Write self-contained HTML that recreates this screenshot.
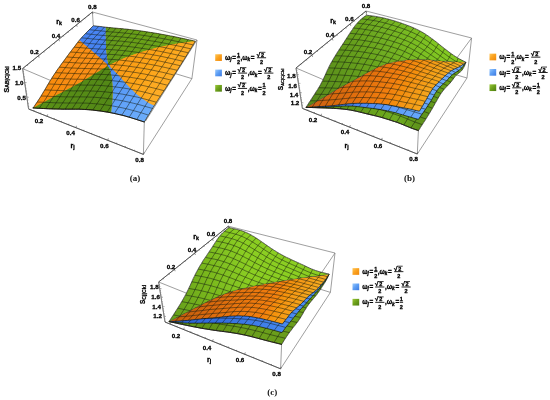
<!DOCTYPE html><html><head><meta charset="utf-8"><title>figure</title><style>html,body{margin:0;padding:0;background:#fff}svg{display:block}</style></head><body><svg width="550" height="400" viewBox="0 0 550 400" font-family="Liberation Sans, sans-serif" fill="#111"><defs><clipPath id="c1"><path d="M33.0,108.0 34.7,108.1 36.4,108.2 38.1,108.3 39.8,108.3 41.5,108.4 43.2,108.5 44.9,108.6 46.6,108.7 48.4,108.7 50.1,108.8 51.9,108.9 53.6,109.0 55.4,109.0 57.2,109.1 58.9,109.1 60.7,109.1 62.5,109.2 64.3,109.2 66.2,109.2 68.0,109.2 69.8,109.2 71.7,109.2 73.5,109.2 75.4,109.2 77.2,109.2 79.1,109.2 81.0,109.3 82.8,109.4 84.7,109.5 86.6,109.6 88.6,109.7 90.5,109.9 92.4,110.1 94.3,110.3 96.2,110.5 98.2,110.8 100.1,111.0 102.1,111.3 104.0,111.6 106.0,111.9 108.0,112.2 110.0,112.6 111.9,113.0 113.9,113.4 115.9,113.8 117.9,114.3 119.9,114.7 121.9,115.2 123.9,115.7 126.0,116.3 128.0,116.9 130.0,117.4 132.0,118.1 134.0,118.7 136.1,119.3 138.1,120.0 140.2,120.6 142.2,121.3 144.3,122.0 145.5,120.1 146.6,118.2 147.7,116.3 148.9,114.5 150.0,112.7 151.1,110.9 152.1,109.1 153.2,107.4 154.3,105.7 155.4,104.0 156.4,102.4 157.5,100.7 158.5,99.1 159.6,97.5 160.6,96.0 161.6,94.4 162.6,92.9 163.6,91.4 164.6,89.9 165.6,88.4 166.5,86.9 167.5,85.5 168.4,84.0 169.3,82.6 170.2,81.2 171.1,79.8 172.0,78.5 172.9,77.1 173.7,75.8 174.6,74.5 175.4,73.1 176.3,71.8 177.1,70.6 177.9,69.3 178.7,68.0 179.5,66.8 180.3,65.6 181.1,64.3 181.8,63.1 182.6,61.9 183.3,60.7 184.1,59.6 184.8,58.4 185.5,57.3 186.2,56.1 186.9,55.0 187.6,53.9 188.3,52.7 189.0,51.6 189.7,50.6 190.3,49.5 191.0,48.4 191.6,47.4 192.3,46.3 192.9,45.3 193.6,44.2 194.2,43.2 194.8,42.2 195.4,41.2 193.4,40.8 191.4,40.3 189.5,39.9 187.5,39.5 185.6,39.0 183.6,38.6 181.7,38.2 179.8,37.8 177.9,37.4 176.0,37.0 174.1,36.6 172.2,36.2 170.3,35.9 168.5,35.5 166.6,35.2 164.8,34.8 162.9,34.5 161.1,34.2 159.3,33.8 157.5,33.5 155.7,33.2 153.9,32.9 152.1,32.6 150.3,32.4 148.6,32.1 146.8,31.8 145.1,31.5 143.3,31.3 141.6,31.0 139.9,30.8 138.2,30.5 136.4,30.3 134.7,30.1 133.1,29.9 131.4,29.7 129.7,29.5 128.0,29.3 126.4,29.1 124.7,29.0 123.1,28.8 121.4,28.6 119.8,28.5 118.2,28.4 116.5,28.2 114.9,28.1 113.3,27.9 111.8,27.8 110.2,27.6 108.6,27.5 107.0,27.3 105.5,27.2 103.9,27.0 102.4,26.8 100.8,26.6 99.3,26.4 97.8,26.3 96.3,26.1 94.8,25.9 93.3,25.7 92.2,26.8 91.2,27.8 90.1,28.9 89.0,30.0 87.9,31.1 86.9,32.1 85.8,33.2 84.7,34.3 83.6,35.5 82.5,36.6 81.4,37.8 80.4,39.0 79.4,40.2 78.4,41.4 77.4,42.7 76.4,44.0 75.5,45.3 74.5,46.6 73.5,47.8 72.5,49.2 71.5,50.5 70.5,51.8 69.5,53.1 68.5,54.5 67.5,55.8 66.5,57.2 65.5,58.6 64.5,60.0 63.5,61.3 62.4,62.7 61.4,64.1 60.4,65.5 59.4,67.0 58.3,68.4 57.3,69.8 56.3,71.3 55.3,72.8 54.3,74.3 53.3,75.8 52.3,77.3 51.4,78.8 50.4,80.4 49.4,82.0 48.5,83.5 47.5,85.1 46.6,86.8 45.6,88.4 44.7,90.0 43.7,91.6 42.7,93.3 41.7,94.9 40.7,96.6 39.7,98.2 38.6,99.8 37.5,101.5 36.4,103.1 35.3,104.7 34.2,106.4 33.0,108.0Z"/></clipPath><linearGradient id="g2" gradientUnits="userSpaceOnUse" x1="40" y1="100" x2="100" y2="40"><stop offset="0" stop-color="#f88a10"/><stop offset="1" stop-color="#fa9014"/></linearGradient><linearGradient id="g3" gradientUnits="userSpaceOnUse" x1="115" y1="60" x2="165" y2="100"><stop offset="0" stop-color="#fa9812"/><stop offset="0.5" stop-color="#fda519"/><stop offset="1" stop-color="#fdb02c"/></linearGradient><linearGradient id="g4" gradientUnits="userSpaceOnUse" x1="85" y1="30" x2="108" y2="65"><stop offset="0" stop-color="#4a86f5"/><stop offset="1" stop-color="#4280ee"/></linearGradient><linearGradient id="g5" gradientUnits="userSpaceOnUse" x1="110" y1="70" x2="145" y2="118"><stop offset="0" stop-color="#4a8cf2"/><stop offset="0.6" stop-color="#62a3fa"/><stop offset="1" stop-color="#6cadfb"/></linearGradient><linearGradient id="g6" gradientUnits="userSpaceOnUse" x1="107" y1="30" x2="190" y2="45"><stop offset="0" stop-color="#64991a"/><stop offset="0.4" stop-color="#69a019"/><stop offset="1" stop-color="#70a81c"/></linearGradient><linearGradient id="g7" gradientUnits="userSpaceOnUse" x1="40" y1="108" x2="112" y2="90"><stop offset="0" stop-color="#5a9016"/><stop offset="1" stop-color="#528814"/></linearGradient><linearGradient id="g8" gradientUnits="userSpaceOnUse" x1="215.2" y1="54.25" x2="221.89999999999998" y2="60.95"><stop offset="0" stop-color="#ffc85a"/><stop offset="0.45" stop-color="#fba321"/><stop offset="1" stop-color="#ef8608"/></linearGradient><linearGradient id="g9" gradientUnits="userSpaceOnUse" x1="215.2" y1="69.6" x2="221.89999999999998" y2="76.3"><stop offset="0" stop-color="#9ccbfd"/><stop offset="0.45" stop-color="#5fa0f5"/><stop offset="1" stop-color="#3c78e0"/></linearGradient><linearGradient id="g10" gradientUnits="userSpaceOnUse" x1="215.2" y1="84.95" x2="221.89999999999998" y2="91.65"><stop offset="0" stop-color="#9cc83c"/><stop offset="0.45" stop-color="#6fa31c"/><stop offset="1" stop-color="#4d7c10"/></linearGradient><linearGradient id="g11" gradientUnits="userSpaceOnUse" x1="306" y1="107" x2="455.4" y2="77.1"><stop offset="0" stop-color="#56871b"/><stop offset="0.07" stop-color="#598c1b"/><stop offset="0.23" stop-color="#5e941b"/><stop offset="0.43" stop-color="#68a21e"/><stop offset="0.6" stop-color="#71af21"/><stop offset="0.91" stop-color="#80c621"/><stop offset="1" stop-color="#83c921"/></linearGradient><linearGradient id="g12" gradientUnits="userSpaceOnUse" x1="306" y1="107" x2="450" y2="90"><stop offset="0" stop-color="#2f6cd8"/><stop offset="0.4" stop-color="#4b87f0"/><stop offset="0.7" stop-color="#64a5fa"/><stop offset="1" stop-color="#6aaafb"/></linearGradient><linearGradient id="g13" gradientUnits="userSpaceOnUse" x1="306" y1="107" x2="401.6" y2="164.4"><stop offset="0" stop-color="#c65f15"/><stop offset="0.15" stop-color="#d56711"/><stop offset="0.36" stop-color="#e47008"/><stop offset="0.55" stop-color="#f27e0a"/><stop offset="0.82" stop-color="#f5a018"/><stop offset="1" stop-color="#f6af27"/></linearGradient><clipPath id="c14"><path d="M306.0,107.4 307.8,107.4 309.6,107.5 311.4,107.5 313.2,107.6 315.0,107.6 316.8,107.7 318.6,107.8 320.4,107.8 322.3,107.9 324.1,107.9 325.9,108.0 327.8,108.1 329.6,108.2 331.5,108.3 333.3,108.4 335.2,108.5 337.1,108.6 339.0,108.7 340.9,108.9 342.7,109.1 344.6,109.3 346.5,109.5 348.4,109.7 350.3,110.1 352.2,110.4 354.1,110.8 356.0,111.2 357.9,111.6 359.8,112.1 361.7,112.5 363.6,113.0 365.5,113.5 367.4,114.0 369.3,114.4 371.3,114.9 373.2,115.3 375.2,115.8 377.1,116.3 379.1,116.8 381.0,117.3 383.0,117.9 384.9,118.5 386.9,119.1 388.8,119.7 390.8,120.3 392.7,121.0 394.7,121.6 396.7,122.3 398.6,123.0 400.6,123.7 402.5,124.5 404.5,125.3 406.4,126.1 408.4,126.9 410.3,127.7 412.3,128.5 414.3,129.2 416.4,129.9 418.4,130.6 419.5,129.0 420.5,127.3 421.6,125.7 422.6,124.2 423.6,122.6 424.6,121.1 425.6,119.5 426.5,118.0 427.5,116.5 428.4,115.0 429.3,113.6 430.2,112.1 431.0,110.7 431.9,109.2 432.7,107.8 433.5,106.4 434.3,105.0 435.0,103.6 435.8,102.3 436.6,100.9 437.3,99.6 438.1,98.2 438.8,97.0 439.6,95.7 440.4,94.4 441.2,93.2 442.0,92.1 442.8,91.0 443.7,89.9 444.6,88.8 445.5,87.8 446.5,86.8 447.4,85.9 448.3,84.9 449.2,84.0 450.1,83.0 450.9,82.0 451.7,81.0 452.5,80.0 453.2,79.0 453.9,78.0 454.7,77.0 455.4,76.1 456.2,75.3 457.1,74.5 458.0,73.8 458.9,73.1 459.8,72.3 460.7,71.6 461.5,70.8 462.2,69.9 462.8,69.0 463.4,68.1 463.9,67.1 464.4,66.2 464.8,65.2 465.2,64.2 465.5,63.3 465.9,62.3 463.8,61.2 461.7,60.1 459.6,59.0 457.6,57.9 455.6,56.6 453.7,55.4 451.8,54.1 450.0,52.8 448.2,51.4 446.5,50.1 444.7,48.7 443.0,47.4 441.3,46.1 439.7,44.7 438.0,43.4 436.4,42.1 434.7,40.8 433.1,39.6 431.5,38.4 429.8,37.2 428.2,36.0 426.5,34.9 424.9,33.8 423.2,32.8 421.5,31.8 419.8,30.9 418.1,30.0 416.4,29.2 414.7,28.4 413.0,27.6 411.3,26.9 409.6,26.2 407.9,25.6 406.2,24.9 404.5,24.3 402.8,23.7 401.2,23.1 399.5,22.5 397.8,22.0 396.2,21.5 394.6,20.9 393.0,20.5 391.3,20.0 389.7,19.5 388.1,19.1 386.5,18.7 384.9,18.3 383.4,17.9 381.8,17.6 380.2,17.3 378.7,17.0 377.1,16.7 375.6,16.4 374.0,16.2 372.5,16.0 371.0,15.8 369.5,15.6 368.0,15.4 366.5,15.2 365.2,16.1 363.8,17.1 362.5,18.1 361.3,19.1 360.0,20.2 358.8,21.4 357.7,22.6 356.6,23.9 355.5,25.2 354.4,26.6 353.4,27.9 352.5,29.4 351.5,30.8 350.5,32.2 349.6,33.7 348.6,35.1 347.7,36.6 346.7,38.1 345.7,39.6 344.8,41.1 343.8,42.6 342.8,44.1 341.8,45.6 340.8,47.1 339.8,48.6 338.8,50.2 337.8,51.7 336.8,53.3 335.8,54.9 334.8,56.5 333.9,58.1 332.9,59.7 332.0,61.3 331.0,63.0 330.1,64.7 329.2,66.4 328.4,68.2 327.5,69.9 326.7,71.7 325.9,73.5 325.1,75.3 324.3,77.1 323.4,78.9 322.6,80.7 321.6,82.5 320.7,84.3 319.7,86.1 318.6,87.8 317.6,89.6 316.4,91.3 315.3,93.1 314.2,94.8 313.0,96.6 311.8,98.4 310.7,100.2 309.5,101.9 308.3,103.8 307.2,105.6 306.0,107.4Z"/></clipPath><linearGradient id="g15" gradientUnits="userSpaceOnUse" x1="306" y1="0" x2="418.4" y2="0"><stop offset="0" stop-color="#000" stop-opacity="0"/><stop offset="0.8" stop-color="#000" stop-opacity="0.0"/><stop offset="1" stop-color="#000" stop-opacity="0.2"/></linearGradient><clipPath id="c16"><path d="M306.0,107.4 308.6,107.4 311.2,107.4 313.8,107.4 316.4,107.3 319.0,107.3 321.7,107.2 324.3,107.1 327.0,107.1 329.7,106.9 332.4,106.8 335.2,106.6 337.9,106.4 340.7,106.2 343.5,106.1 346.3,106.0 349.1,106.0 352.0,106.1 354.8,106.3 357.7,106.6 360.6,106.9 363.5,107.3 366.5,107.7 369.4,108.0 372.4,108.4 375.3,108.8 378.3,109.2 381.4,109.7 384.4,110.3 387.4,110.9 390.4,111.6 393.5,112.3 396.5,113.1 399.6,114.0 402.7,114.9 405.8,115.8 408.9,116.7 412.0,117.6 415.2,118.5 418.4,119.4 419.9,117.2 421.4,115.1 422.9,113.0 424.3,111.0 425.7,109.0 427.0,107.0 428.3,105.0 429.6,103.1 430.8,101.2 431.9,99.3 433.0,97.3 434.1,95.5 435.1,93.6 436.2,91.9 437.4,90.2 438.6,88.6 439.9,87.2 441.3,85.8 442.6,84.5 444.0,83.2 445.4,81.9 446.7,80.7 447.9,79.3 449.0,78.0 450.2,76.8 451.4,75.6 452.7,74.5 454.0,73.6 455.4,72.7 456.7,71.8 458.0,70.9 459.3,70.0 460.5,69.0 461.6,68.0 462.6,66.9 463.5,65.8 464.3,64.7 465.1,63.5 465.9,62.3 465.9,62.3 462.4,62.1 458.9,61.9 455.4,61.7 451.9,61.6 448.4,61.4 444.9,61.3 441.4,61.1 437.9,60.8 434.5,60.4 431.0,60.1 427.5,59.8 424.0,59.6 420.5,59.6 417.0,59.6 413.5,59.6 410.0,59.8 406.5,60.1 403.0,60.4 399.6,60.9 396.1,61.5 392.7,62.2 389.3,63.1 385.9,64.1 382.6,65.3 379.4,66.6 376.2,68.0 373.1,69.6 370.0,71.2 366.9,72.9 363.8,74.6 360.8,76.4 357.7,78.1 354.7,79.8 351.6,81.4 348.5,83.0 345.4,84.7 342.3,86.3 339.3,88.0 336.2,89.8 333.2,91.6 330.2,93.4 327.3,95.2 324.3,97.0 321.2,98.8 318.2,100.6 315.2,102.3 312.1,104.0 309.1,105.7 306.0,107.4Z"/></clipPath><clipPath id="c17"><path d="M306.0,107.4 308.6,107.3 311.2,107.1 313.8,106.9 316.4,106.8 319.0,106.6 321.7,106.5 324.4,106.3 327.1,106.1 329.8,105.9 332.5,105.7 335.2,105.4 338.0,105.0 340.7,104.7 343.5,104.4 346.3,104.0 349.1,103.8 352.0,103.6 354.9,103.4 357.8,103.3 360.7,103.3 363.6,103.3 366.6,103.3 369.6,103.4 372.6,103.5 375.6,103.6 378.6,103.8 381.7,104.1 384.7,104.4 387.8,104.8 390.9,105.4 394.0,105.9 397.1,106.6 400.2,107.2 403.4,107.8 406.5,108.4 409.7,109.0 412.9,109.7 416.2,110.5 419.4,111.2 420.7,109.1 421.9,107.1 423.1,105.1 424.2,103.1 425.4,101.2 426.5,99.2 427.5,97.3 428.5,95.5 429.6,93.6 430.6,91.9 431.7,90.2 432.8,88.6 434.0,87.1 435.3,85.6 436.5,84.3 437.8,82.9 439.1,81.7 440.4,80.4 441.6,79.2 442.9,78.0 444.1,76.8 445.3,75.6 446.5,74.5 447.7,73.5 449.0,72.5 450.2,71.6 451.5,70.7 452.8,69.9 454.1,69.2 455.5,68.6 456.8,68.0 458.1,67.4 459.3,66.8 460.5,66.1 461.7,65.4 462.8,64.6 463.8,63.9 464.9,63.1 465.9,62.3 465.9,62.3 462.4,62.1 458.9,61.9 455.4,61.7 451.9,61.6 448.4,61.4 444.9,61.3 441.4,61.1 437.9,60.8 434.5,60.4 431.0,60.1 427.5,59.8 424.0,59.6 420.5,59.6 417.0,59.6 413.5,59.6 410.0,59.8 406.5,60.1 403.0,60.4 399.6,60.9 396.1,61.5 392.7,62.2 389.3,63.1 385.9,64.1 382.6,65.3 379.4,66.6 376.2,68.0 373.1,69.6 370.0,71.2 366.9,72.9 363.8,74.6 360.8,76.4 357.7,78.1 354.7,79.8 351.6,81.4 348.5,83.0 345.4,84.7 342.3,86.3 339.3,88.0 336.2,89.8 333.2,91.6 330.2,93.4 327.3,95.2 324.3,97.0 321.2,98.8 318.2,100.6 315.2,102.3 312.1,104.0 309.1,105.7 306.0,107.4Z"/></clipPath><linearGradient id="g18" gradientUnits="userSpaceOnUse" x1="489.5" y1="53.65" x2="496.2" y2="60.35"><stop offset="0" stop-color="#ffc85a"/><stop offset="0.45" stop-color="#fba321"/><stop offset="1" stop-color="#ef8608"/></linearGradient><linearGradient id="g19" gradientUnits="userSpaceOnUse" x1="489.5" y1="69.0" x2="496.2" y2="75.7"><stop offset="0" stop-color="#9ccbfd"/><stop offset="0.45" stop-color="#5fa0f5"/><stop offset="1" stop-color="#3c78e0"/></linearGradient><linearGradient id="g20" gradientUnits="userSpaceOnUse" x1="489.5" y1="84.35" x2="496.2" y2="91.05"><stop offset="0" stop-color="#9cc83c"/><stop offset="0.45" stop-color="#6fa31c"/><stop offset="1" stop-color="#4d7c10"/></linearGradient><linearGradient id="g21" gradientUnits="userSpaceOnUse" x1="169" y1="322" x2="260.7" y2="303.7"><stop offset="0" stop-color="#659d1e"/><stop offset="0.18" stop-color="#6ba51e"/><stop offset="0.4" stop-color="#76b31e"/><stop offset="0.95" stop-color="#8bce22"/><stop offset="1" stop-color="#8bce22"/></linearGradient><linearGradient id="g22" gradientUnits="userSpaceOnUse" x1="169" y1="322" x2="310" y2="300"><stop offset="0" stop-color="#2a62d2"/><stop offset="0.4" stop-color="#3570e0"/><stop offset="0.75" stop-color="#4586ee"/><stop offset="1" stop-color="#4c8ef5"/></linearGradient><linearGradient id="g23" gradientUnits="userSpaceOnUse" x1="169" y1="322" x2="263" y2="378.5"><stop offset="0" stop-color="#c05b11"/><stop offset="0.23" stop-color="#d5670c"/><stop offset="0.45" stop-color="#e7740c"/><stop offset="0.7" stop-color="#f27e0a"/><stop offset="0.78" stop-color="#f5920f"/><stop offset="0.9" stop-color="#f6a018"/><stop offset="1" stop-color="#f6aa22"/></linearGradient><clipPath id="c24"><path d="M169.0,321.6 170.7,322.0 172.5,322.3 174.2,322.7 176.0,323.1 177.7,323.5 179.5,323.8 181.3,324.2 183.0,324.6 184.8,325.0 186.6,325.3 188.4,325.7 190.2,326.1 192.0,326.5 193.8,326.8 195.6,327.2 197.5,327.5 199.3,327.9 201.1,328.2 203.0,328.5 204.8,328.8 206.7,329.1 208.6,329.4 210.4,329.7 212.3,330.0 214.2,330.3 216.1,330.5 218.0,330.8 220.0,331.1 221.9,331.3 223.8,331.6 225.7,331.8 227.7,332.1 229.6,332.4 231.6,332.7 233.5,333.0 235.5,333.3 237.4,333.6 239.4,334.0 241.4,334.4 243.3,334.8 245.3,335.2 247.3,335.7 249.3,336.1 251.2,336.6 253.2,337.1 255.2,337.6 257.2,338.1 259.2,338.7 261.2,339.2 263.2,339.7 265.2,340.3 267.2,340.8 269.3,341.3 271.3,341.8 273.3,342.3 275.4,342.9 277.5,343.4 279.5,343.9 281.6,344.4 282.7,342.7 283.7,341.0 284.7,339.4 285.8,337.8 286.8,336.2 287.9,334.7 288.9,333.2 290.0,331.7 291.1,330.3 292.1,328.9 293.2,327.5 294.3,326.1 295.4,324.8 296.4,323.5 297.4,322.2 298.4,320.8 299.3,319.5 300.2,318.1 301.0,316.8 301.8,315.4 302.6,314.1 303.4,312.7 304.1,311.4 304.9,310.1 305.7,308.9 306.5,307.6 307.3,306.4 308.1,305.2 308.9,304.1 309.8,303.0 310.6,301.9 311.5,300.9 312.4,299.8 313.3,298.8 314.1,297.8 315.0,296.8 315.8,295.8 316.6,294.8 317.4,293.7 318.1,292.7 318.8,291.7 319.5,290.7 320.2,289.7 320.9,288.7 321.5,287.7 322.2,286.7 322.8,285.7 323.5,284.7 324.1,283.7 324.7,282.8 325.3,281.8 325.9,280.9 326.4,279.9 326.9,278.9 327.4,278.0 327.8,277.0 328.3,276.0 328.7,275.1 329.1,274.1 326.8,273.6 324.5,273.0 322.2,272.5 320.0,271.9 317.8,271.2 315.6,270.5 313.5,269.7 311.4,268.9 309.4,268.0 307.4,267.1 305.4,266.1 303.5,265.2 301.5,264.3 299.6,263.4 297.7,262.5 295.8,261.7 293.9,260.8 292.0,260.0 290.2,259.1 288.4,258.2 286.6,257.4 284.8,256.5 283.1,255.6 281.3,254.6 279.7,253.7 278.0,252.7 276.4,251.7 274.8,250.7 273.2,249.7 271.7,248.7 270.2,247.7 268.6,246.6 267.1,245.6 265.7,244.6 264.2,243.5 262.7,242.5 261.3,241.5 259.8,240.5 258.4,239.5 257.0,238.6 255.5,237.6 254.1,236.7 252.6,235.9 251.2,235.0 249.7,234.2 248.3,233.5 246.8,232.8 245.4,232.2 243.9,231.6 242.4,231.0 240.9,230.5 239.4,230.1 237.9,229.7 236.4,229.3 234.9,228.9 233.4,228.6 231.9,228.2 230.5,227.9 229.0,227.6 227.7,228.6 226.4,229.6 225.1,230.7 223.8,231.8 222.6,232.9 221.4,234.1 220.3,235.4 219.2,236.7 218.2,238.1 217.2,239.5 216.3,240.9 215.3,242.4 214.4,243.9 213.4,245.3 212.5,246.8 211.5,248.3 210.5,249.7 209.5,251.2 208.5,252.7 207.5,254.2 206.5,255.7 205.5,257.2 204.4,258.7 203.4,260.2 202.4,261.8 201.5,263.4 200.5,265.0 199.5,266.6 198.6,268.2 197.7,269.9 196.8,271.5 195.9,273.2 195.0,275.0 194.2,276.7 193.3,278.4 192.5,280.2 191.7,282.0 190.9,283.8 190.1,285.6 189.2,287.4 188.4,289.2 187.5,291.0 186.6,292.8 185.7,294.6 184.7,296.4 183.7,298.2 182.7,300.0 181.6,301.8 180.6,303.5 179.5,305.3 178.4,307.1 177.2,308.9 176.1,310.7 174.9,312.5 173.8,314.3 172.6,316.1 171.4,317.9 170.2,319.8 169.0,321.6Z"/></clipPath><linearGradient id="g25" gradientUnits="userSpaceOnUse" x1="169" y1="0" x2="281.6" y2="0"><stop offset="0" stop-color="#000" stop-opacity="0"/><stop offset="0.3" stop-color="#000" stop-opacity="0.17"/><stop offset="1" stop-color="#000" stop-opacity="0.24"/></linearGradient><clipPath id="c26"><path d="M169.0,321.6 171.6,321.9 174.1,322.1 176.7,322.4 179.3,322.6 182.0,322.8 184.6,323.0 187.3,323.1 190.0,323.2 192.7,323.2 195.4,323.2 198.2,323.2 200.9,323.2 203.7,323.1 206.5,323.1 209.3,323.1 212.2,323.0 215.0,323.0 217.9,323.0 220.8,323.0 223.7,323.1 226.6,323.2 229.6,323.3 232.5,323.5 235.5,323.6 238.5,323.8 241.6,324.1 244.6,324.3 247.7,324.7 250.7,325.1 253.8,325.6 256.9,326.2 260.0,326.8 263.1,327.5 266.2,328.3 269.3,329.1 272.5,329.9 275.6,330.8 278.8,331.7 282.0,332.6 283.6,330.4 285.1,328.3 286.6,326.3 288.2,324.4 289.8,322.5 291.3,320.6 292.8,318.8 294.2,317.0 295.7,315.2 297.1,313.5 298.5,311.8 299.9,310.2 301.3,308.6 302.7,307.0 304.1,305.5 305.5,304.0 306.8,302.6 308.1,301.1 309.3,299.7 310.6,298.3 311.8,296.9 313.1,295.6 314.3,294.3 315.5,293.0 316.7,291.7 317.8,290.5 318.9,289.2 319.9,287.9 320.9,286.6 321.9,285.3 322.9,284.1 323.8,282.8 324.7,281.6 325.6,280.4 326.3,279.1 327.1,277.9 327.8,276.6 328.4,275.3 329.1,274.1 329.1,274.1 325.7,274.7 322.3,275.2 318.9,275.8 315.5,276.2 312.1,276.6 308.7,277.0 305.3,277.5 301.8,277.9 298.4,278.4 295.0,278.9 291.6,279.4 288.2,280.0 284.8,280.5 281.4,281.1 278.0,281.7 274.6,282.2 271.3,282.8 267.9,283.5 264.5,284.1 261.1,284.7 257.7,285.4 254.4,286.1 251.0,286.8 247.6,287.5 244.3,288.2 240.9,289.0 237.6,289.8 234.2,290.7 231.0,291.7 227.7,292.8 224.5,294.0 221.3,295.3 218.1,296.6 214.9,298.0 211.8,299.5 208.7,301.0 205.6,302.5 202.6,304.1 199.5,305.7 196.4,307.2 193.4,308.8 190.3,310.4 187.3,312.0 184.2,313.6 181.2,315.2 178.1,316.8 175.1,318.4 172.0,320.0 169.0,321.6Z"/></clipPath><clipPath id="c27"><path d="M169.0,321.6 171.6,321.5 174.2,321.3 176.8,321.2 179.4,321.0 182.1,320.8 184.7,320.6 187.4,320.4 190.1,320.1 192.8,319.8 195.5,319.5 198.2,319.2 201.0,318.9 203.8,318.6 206.6,318.4 209.4,318.1 212.2,317.9 215.1,317.7 218.0,317.4 220.9,317.1 223.8,316.8 226.7,316.5 229.6,316.2 232.6,316.0 235.6,315.9 238.6,315.8 241.7,315.9 244.8,316.1 247.8,316.3 250.9,316.7 254.0,317.2 257.1,317.8 260.2,318.4 263.4,319.1 266.5,319.9 269.6,320.6 272.8,321.4 276.0,322.3 279.2,323.1 282.4,324.0 283.9,322.1 285.3,320.2 286.8,318.4 288.2,316.5 289.6,314.8 291.0,313.1 292.5,311.6 294.0,310.2 295.6,308.8 297.1,307.4 298.7,306.1 300.1,304.8 301.5,303.5 302.9,302.1 304.1,300.8 305.4,299.4 306.6,298.1 307.9,296.9 309.2,295.7 310.5,294.6 311.9,293.6 313.2,292.6 314.5,291.6 315.8,290.6 316.9,289.6 318.0,288.5 319.0,287.3 320.0,286.2 321.0,285.0 321.9,283.9 322.9,282.9 323.8,281.8 324.7,280.7 325.5,279.6 326.3,278.5 327.0,277.4 327.7,276.3 328.4,275.2 329.1,274.1 329.1,274.1 325.7,274.7 322.3,275.2 318.9,275.8 315.5,276.2 312.1,276.6 308.7,277.0 305.3,277.5 301.8,277.9 298.4,278.4 295.0,278.9 291.6,279.4 288.2,280.0 284.8,280.5 281.4,281.1 278.0,281.7 274.6,282.2 271.3,282.8 267.9,283.5 264.5,284.1 261.1,284.7 257.7,285.4 254.4,286.1 251.0,286.8 247.6,287.5 244.3,288.2 240.9,289.0 237.6,289.8 234.2,290.7 231.0,291.7 227.7,292.8 224.5,294.0 221.3,295.3 218.1,296.6 214.9,298.0 211.8,299.5 208.7,301.0 205.6,302.5 202.6,304.1 199.5,305.7 196.4,307.2 193.4,308.8 190.3,310.4 187.3,312.0 184.2,313.6 181.2,315.2 178.1,316.8 175.1,318.4 172.0,320.0 169.0,321.6Z"/></clipPath><linearGradient id="g28" gradientUnits="userSpaceOnUse" x1="352.5" y1="268.15" x2="359.2" y2="274.84999999999997"><stop offset="0" stop-color="#ffc85a"/><stop offset="0.45" stop-color="#fba321"/><stop offset="1" stop-color="#ef8608"/></linearGradient><linearGradient id="g29" gradientUnits="userSpaceOnUse" x1="352.5" y1="283.5" x2="359.2" y2="290.2"><stop offset="0" stop-color="#9ccbfd"/><stop offset="0.45" stop-color="#5fa0f5"/><stop offset="1" stop-color="#3c78e0"/></linearGradient><linearGradient id="g30" gradientUnits="userSpaceOnUse" x1="352.5" y1="298.84999999999997" x2="359.2" y2="305.54999999999995"><stop offset="0" stop-color="#9cc83c"/><stop offset="0.45" stop-color="#6fa31c"/><stop offset="1" stop-color="#4d7c10"/></linearGradient><filter id="soft" x="-2%" y="-2%" width="104%" height="104%"><feGaussianBlur stdDeviation="0.32"/></filter></defs><g filter="url(#soft)"><path d="M22.6,68.6 92.4,12.0 M92.4,12.0 197.0,40.0 M22.6,68.6 28.6,109.0 M197.0,40.0 191.9,78.6 M28.6,109.0 143.4,154.4 M143.4,154.4 191.9,78.6 M143.4,154.4 144.3,122.0 M191.9,78.6 150.0,66.0 M92.4,12.0 93.3,25.7 M22.6,68.6 60.0,84.5 M197.0,40.0 145.6,121.0" stroke="#767676" stroke-width="0.7" fill="none"/>
<g clip-path="url(#c1)">
<path d="M33.0,108.0 34.7,108.1 36.4,108.2 38.1,108.3 39.8,108.3 41.5,108.4 43.2,108.5 44.9,108.6 46.6,108.7 48.4,108.7 50.1,108.8 51.9,108.9 53.6,109.0 55.4,109.0 57.2,109.1 58.9,109.1 60.7,109.1 62.5,109.2 64.3,109.2 66.2,109.2 68.0,109.2 69.8,109.2 71.7,109.2 73.5,109.2 75.4,109.2 77.2,109.2 79.1,109.2 81.0,109.3 82.8,109.4 84.7,109.5 86.6,109.6 88.6,109.7 90.5,109.9 92.4,110.1 94.3,110.3 96.2,110.5 98.2,110.8 100.1,111.0 102.1,111.3 104.0,111.6 106.0,111.9 108.0,112.2 110.0,112.6 111.9,113.0 113.9,113.4 115.9,113.8 117.9,114.3 119.9,114.7 121.9,115.2 123.9,115.7 126.0,116.3 128.0,116.9 130.0,117.4 132.0,118.1 134.0,118.7 136.1,119.3 138.1,120.0 140.2,120.6 142.2,121.3 144.3,122.0 145.5,120.1 146.6,118.2 147.7,116.3 148.9,114.5 150.0,112.7 151.1,110.9 152.1,109.1 153.2,107.4 154.3,105.7 155.4,104.0 156.4,102.4 157.5,100.7 158.5,99.1 159.6,97.5 160.6,96.0 161.6,94.4 162.6,92.9 163.6,91.4 164.6,89.9 165.6,88.4 166.5,86.9 167.5,85.5 168.4,84.0 169.3,82.6 170.2,81.2 171.1,79.8 172.0,78.5 172.9,77.1 173.7,75.8 174.6,74.5 175.4,73.1 176.3,71.8 177.1,70.6 177.9,69.3 178.7,68.0 179.5,66.8 180.3,65.6 181.1,64.3 181.8,63.1 182.6,61.9 183.3,60.7 184.1,59.6 184.8,58.4 185.5,57.3 186.2,56.1 186.9,55.0 187.6,53.9 188.3,52.7 189.0,51.6 189.7,50.6 190.3,49.5 191.0,48.4 191.6,47.4 192.3,46.3 192.9,45.3 193.6,44.2 194.2,43.2 194.8,42.2 195.4,41.2 193.4,40.8 191.4,40.3 189.5,39.9 187.5,39.5 185.6,39.0 183.6,38.6 181.7,38.2 179.8,37.8 177.9,37.4 176.0,37.0 174.1,36.6 172.2,36.2 170.3,35.9 168.5,35.5 166.6,35.2 164.8,34.8 162.9,34.5 161.1,34.2 159.3,33.8 157.5,33.5 155.7,33.2 153.9,32.9 152.1,32.6 150.3,32.4 148.6,32.1 146.8,31.8 145.1,31.5 143.3,31.3 141.6,31.0 139.9,30.8 138.2,30.5 136.4,30.3 134.7,30.1 133.1,29.9 131.4,29.7 129.7,29.5 128.0,29.3 126.4,29.1 124.7,29.0 123.1,28.8 121.4,28.6 119.8,28.5 118.2,28.4 116.5,28.2 114.9,28.1 113.3,27.9 111.8,27.8 110.2,27.6 108.6,27.5 107.0,27.3 105.5,27.2 103.9,27.0 102.4,26.8 100.8,26.6 99.3,26.4 97.8,26.3 96.3,26.1 94.8,25.9 93.3,25.7 92.2,26.8 91.2,27.8 90.1,28.9 89.0,30.0 87.9,31.1 86.9,32.1 85.8,33.2 84.7,34.3 83.6,35.5 82.5,36.6 81.4,37.8 80.4,39.0 79.4,40.2 78.4,41.4 77.4,42.7 76.4,44.0 75.5,45.3 74.5,46.6 73.5,47.8 72.5,49.2 71.5,50.5 70.5,51.8 69.5,53.1 68.5,54.5 67.5,55.8 66.5,57.2 65.5,58.6 64.5,60.0 63.5,61.3 62.4,62.7 61.4,64.1 60.4,65.5 59.4,67.0 58.3,68.4 57.3,69.8 56.3,71.3 55.3,72.8 54.3,74.3 53.3,75.8 52.3,77.3 51.4,78.8 50.4,80.4 49.4,82.0 48.5,83.5 47.5,85.1 46.6,86.8 45.6,88.4 44.7,90.0 43.7,91.6 42.7,93.3 41.7,94.9 40.7,96.6 39.7,98.2 38.6,99.8 37.5,101.5 36.4,103.1 35.3,104.7 34.2,106.4 33.0,108.0Z" fill="#f59a1a"/>
<path d="M108.5,65.6 105.4,67.4 102.4,69.1 99.4,70.9 96.3,72.7 93.3,74.5 90.4,76.4 87.4,78.2 84.4,80.1 81.3,81.9 78.3,83.6 75.2,85.3 72.1,87.0 69.0,88.6 65.9,90.2 62.8,91.9 59.6,93.5 56.5,95.1 53.4,96.8 50.4,98.5 47.3,100.2 44.2,101.9 41.1,103.5 38.0,105.2 34.9,106.9 31.9,108.6 28.8,110.3 25.7,112.0 22.6,113.7 19.5,115.4 10.0,60.0 63.5,26.6 65.1,27.9 66.6,29.3 68.2,30.6 69.8,31.9 71.3,33.3 72.9,34.6 74.4,35.9 76.0,37.2 77.6,38.6 79.1,39.9 80.7,41.2 82.3,42.6 83.8,43.9 85.4,45.2 87.0,46.5 88.5,47.9 90.1,49.2 91.6,50.6 93.2,51.9 94.7,53.3 96.3,54.6 97.8,56.0 99.4,57.3 100.9,58.7 102.4,60.1 103.9,61.5 105.5,62.8 107.0,64.2 108.5,65.6Z" fill="url(#g2)"/>
<path d="M108.5,65.6 107.0,64.2 105.5,62.8 103.9,61.5 102.4,60.1 100.9,58.7 99.4,57.3 97.8,56.0 96.3,54.6 94.7,53.3 93.2,51.9 91.6,50.6 90.1,49.2 88.5,47.9 87.0,46.5 85.4,45.2 83.8,43.9 82.3,42.6 80.7,41.2 79.1,39.9 77.6,38.6 76.0,37.2 74.4,35.9 72.9,34.6 71.3,33.3 69.8,31.9 68.2,30.6 66.6,29.3 65.1,27.9 63.5,26.6 80.0,5.0 105.9,10.0 105.9,11.9 105.9,13.8 105.9,15.8 105.9,17.7 105.9,19.6 105.9,21.5 105.9,23.5 105.9,25.4 105.9,27.3 105.9,29.2 105.9,31.1 105.9,33.1 105.8,35.0 105.8,36.9 105.9,38.8 105.9,40.8 105.9,42.7 106.0,44.6 106.1,46.5 106.2,48.5 106.4,50.4 106.6,52.3 106.8,54.2 107.0,56.1 107.3,58.0 107.6,59.9 107.9,61.8 108.2,63.7 108.5,65.6Z" fill="url(#g4)"/>
<path d="M108.5,65.6 108.2,63.7 107.9,61.8 107.6,59.9 107.3,58.0 107.0,56.1 106.8,54.2 106.6,52.3 106.4,50.4 106.2,48.5 106.1,46.5 106.0,44.6 105.9,42.7 105.9,40.8 105.9,38.8 105.8,36.9 105.8,35.0 105.9,33.1 105.9,31.1 105.9,29.2 105.9,27.3 105.9,25.4 105.9,23.5 105.9,21.5 105.9,19.6 105.9,17.7 105.9,15.8 105.9,13.8 105.9,11.9 105.9,10.0 200.0,10.0 210.8,39.2 207.2,39.7 203.5,40.2 199.9,40.6 196.3,41.1 192.6,41.5 189.0,42.0 185.3,42.5 181.7,43.0 178.1,43.5 174.5,44.1 170.9,44.7 167.3,45.4 163.7,46.2 160.1,47.0 156.5,47.8 153.0,48.7 149.4,49.7 145.9,50.7 142.4,51.8 138.9,52.9 135.4,54.0 131.9,55.2 128.5,56.5 125.1,57.8 121.7,59.2 118.4,60.7 115.1,62.3 111.8,63.9 108.5,65.6Z" fill="url(#g6)"/>
<path d="M108.5,65.6 111.8,63.9 115.1,62.3 118.4,60.7 121.7,59.2 125.1,57.8 128.5,56.5 131.9,55.2 135.4,54.0 138.9,52.9 142.4,51.8 145.9,50.7 149.4,49.7 153.0,48.7 156.5,47.8 160.1,47.0 163.7,46.2 167.3,45.4 170.9,44.7 174.5,44.1 178.1,43.5 181.7,43.0 185.3,42.5 189.0,42.0 192.6,41.5 196.3,41.1 199.9,40.6 203.5,40.2 207.2,39.7 210.8,39.2 210.0,100.0 162.9,109.6 160.7,108.6 158.5,107.5 156.3,106.5 154.1,105.5 151.8,104.5 149.6,103.4 147.5,102.2 145.5,100.8 143.5,99.4 141.6,97.9 139.6,96.5 137.7,94.9 135.9,93.4 134.1,91.7 132.3,90.1 130.5,88.4 128.8,86.6 127.2,84.8 125.5,83.0 123.9,81.2 122.2,79.4 120.6,77.6 119.0,75.8 117.3,74.1 115.6,72.3 113.8,70.6 112.1,68.9 110.3,67.3 108.5,65.6Z" fill="url(#g3)"/>
<path d="M108.5,65.6 110.3,67.3 112.1,68.9 113.8,70.6 115.6,72.3 117.3,74.1 119.0,75.8 120.6,77.6 122.2,79.4 123.9,81.2 125.5,83.0 127.2,84.8 128.8,86.6 130.5,88.4 132.3,90.1 134.1,91.7 135.9,93.4 137.7,94.9 139.6,96.5 141.6,97.9 143.5,99.4 145.5,100.8 147.5,102.2 149.6,103.4 151.8,104.5 154.1,105.5 156.3,106.5 158.5,107.5 160.7,108.6 162.9,109.6 150.0,135.0 110.0,130.0 110.1,127.8 110.2,125.5 110.3,123.3 110.4,121.0 110.5,118.8 110.7,116.6 110.9,114.3 111.1,112.1 111.3,109.9 111.6,107.7 111.8,105.4 112.1,103.2 112.3,101.0 112.4,98.7 112.5,96.5 112.6,94.3 112.6,92.0 112.6,89.8 112.6,87.5 112.5,85.3 112.3,83.1 112.1,80.8 111.8,78.6 111.5,76.4 111.0,74.2 110.5,72.0 109.8,69.9 109.2,67.7 108.5,65.6Z" fill="url(#g5)"/>
<path d="M108.5,65.6 109.2,67.7 109.8,69.9 110.5,72.0 111.0,74.2 111.5,76.4 111.8,78.6 112.1,80.8 112.3,83.1 112.5,85.3 112.6,87.5 112.6,89.8 112.6,92.0 112.6,94.3 112.5,96.5 112.4,98.7 112.3,101.0 112.1,103.2 111.8,105.4 111.6,107.7 111.3,109.9 111.1,112.1 110.9,114.3 110.7,116.6 110.5,118.8 110.4,121.0 110.3,123.3 110.2,125.5 110.1,127.8 110.0,130.0 40.0,130.0 19.5,115.4 22.6,113.7 25.7,112.0 28.8,110.3 31.9,108.6 34.9,106.9 38.0,105.2 41.1,103.5 44.2,101.9 47.3,100.2 50.4,98.5 53.4,96.8 56.5,95.1 59.6,93.5 62.8,91.9 65.9,90.2 69.0,88.6 72.1,87.0 75.2,85.3 78.3,83.6 81.3,81.9 84.4,80.1 87.4,78.2 90.4,76.4 93.3,74.5 96.3,72.7 99.4,70.9 102.4,69.1 105.4,67.4 108.5,65.6Z" fill="url(#g7)"/>
<ellipse cx="108.6" cy="65.7" rx="2.3" ry="1.0" transform="rotate(48 108.6 65.7)" fill="#4886f0"/>
<path d="M39.2,108.3 41.3,105.3 43.4,102.3 45.4,99.3 47.3,96.2 49.2,93.2 50.9,90.2 52.7,87.2 54.5,84.2 56.2,81.3 58.0,78.5 59.8,75.7 61.6,72.9 63.5,70.2 65.4,67.6 67.2,65.0 69.1,62.4 71.0,59.9 72.8,57.4 74.6,54.9 76.4,52.4 78.2,50.0 80.0,47.6 81.8,45.3 83.6,42.9 85.4,40.6 87.3,38.4 89.2,36.3 91.1,34.3 93.1,32.3 95.0,30.3 96.9,28.3 98.8,26.4 M37.2,102.0 40.3,102.1 43.4,102.3 46.6,102.4 49.7,102.5 52.9,102.7 56.1,102.8 59.4,102.9 62.7,102.9 66.0,103.0 69.3,103.0 72.7,103.0 76.0,103.0 79.4,103.0 82.9,103.1 86.3,103.1 89.8,103.3 93.4,103.6 96.9,103.9 100.4,104.2 104.0,104.7 107.6,105.2 111.3,105.7 114.9,106.4 118.6,107.1 122.3,107.8 126.0,108.7 129.7,109.6 133.4,110.6 137.1,111.6 140.9,112.7 144.7,113.9 148.5,115.1 M45.5,108.6 47.7,105.6 49.7,102.5 51.7,99.5 53.6,96.5 55.5,93.5 57.3,90.4 59.0,87.5 60.8,84.5 62.6,81.6 64.3,78.8 66.1,76.0 68.0,73.3 69.8,70.6 71.7,68.0 73.5,65.4 75.4,62.8 77.2,60.3 79.0,57.8 80.8,55.3 82.6,52.9 84.4,50.5 86.1,48.1 87.9,45.8 89.6,43.5 91.4,41.2 93.2,39.0 95.1,36.9 97.0,34.9 98.9,32.9 100.8,30.9 102.7,29.0 104.5,27.0 M41.1,96.0 44.2,96.1 47.3,96.2 50.5,96.4 53.6,96.5 56.8,96.6 60.0,96.7 63.3,96.8 66.6,96.9 69.9,96.9 73.2,96.9 76.6,96.9 79.9,96.9 83.3,96.9 86.8,97.0 90.2,97.1 93.7,97.2 97.3,97.5 100.8,97.8 104.4,98.1 107.9,98.6 111.6,99.0 115.2,99.6 118.8,100.2 122.5,100.8 126.2,101.6 129.9,102.4 133.6,103.3 137.4,104.2 141.1,105.2 144.9,106.3 148.7,107.4 152.6,108.5 M52.0,108.9 54.1,105.8 56.1,102.8 58.1,99.7 60.0,96.7 61.9,93.7 63.7,90.7 65.5,87.7 67.2,84.8 69.0,81.9 70.8,79.0 72.6,76.3 74.4,73.5 76.2,70.9 78.1,68.3 79.9,65.7 81.7,63.2 83.5,60.7 85.3,58.2 87.1,55.7 88.8,53.3 90.6,50.9 92.4,48.6 94.1,46.3 95.8,44.0 97.5,41.7 99.3,39.5 101.1,37.5 103.0,35.4 104.8,33.5 106.7,31.5 108.5,29.6 110.3,27.6 M44.7,89.9 47.8,90.0 50.9,90.2 54.1,90.3 57.3,90.4 60.5,90.6 63.7,90.7 66.9,90.8 70.2,90.8 73.5,90.9 76.9,90.9 80.2,90.9 83.6,90.9 87.0,90.9 90.5,91.0 93.9,91.1 97.4,91.3 101.0,91.5 104.5,91.8 108.1,92.2 111.7,92.6 115.3,93.1 118.9,93.6 122.6,94.2 126.3,94.9 130.0,95.6 133.7,96.4 137.5,97.2 141.2,98.1 145.0,99.1 148.8,100.1 152.6,101.2 156.5,102.3 M58.5,109.1 60.6,106.0 62.7,102.9 64.7,99.9 66.6,96.9 68.4,93.8 70.2,90.8 72.0,87.8 73.8,84.9 75.5,82.1 77.3,79.2 79.1,76.5 80.9,73.8 82.8,71.1 84.6,68.5 86.4,66.0 88.2,63.4 90.0,60.9 91.8,58.5 93.5,56.0 95.2,53.6 97.0,51.3 98.7,49.0 100.4,46.7 102.1,44.4 103.8,42.2 105.5,40.0 107.3,37.9 109.1,35.9 110.9,34.0 112.7,32.0 114.4,30.1 116.1,28.2 M48.2,83.9 51.3,84.1 54.5,84.2 57.6,84.4 60.8,84.5 64.0,84.6 67.2,84.8 70.5,84.9 73.8,84.9 77.1,85.0 80.4,85.0 83.8,85.1 87.2,85.1 90.6,85.1 94.1,85.2 97.5,85.3 101.0,85.5 104.6,85.8 108.1,86.1 111.7,86.5 115.3,86.9 118.9,87.4 122.6,87.9 126.3,88.5 130.0,89.1 133.7,89.8 137.4,90.6 141.2,91.4 145.0,92.3 148.8,93.3 152.6,94.3 156.5,95.3 160.3,96.3 M65.1,109.2 67.2,106.1 69.3,103.0 71.3,100.0 73.2,96.9 75.0,93.9 76.9,90.9 78.6,87.9 80.4,85.0 82.2,82.2 84.0,79.4 85.8,76.6 87.6,73.9 89.4,71.3 91.2,68.7 93.0,66.2 94.8,63.7 96.6,61.2 98.3,58.7 100.0,56.3 101.7,54.0 103.4,51.6 105.1,49.3 106.8,47.0 108.4,44.8 110.1,42.6 111.8,40.5 113.5,38.4 115.3,36.4 117.0,34.5 118.8,32.5 120.5,30.6 122.1,28.7 M51.8,78.2 54.9,78.3 58.0,78.5 61.2,78.6 64.3,78.8 67.5,78.9 70.8,79.0 74.0,79.2 77.3,79.2 80.6,79.3 84.0,79.4 87.4,79.4 90.8,79.5 94.2,79.5 97.6,79.6 101.1,79.8 104.6,80.0 108.2,80.3 111.7,80.6 115.3,81.0 118.9,81.4 122.5,81.9 126.2,82.4 129.9,83.0 133.6,83.6 137.3,84.3 141.1,85.1 144.8,85.9 148.6,86.8 152.4,87.7 156.3,88.7 160.1,89.7 164.0,90.7 M71.9,109.2 74.0,106.1 76.0,103.0 78.0,100.0 79.9,96.9 81.8,93.9 83.6,90.9 85.4,88.0 87.2,85.1 89.0,82.3 90.8,79.5 92.6,76.8 94.3,74.1 96.1,71.5 97.9,68.9 99.7,66.4 101.5,63.9 103.2,61.4 104.9,59.0 106.6,56.6 108.3,54.3 110.0,52.0 111.7,49.7 113.3,47.4 114.9,45.2 116.6,43.1 118.2,41.0 119.9,38.9 121.6,36.9 123.3,35.0 125.0,33.1 126.6,31.2 128.2,29.3 M55.4,72.6 58.5,72.8 61.6,72.9 64.8,73.1 68.0,73.3 71.2,73.4 74.4,73.5 77.7,73.7 80.9,73.8 84.2,73.9 87.6,73.9 91.0,74.0 94.3,74.1 97.8,74.2 101.2,74.3 104.7,74.5 108.2,74.7 111.7,75.0 115.3,75.4 118.8,75.7 122.5,76.2 126.1,76.7 129.7,77.2 133.4,77.8 137.1,78.4 140.8,79.1 144.6,79.8 148.4,80.6 152.2,81.5 156.0,82.4 159.8,83.3 163.7,84.3 167.6,85.3 M78.7,109.2 80.8,106.1 82.9,103.1 84.9,100.0 86.8,97.0 88.6,94.0 90.5,91.0 92.3,88.1 94.1,85.2 95.8,82.4 97.6,79.6 99.4,76.9 101.2,74.3 103.0,71.7 104.8,69.2 106.6,66.7 108.3,64.2 110.0,61.8 111.7,59.4 113.4,57.0 115.0,54.7 116.7,52.4 118.3,50.2 119.9,48.0 121.5,45.8 123.1,43.6 124.7,41.6 126.4,39.6 128.0,37.6 129.7,35.7 131.3,33.8 132.9,31.9 134.4,30.0 M59.2,67.2 62.3,67.4 65.4,67.6 68.5,67.8 71.7,68.0 74.9,68.1 78.1,68.3 81.3,68.4 84.6,68.5 87.9,68.6 91.2,68.7 94.6,68.8 97.9,68.9 101.4,69.0 104.8,69.2 108.2,69.4 111.7,69.6 115.2,69.9 118.8,70.3 122.4,70.7 125.9,71.1 129.6,71.6 133.2,72.2 136.9,72.7 140.6,73.4 144.3,74.0 148.0,74.8 151.8,75.6 155.5,76.4 159.4,77.3 163.2,78.2 167.0,79.1 170.9,80.1 M85.7,109.5 87.8,106.4 89.8,103.3 91.8,100.3 93.7,97.2 95.6,94.2 97.4,91.3 99.2,88.4 101.0,85.5 102.8,82.7 104.6,80.0 106.4,77.3 108.2,74.7 110.0,72.1 111.7,69.6 113.5,67.2 115.2,64.7 116.9,62.3 118.6,59.9 120.2,57.6 121.9,55.3 123.5,53.0 125.1,50.8 126.7,48.6 128.2,46.5 129.8,44.4 131.4,42.3 133.0,40.3 134.5,38.4 136.1,36.5 137.7,34.6 139.2,32.7 140.7,30.9 M63.0,62.0 66.0,62.2 69.1,62.4 72.2,62.6 75.4,62.8 78.5,63.0 81.7,63.2 85.0,63.3 88.2,63.4 91.5,63.6 94.8,63.7 98.1,63.8 101.5,63.9 104.9,64.0 108.3,64.2 111.7,64.4 115.2,64.7 118.7,65.0 122.2,65.4 125.8,65.8 129.3,66.3 132.9,66.8 136.6,67.3 140.2,67.9 143.9,68.5 147.6,69.2 151.3,69.9 155.0,70.7 158.8,71.5 162.6,72.3 166.4,73.2 170.3,74.2 174.2,75.1 M92.7,110.1 94.8,107.0 96.9,103.9 98.9,100.8 100.8,97.8 102.7,94.8 104.5,91.8 106.3,88.9 108.1,86.1 109.9,83.3 111.7,80.6 113.5,78.0 115.3,75.4 117.0,72.8 118.8,70.3 120.5,67.8 122.2,65.4 123.9,63.0 125.5,60.7 127.2,58.3 128.8,56.1 130.4,53.8 131.9,51.6 133.5,49.5 135.0,47.3 136.5,45.2 138.1,43.2 139.6,41.2 141.2,39.3 142.7,37.4 144.2,35.5 145.7,33.7 147.1,31.8 M66.7,56.9 69.7,57.2 72.8,57.4 75.9,57.6 79.0,57.8 82.1,58.0 85.3,58.2 88.5,58.3 91.8,58.5 95.0,58.6 98.3,58.7 101.6,58.9 104.9,59.0 108.3,59.2 111.7,59.4 115.1,59.6 118.6,59.9 122.0,60.3 125.5,60.7 129.1,61.1 132.6,61.6 136.2,62.1 139.8,62.6 143.4,63.2 147.1,63.8 150.8,64.5 154.5,65.2 158.2,65.9 161.9,66.8 165.7,67.6 169.5,68.5 173.4,69.4 177.2,70.3 M99.9,111.0 102.0,107.8 104.0,104.7 106.0,101.6 107.9,98.6 109.8,95.6 111.7,92.6 113.5,89.7 115.3,86.9 117.1,84.1 118.9,81.4 120.7,78.8 122.5,76.2 124.2,73.6 125.9,71.1 127.7,68.7 129.3,66.3 131.0,63.9 132.6,61.6 134.2,59.3 135.8,57.0 137.4,54.8 138.9,52.6 140.4,50.4 141.9,48.3 143.4,46.2 144.9,44.2 146.4,42.2 147.9,40.3 149.4,38.4 150.8,36.6 152.3,34.7 153.7,32.9 M70.3,52.0 73.4,52.2 76.4,52.4 79.5,52.7 82.6,52.9 85.7,53.1 88.8,53.3 92.0,53.5 95.2,53.6 98.5,53.8 101.7,54.0 105.0,54.1 108.3,54.3 111.7,54.5 115.0,54.7 118.4,55.0 121.9,55.3 125.3,55.7 128.8,56.1 132.3,56.5 135.8,57.0 139.4,57.5 142.9,58.0 146.5,58.6 150.2,59.3 153.8,59.9 157.5,60.6 161.2,61.4 165.0,62.2 168.7,63.0 172.5,63.9 176.3,64.8 180.2,65.7 M107.1,112.1 109.2,108.9 111.3,105.7 113.3,102.6 115.2,99.6 117.1,96.6 118.9,93.6 120.8,90.7 122.6,87.9 124.4,85.1 126.2,82.4 128.0,79.8 129.7,77.2 131.5,74.7 133.2,72.2 134.9,69.7 136.6,67.3 138.2,64.9 139.8,62.6 141.4,60.3 142.9,58.0 144.5,55.8 146.0,53.7 147.5,51.5 148.9,49.4 150.4,47.3 151.9,45.3 153.3,43.4 154.8,41.4 156.2,39.5 157.6,37.7 159.0,35.8 160.3,34.0 M74.0,47.1 77.0,47.4 80.0,47.6 83.1,47.9 86.1,48.1 89.2,48.4 92.4,48.6 95.5,48.8 98.7,49.0 101.9,49.1 105.1,49.3 108.4,49.5 111.7,49.7 115.0,49.9 118.3,50.2 121.7,50.5 125.1,50.8 128.5,51.2 131.9,51.6 135.4,52.1 138.9,52.6 142.4,53.1 146.0,53.7 149.6,54.2 153.2,54.9 156.8,55.5 160.5,56.2 164.2,57.0 167.9,57.8 171.6,58.6 175.4,59.5 179.2,60.4 183.0,61.3 M114.4,113.5 116.5,110.2 118.6,107.1 120.6,103.9 122.5,100.8 124.4,97.8 126.3,94.9 128.1,92.0 130.0,89.1 131.8,86.4 133.6,83.6 135.4,81.0 137.1,78.4 138.9,75.9 140.6,73.4 142.2,70.9 143.9,68.5 145.5,66.1 147.1,63.8 148.6,61.5 150.2,59.3 151.7,57.0 153.2,54.9 154.6,52.7 156.1,50.6 157.5,48.6 158.9,46.5 160.3,44.6 161.7,42.7 163.1,40.8 164.5,38.9 165.8,37.1 167.1,35.2 M77.7,42.4 80.6,42.7 83.6,42.9 86.6,43.2 89.6,43.5 92.7,43.7 95.8,44.0 98.9,44.2 102.1,44.4 105.2,44.6 108.4,44.8 111.7,45.0 114.9,45.2 118.2,45.5 121.5,45.8 124.9,46.1 128.2,46.5 131.6,46.9 135.0,47.3 138.5,47.8 141.9,48.3 145.4,48.8 148.9,49.4 152.5,50.0 156.1,50.6 159.7,51.3 163.3,52.0 167.0,52.8 170.7,53.5 174.4,54.4 178.1,55.2 181.9,56.1 185.7,57.0 M121.8,115.2 123.9,111.9 126.0,108.7 128.0,105.5 129.9,102.4 131.8,99.3 133.7,96.4 135.6,93.4 137.4,90.6 139.3,87.8 141.1,85.1 142.8,82.4 144.6,79.8 146.3,77.3 148.0,74.8 149.7,72.3 151.3,69.9 152.9,67.5 154.5,65.2 156.0,62.9 157.5,60.6 159.0,58.4 160.5,56.2 161.9,54.1 163.3,52.0 164.7,49.9 166.1,47.9 167.5,46.0 168.8,44.0 170.1,42.1 171.4,40.2 172.7,38.4 174.0,36.6 M81.4,37.8 84.3,38.1 87.3,38.4 90.2,38.7 93.2,39.0 96.3,39.3 99.3,39.5 102.4,39.8 105.5,40.0 108.6,40.2 111.8,40.5 115.0,40.7 118.2,41.0 121.5,41.2 124.7,41.6 128.0,41.9 131.4,42.3 134.7,42.7 138.1,43.2 141.5,43.7 144.9,44.2 148.4,44.7 151.9,45.3 155.4,45.9 158.9,46.5 162.5,47.2 166.1,47.9 169.7,48.7 173.4,49.5 177.0,50.3 180.8,51.1 184.5,51.9 188.3,52.8 M129.2,117.2 131.3,113.9 133.4,110.6 135.4,107.4 137.4,104.2 139.3,101.1 141.2,98.1 143.1,95.2 145.0,92.3 146.8,89.5 148.6,86.8 150.4,84.1 152.2,81.5 153.9,78.9 155.5,76.4 157.2,73.9 158.8,71.5 160.4,69.1 161.9,66.8 163.5,64.5 165.0,62.2 166.4,60.0 167.9,57.8 169.3,55.7 170.7,53.5 172.0,51.5 173.4,49.5 174.7,47.5 176.0,45.5 177.3,43.6 178.5,41.7 179.8,39.9 181.0,38.0 M85.4,33.7 88.2,34.0 91.1,34.3 94.1,34.6 97.0,34.9 100.0,35.2 103.0,35.4 106.0,35.7 109.1,35.9 112.2,36.2 115.3,36.4 118.4,36.7 121.6,36.9 124.8,37.3 128.0,37.6 131.3,38.0 134.5,38.4 137.8,38.8 141.2,39.3 144.5,39.8 147.9,40.3 151.3,40.9 154.8,41.4 158.2,42.0 161.7,42.7 165.2,43.3 168.8,44.0 172.4,44.8 176.0,45.5 179.6,46.3 183.3,47.1 187.0,48.0 190.8,48.8 M136.7,119.5 138.8,116.1 140.9,112.7 142.9,109.5 144.9,106.3 146.9,103.2 148.8,100.1 150.7,97.2 152.6,94.3 154.5,91.4 156.3,88.7 158.1,86.0 159.8,83.3 161.5,80.7 163.2,78.2 164.8,75.7 166.4,73.2 168.0,70.8 169.5,68.5 171.0,66.2 172.5,63.9 174.0,61.7 175.4,59.5 176.8,57.3 178.1,55.2 179.4,53.1 180.8,51.1 182.0,49.1 183.3,47.1 184.5,45.2 185.8,43.3 186.9,41.4 188.1,39.6 M89.4,29.6 92.2,30.0 95.0,30.3 97.9,30.6 100.8,30.9 103.7,31.2 106.7,31.5 109.6,31.8 112.7,32.0 115.7,32.3 118.8,32.5 121.8,32.8 125.0,33.1 128.1,33.4 131.3,33.8 134.5,34.2 137.7,34.6 140.9,35.0 144.2,35.5 147.5,36.0 150.8,36.6 154.2,37.1 157.6,37.7 161.0,38.3 164.5,38.9 167.9,39.6 171.4,40.2 175.0,41.0 178.5,41.7 182.1,42.5 185.8,43.3 189.4,44.1 193.1,44.9" stroke="#141a10" stroke-opacity="0.5" stroke-width="1.0" fill="none"/>
</g>
<path d="M33.0,108.0 34.7,108.1 36.4,108.2 38.1,108.3 39.8,108.3 41.5,108.4 43.2,108.5 44.9,108.6 46.6,108.7 48.4,108.7 50.1,108.8 51.9,108.9 53.6,109.0 55.4,109.0 57.2,109.1 58.9,109.1 60.7,109.1 62.5,109.2 64.3,109.2 66.2,109.2 68.0,109.2 69.8,109.2 71.7,109.2 73.5,109.2 75.4,109.2 77.2,109.2 79.1,109.2 81.0,109.3 82.8,109.4 84.7,109.5 86.6,109.6 88.6,109.7 90.5,109.9 92.4,110.1 94.3,110.3 96.2,110.5 98.2,110.8 100.1,111.0 102.1,111.3 104.0,111.6 106.0,111.9 108.0,112.2 110.0,112.6 111.9,113.0 113.9,113.4 115.9,113.8 117.9,114.3 119.9,114.7 121.9,115.2 123.9,115.7 126.0,116.3 128.0,116.9 130.0,117.4 132.0,118.1 134.0,118.7 136.1,119.3 138.1,120.0 140.2,120.6 142.2,121.3 144.3,122.0 145.5,120.1 146.6,118.2 147.7,116.3 148.9,114.5 150.0,112.7 151.1,110.9 152.1,109.1 153.2,107.4 154.3,105.7 155.4,104.0 156.4,102.4 157.5,100.7 158.5,99.1 159.6,97.5 160.6,96.0 161.6,94.4 162.6,92.9 163.6,91.4 164.6,89.9 165.6,88.4 166.5,86.9 167.5,85.5 168.4,84.0 169.3,82.6 170.2,81.2 171.1,79.8 172.0,78.5 172.9,77.1 173.7,75.8 174.6,74.5 175.4,73.1 176.3,71.8 177.1,70.6 177.9,69.3 178.7,68.0 179.5,66.8 180.3,65.6 181.1,64.3 181.8,63.1 182.6,61.9 183.3,60.7 184.1,59.6 184.8,58.4 185.5,57.3 186.2,56.1 186.9,55.0 187.6,53.9 188.3,52.7 189.0,51.6 189.7,50.6 190.3,49.5 191.0,48.4 191.6,47.4 192.3,46.3 192.9,45.3 193.6,44.2 194.2,43.2 194.8,42.2 195.4,41.2 193.4,40.8 191.4,40.3 189.5,39.9 187.5,39.5 185.6,39.0 183.6,38.6 181.7,38.2 179.8,37.8 177.9,37.4 176.0,37.0 174.1,36.6 172.2,36.2 170.3,35.9 168.5,35.5 166.6,35.2 164.8,34.8 162.9,34.5 161.1,34.2 159.3,33.8 157.5,33.5 155.7,33.2 153.9,32.9 152.1,32.6 150.3,32.4 148.6,32.1 146.8,31.8 145.1,31.5 143.3,31.3 141.6,31.0 139.9,30.8 138.2,30.5 136.4,30.3 134.7,30.1 133.1,29.9 131.4,29.7 129.7,29.5 128.0,29.3 126.4,29.1 124.7,29.0 123.1,28.8 121.4,28.6 119.8,28.5 118.2,28.4 116.5,28.2 114.9,28.1 113.3,27.9 111.8,27.8 110.2,27.6 108.6,27.5 107.0,27.3 105.5,27.2 103.9,27.0 102.4,26.8 100.8,26.6 99.3,26.4 97.8,26.3 96.3,26.1 94.8,25.9 93.3,25.7 92.2,26.8 91.2,27.8 90.1,28.9 89.0,30.0 87.9,31.1 86.9,32.1 85.8,33.2 84.7,34.3 83.6,35.5 82.5,36.6 81.4,37.8 80.4,39.0 79.4,40.2 78.4,41.4 77.4,42.7 76.4,44.0 75.5,45.3 74.5,46.6 73.5,47.8 72.5,49.2 71.5,50.5 70.5,51.8 69.5,53.1 68.5,54.5 67.5,55.8 66.5,57.2 65.5,58.6 64.5,60.0 63.5,61.3 62.4,62.7 61.4,64.1 60.4,65.5 59.4,67.0 58.3,68.4 57.3,69.8 56.3,71.3 55.3,72.8 54.3,74.3 53.3,75.8 52.3,77.3 51.4,78.8 50.4,80.4 49.4,82.0 48.5,83.5 47.5,85.1 46.6,86.8 45.6,88.4 44.7,90.0 43.7,91.6 42.7,93.3 41.7,94.9 40.7,96.6 39.7,98.2 38.6,99.8 37.5,101.5 36.4,103.1 35.3,104.7 34.2,106.4 33.0,108.0Z" stroke="#10140a" stroke-opacity="0.85" stroke-width="0.8" fill="none" stroke-linejoin="round"/>
<path d="M33.0,108.0 35.5,108.1 38.1,108.3 40.7,108.4 43.3,108.5 45.9,108.6 48.5,108.8 51.1,108.9 53.8,109.0 56.5,109.0 59.2,109.1 61.9,109.2 64.6,109.2 67.4,109.2 70.1,109.2 72.9,109.2 75.7,109.2 78.6,109.2 81.4,109.3 84.3,109.4 87.1,109.6 90.0,109.8 92.9,110.1 95.9,110.5 98.8,110.8 101.7,111.2 104.7,111.7 107.7,112.2 110.7,112.7 113.7,113.3 116.7,114.0 119.7,114.7 122.8,115.4 125.8,116.2 128.9,117.1 131.9,118.0 135.0,119.0 138.1,120.0 141.2,121.0 144.3,122.0" stroke="#14110a" stroke-opacity="0.9" stroke-width="0.9" fill="none" stroke-linejoin="round" stroke-linecap="round"/>
<path d="M22.6,68.6 92.4,12.0" stroke="#444" stroke-width="0.8" fill="none"/>
<path d="M27.3,64.8 27.6,65.7 M33.0,60.2 33.3,61.1 M38.5,55.7 39.1,57.6 M43.8,51.4 44.1,52.4 M48.9,47.3 49.2,48.2 M53.9,43.2 54.2,44.2 M58.7,39.3 59.4,41.2 M63.4,35.5 63.7,36.5 M67.9,31.9 68.2,32.8 M72.3,28.3 72.6,29.3 M76.5,24.9 77.2,26.7 M80.7,21.5 81.0,22.4 M84.7,18.2 85.0,19.2 M88.6,15.1 88.9,16.0 M92.4,12.0 93.1,13.9" stroke="#444" stroke-width="0.6" fill="none"/>
<path d="M28.6,109.0 143.4,154.4" stroke="#444" stroke-width="0.8" fill="none"/>
<path d="M33.8,111.0 34.0,110.1 M40.3,113.6 40.6,112.7 M47.1,116.3 47.7,114.4 M54.0,119.1 54.3,118.1 M61.1,121.9 61.4,120.9 M68.4,124.7 68.7,123.8 M75.9,127.7 76.4,125.8 M83.5,130.7 83.8,129.8 M91.4,133.8 91.7,132.9 M99.5,137.0 99.8,136.1 M107.8,140.3 108.3,138.4 M116.3,143.7 116.6,142.7 M125.1,147.2 125.4,146.2 M134.1,150.7 134.4,149.8 M143.4,154.4 144.0,152.5" stroke="#444" stroke-width="0.6" fill="none"/>
<path d="M22.6,68.6 28.6,109.0" stroke="#777" stroke-width="0.8" fill="none"/>
<path d="M28.2,106.4 29.2,106.6 M27.7,103.2 28.7,103.4 M27.3,100.1 28.3,100.2 M26.8,97.0 28.8,97.3 M26.4,94.0 27.4,94.1 M25.9,91.0 26.9,91.1 M25.5,88.0 26.5,88.2 M25.1,85.1 26.0,85.3 M24.6,82.3 26.6,82.6 M24.2,79.5 25.2,79.6 M23.8,76.7 24.8,76.8 M23.4,73.9 24.4,74.1 M23.0,71.3 24.0,71.4 M22.6,68.6 24.6,68.9" stroke="#777" stroke-width="0.6" fill="none"/>
<rect x="215.2" y="54.25" width="6.7" height="6.7" fill="url(#g8)"/>
<rect x="215.2" y="69.60" width="6.7" height="6.7" fill="url(#g9)"/>
<rect x="215.2" y="84.95" width="6.7" height="6.7" fill="url(#g10)"/>
<path d="M296.0,68.0 366.0,11.0 M366.0,11.0 471.6,38.0 M296.0,68.0 302.4,108.4 M471.6,38.0 467.0,78.0 M302.4,108.4 417.3,154.0 M417.3,154.0 467.0,78.0 M417.3,154.0 418.4,130.6 M467.0,78.0 440.0,70.0 M296.0,68.0 330.0,82.5 M471.6,38.0 455.0,60.5 M366.0,11.0 366.5,15.2" stroke="#767676" stroke-width="0.7" fill="none"/>
<g clip-path="url(#c14)">
<path d="M306.0,107.4 307.8,107.4 309.6,107.5 311.4,107.5 313.2,107.6 315.0,107.6 316.8,107.7 318.6,107.8 320.4,107.8 322.3,107.9 324.1,107.9 325.9,108.0 327.8,108.1 329.6,108.2 331.5,108.3 333.3,108.4 335.2,108.5 337.1,108.6 339.0,108.7 340.9,108.9 342.7,109.1 344.6,109.3 346.5,109.5 348.4,109.7 350.3,110.1 352.2,110.4 354.1,110.8 356.0,111.2 357.9,111.6 359.8,112.1 361.7,112.5 363.6,113.0 365.5,113.5 367.4,114.0 369.3,114.4 371.3,114.9 373.2,115.3 375.2,115.8 377.1,116.3 379.1,116.8 381.0,117.3 383.0,117.9 384.9,118.5 386.9,119.1 388.8,119.7 390.8,120.3 392.7,121.0 394.7,121.6 396.7,122.3 398.6,123.0 400.6,123.7 402.5,124.5 404.5,125.3 406.4,126.1 408.4,126.9 410.3,127.7 412.3,128.5 414.3,129.2 416.4,129.9 418.4,130.6 419.5,129.0 420.5,127.3 421.6,125.7 422.6,124.2 423.6,122.6 424.6,121.1 425.6,119.5 426.5,118.0 427.5,116.5 428.4,115.0 429.3,113.6 430.2,112.1 431.0,110.7 431.9,109.2 432.7,107.8 433.5,106.4 434.3,105.0 435.0,103.6 435.8,102.3 436.6,100.9 437.3,99.6 438.1,98.2 438.8,97.0 439.6,95.7 440.4,94.4 441.2,93.2 442.0,92.1 442.8,91.0 443.7,89.9 444.6,88.8 445.5,87.8 446.5,86.8 447.4,85.9 448.3,84.9 449.2,84.0 450.1,83.0 450.9,82.0 451.7,81.0 452.5,80.0 453.2,79.0 453.9,78.0 454.7,77.0 455.4,76.1 456.2,75.3 457.1,74.5 458.0,73.8 458.9,73.1 459.8,72.3 460.7,71.6 461.5,70.8 462.2,69.9 462.8,69.0 463.4,68.1 463.9,67.1 464.4,66.2 464.8,65.2 465.2,64.2 465.5,63.3 465.9,62.3 463.8,61.2 461.7,60.1 459.6,59.0 457.6,57.9 455.6,56.6 453.7,55.4 451.8,54.1 450.0,52.8 448.2,51.4 446.5,50.1 444.7,48.7 443.0,47.4 441.3,46.1 439.7,44.7 438.0,43.4 436.4,42.1 434.7,40.8 433.1,39.6 431.5,38.4 429.8,37.2 428.2,36.0 426.5,34.9 424.9,33.8 423.2,32.8 421.5,31.8 419.8,30.9 418.1,30.0 416.4,29.2 414.7,28.4 413.0,27.6 411.3,26.9 409.6,26.2 407.9,25.6 406.2,24.9 404.5,24.3 402.8,23.7 401.2,23.1 399.5,22.5 397.8,22.0 396.2,21.5 394.6,20.9 393.0,20.5 391.3,20.0 389.7,19.5 388.1,19.1 386.5,18.7 384.9,18.3 383.4,17.9 381.8,17.6 380.2,17.3 378.7,17.0 377.1,16.7 375.6,16.4 374.0,16.2 372.5,16.0 371.0,15.8 369.5,15.6 368.0,15.4 366.5,15.2 365.2,16.1 363.8,17.1 362.5,18.1 361.3,19.1 360.0,20.2 358.8,21.4 357.7,22.6 356.6,23.9 355.5,25.2 354.4,26.6 353.4,27.9 352.5,29.4 351.5,30.8 350.5,32.2 349.6,33.7 348.6,35.1 347.7,36.6 346.7,38.1 345.7,39.6 344.8,41.1 343.8,42.6 342.8,44.1 341.8,45.6 340.8,47.1 339.8,48.6 338.8,50.2 337.8,51.7 336.8,53.3 335.8,54.9 334.8,56.5 333.9,58.1 332.9,59.7 332.0,61.3 331.0,63.0 330.1,64.7 329.2,66.4 328.4,68.2 327.5,69.9 326.7,71.7 325.9,73.5 325.1,75.3 324.3,77.1 323.4,78.9 322.6,80.7 321.6,82.5 320.7,84.3 319.7,86.1 318.6,87.8 317.6,89.6 316.4,91.3 315.3,93.1 314.2,94.8 313.0,96.6 311.8,98.4 310.7,100.2 309.5,101.9 308.3,103.8 307.2,105.6 306.0,107.4Z" fill="url(#g11)"/>
<path d="M306.0,107.4 309.1,105.7 312.1,104.0 315.2,102.3 318.2,100.6 321.2,98.8 324.3,97.0 327.3,95.2 330.2,93.4 333.2,91.6 336.2,89.8 339.3,88.0 342.3,86.3 345.4,84.7 348.5,83.0 351.6,81.4 354.7,79.8 357.7,78.1 360.8,76.4 363.8,74.6 366.9,72.9 370.0,71.2 373.1,69.6 376.2,68.0 379.4,66.6 382.6,65.3 385.9,64.1 389.3,63.1 392.7,62.2 396.1,61.5 399.6,60.9 403.0,60.4 406.5,60.1 410.0,59.8 413.5,59.6 417.0,59.6 420.5,59.6 424.0,59.6 427.5,59.8 431.0,60.1 434.5,60.4 437.9,60.8 441.4,61.1 444.9,61.3 448.4,61.4 451.9,61.6 455.4,61.7 458.9,61.9 462.4,62.1 465.9,62.3 465.4,63.8 464.8,65.2 464.1,66.7 463.4,68.2 462.5,69.6 461.4,70.9 460.2,72.0 458.9,73.1 457.5,74.2 456.1,75.4 454.9,76.7 453.8,78.2 452.7,79.7 451.6,81.2 450.3,82.7 449.0,84.2 447.6,85.6 446.3,87.1 444.9,88.6 443.5,90.1 442.2,91.8 440.9,93.6 439.8,95.4 438.6,97.3 437.5,99.3 436.3,101.4 435.2,103.4 434.0,105.5 432.8,107.6 431.5,109.8 430.2,112.0 428.9,114.2 427.5,116.4 426.1,118.7 424.6,121.0 423.1,123.3 421.6,125.7 420.0,128.1 418.4,130.6 415.3,129.5 412.3,128.5 409.3,127.3 406.3,126.1 403.4,124.9 400.4,123.6 397.5,122.5 394.5,121.5 391.5,120.6 388.6,119.6 385.6,118.7 382.7,117.8 379.7,116.9 376.8,116.2 373.8,115.5 370.9,114.8 368.0,114.1 365.1,113.4 362.2,112.7 359.3,112.0 356.4,111.3 353.6,110.7 350.7,110.1 347.8,109.7 345.0,109.3 342.1,109.0 339.3,108.7 336.4,108.5 333.6,108.4 330.8,108.2 328.0,108.1 325.2,108.0 322.4,107.9 319.6,107.8 316.9,107.7 314.1,107.6 311.4,107.5 308.7,107.5 306.0,107.4Z" fill="url(#g15)"/>
<path d="M312.6,107.6 314.7,104.2 316.9,100.9 319.0,97.6 321.1,94.3 323.2,91.1 325.2,87.9 327.0,84.6 328.7,81.3 330.3,78.0 331.8,74.7 333.3,71.4 334.8,68.1 336.4,65.0 338.1,61.9 339.8,58.9 341.5,55.9 343.3,53.0 345.2,50.2 347.0,47.4 348.8,44.7 350.6,41.9 352.4,39.2 354.1,36.5 355.8,33.9 357.6,31.2 359.3,28.7 361.2,26.2 363.2,23.8 365.2,21.6 367.4,19.6 369.7,17.7 372.0,15.9 M310.3,100.7 313.6,100.8 316.9,100.9 320.2,101.0 323.5,101.1 326.9,101.2 330.2,101.3 333.6,101.5 337.0,101.7 340.5,101.9 343.9,102.1 347.4,102.5 350.9,102.9 354.3,103.4 357.8,104.1 361.3,104.9 364.8,105.7 368.3,106.6 371.8,107.5 375.3,108.4 378.9,109.3 382.5,110.2 386.0,111.3 389.6,112.4 393.2,113.7 396.8,114.9 400.4,116.1 404.0,117.5 407.5,119.0 411.1,120.5 414.8,122.0 418.5,123.3 422.3,124.7 M319.3,107.8 321.4,104.4 323.5,101.1 325.6,97.8 327.7,94.5 329.7,91.3 331.7,88.0 333.5,84.8 335.2,81.5 336.8,78.2 338.2,74.9 339.7,71.6 341.2,68.4 342.8,65.3 344.5,62.2 346.1,59.2 347.9,56.3 349.7,53.5 351.5,50.7 353.3,47.9 355.1,45.2 356.8,42.5 358.6,39.8 360.3,37.2 362.0,34.5 363.7,32.0 365.4,29.5 367.3,27.0 369.2,24.7 371.2,22.5 373.3,20.5 375.5,18.6 377.7,16.8 M314.6,94.2 317.8,94.3 321.1,94.3 324.4,94.4 327.7,94.5 331.0,94.6 334.4,94.8 337.7,95.0 341.1,95.2 344.5,95.4 348.0,95.7 351.4,96.0 354.9,96.5 358.3,97.0 361.8,97.7 365.3,98.5 368.7,99.3 372.2,100.2 375.7,101.2 379.2,102.1 382.8,103.1 386.3,104.1 389.8,105.2 393.3,106.4 396.9,107.7 400.4,108.9 404.0,110.2 407.6,111.7 411.2,113.2 414.8,114.8 418.4,116.3 422.1,117.6 425.9,119.0 M326.0,108.0 328.1,104.6 330.2,101.3 332.3,98.0 334.4,94.8 336.4,91.6 338.3,88.3 340.1,85.1 341.8,81.8 343.3,78.5 344.8,75.3 346.2,72.0 347.7,68.9 349.3,65.8 350.9,62.7 352.6,59.8 354.3,56.9 356.1,54.1 357.9,51.3 359.6,48.6 361.4,46.0 363.2,43.3 364.9,40.7 366.5,38.1 368.2,35.5 369.9,32.9 371.6,30.5 373.5,28.2 375.3,25.9 377.3,23.7 379.3,21.7 381.4,19.8 383.5,18.0 M318.7,87.7 321.9,87.8 325.2,87.9 328.4,87.9 331.7,88.0 335.0,88.2 338.3,88.3 341.7,88.5 345.0,88.8 348.4,89.0 351.8,89.3 355.2,89.7 358.7,90.2 362.1,90.7 365.5,91.4 369.0,92.2 372.4,93.1 375.9,94.0 379.4,95.0 382.9,96.0 386.4,97.0 389.9,98.0 393.4,99.2 396.8,100.5 400.3,101.8 403.9,103.2 407.4,104.5 411.0,106.0 414.5,107.6 418.1,109.2 421.8,110.7 425.5,112.1 429.3,113.5 M332.9,108.3 335.0,105.0 337.0,101.7 339.1,98.4 341.1,95.2 343.1,92.0 345.0,88.8 346.8,85.5 348.4,82.3 349.9,79.0 351.4,75.8 352.9,72.6 354.3,69.5 355.9,66.4 357.5,63.4 359.2,60.5 360.9,57.7 362.6,54.9 364.4,52.2 366.1,49.6 367.9,47.0 369.6,44.4 371.3,41.8 372.9,39.2 374.5,36.7 376.2,34.2 377.9,31.8 379.7,29.5 381.6,27.3 383.4,25.2 385.4,23.1 387.3,21.2 389.3,19.4 M322.3,81.2 325.5,81.2 328.7,81.3 332.0,81.4 335.2,81.5 338.5,81.7 341.8,81.8 345.1,82.0 348.4,82.3 351.8,82.6 355.2,82.9 358.6,83.4 362.0,83.8 365.4,84.4 368.8,85.1 372.3,85.9 375.7,86.8 379.2,87.8 382.6,88.8 386.1,89.9 389.6,90.9 393.0,92.1 396.5,93.3 400.0,94.7 403.4,96.1 407.0,97.5 410.5,98.9 414.0,100.5 417.6,102.1 421.2,103.8 424.9,105.3 428.6,106.8 432.5,108.2 M339.8,108.8 341.9,105.4 343.9,102.1 346.0,98.9 348.0,95.7 349.9,92.5 351.8,89.3 353.6,86.2 355.2,82.9 356.7,79.7 358.1,76.5 359.6,73.4 361.0,70.3 362.6,67.3 364.2,64.3 365.8,61.5 367.5,58.7 369.2,56.0 370.9,53.3 372.7,50.8 374.4,48.2 376.1,45.7 377.8,43.1 379.4,40.6 381.0,38.1 382.6,35.7 384.4,33.4 386.1,31.2 387.9,29.0 389.7,26.9 391.6,24.9 393.4,23.0 395.3,21.2 M325.4,74.5 328.6,74.6 331.8,74.7 335.0,74.8 338.2,74.9 341.5,75.1 344.8,75.3 348.1,75.5 351.4,75.8 354.8,76.1 358.1,76.5 361.5,77.0 364.9,77.5 368.3,78.1 371.8,78.8 375.2,79.7 378.6,80.6 382.1,81.6 385.5,82.7 389.0,83.8 392.4,85.0 395.9,86.2 399.4,87.5 402.8,88.9 406.3,90.4 409.8,91.9 413.3,93.5 416.8,95.1 420.4,96.8 424.0,98.5 427.7,100.1 431.5,101.6 435.4,103.0 M346.8,109.5 348.8,106.2 350.9,102.9 352.9,99.7 354.9,96.5 356.8,93.3 358.7,90.2 360.4,87.0 362.0,83.8 363.5,80.7 364.9,77.5 366.4,74.4 367.8,71.4 369.3,68.4 370.9,65.5 372.5,62.7 374.2,59.9 375.9,57.3 377.6,54.7 379.4,52.2 381.1,49.7 382.8,47.2 384.4,44.7 385.9,42.2 387.5,39.8 389.1,37.5 390.9,35.3 392.6,33.1 394.4,31.0 396.1,28.9 397.8,26.9 399.6,25.0 401.4,23.2 M328.5,67.9 331.6,68.0 334.8,68.1 338.0,68.3 341.2,68.4 344.5,68.6 347.7,68.9 351.0,69.1 354.3,69.5 357.7,69.9 361.0,70.3 364.4,70.8 367.8,71.4 371.2,72.0 374.7,72.8 378.1,73.6 381.5,74.6 385.0,75.6 388.4,76.8 391.8,77.9 395.3,79.2 398.7,80.5 402.2,81.9 405.6,83.4 409.0,85.0 412.5,86.6 416.0,88.2 419.6,89.9 423.1,91.6 426.7,93.4 430.5,95.1 434.3,96.6 438.2,98.1 M353.7,110.7 355.8,107.4 357.8,104.1 359.8,100.9 361.8,97.7 363.7,94.5 365.5,91.4 367.3,88.3 368.8,85.1 370.3,82.0 371.8,78.8 373.2,75.8 374.7,72.8 376.2,69.8 377.7,67.0 379.3,64.2 381.0,61.5 382.7,58.9 384.4,56.4 386.1,53.9 387.8,51.5 389.5,49.0 391.1,46.6 392.6,44.2 394.1,41.8 395.8,39.5 397.5,37.4 399.2,35.3 400.9,33.2 402.6,31.2 404.3,29.2 405.9,27.3 407.6,25.5 M331.8,61.7 334.9,61.8 338.1,61.9 341.2,62.0 344.5,62.2 347.7,62.5 350.9,62.7 354.2,63.1 357.5,63.4 360.8,63.9 364.2,64.3 367.5,64.9 370.9,65.5 374.3,66.2 377.7,67.0 381.1,67.9 384.6,68.9 388.0,69.9 391.4,71.1 394.8,72.4 398.3,73.7 401.7,75.1 405.1,76.5 408.5,78.1 411.9,79.8 415.4,81.5 418.8,83.2 422.4,85.0 425.9,86.8 429.5,88.6 433.3,90.3 437.1,91.9 441.0,93.5 M360.7,112.3 362.8,109.0 364.8,105.7 366.8,102.5 368.7,99.3 370.6,96.2 372.4,93.1 374.1,89.9 375.7,86.8 377.2,83.7 378.6,80.6 380.1,77.6 381.5,74.6 383.0,71.7 384.6,68.9 386.1,66.1 387.8,63.5 389.5,60.9 391.2,58.5 392.9,56.0 394.6,53.6 396.3,51.3 397.8,48.8 399.3,46.4 400.9,44.1 402.5,41.9 404.2,39.9 405.9,37.8 407.6,35.8 409.2,33.8 410.8,31.8 412.3,29.9 413.8,28.0 M335.3,55.7 338.4,55.8 341.5,55.9 344.7,56.1 347.9,56.3 351.1,56.6 354.3,56.9 357.6,57.3 360.9,57.7 364.1,58.2 367.5,58.7 370.8,59.3 374.2,59.9 377.6,60.7 381.0,61.5 384.4,62.4 387.8,63.5 391.2,64.6 394.6,65.8 398.0,67.2 401.4,68.6 404.8,70.0 408.2,71.6 411.6,73.3 415.0,75.1 418.4,76.8 421.9,78.6 425.4,80.5 429.0,82.4 432.6,84.3 436.4,86.1 440.2,87.7 444.2,89.3 M367.8,114.1 369.8,110.8 371.8,107.5 373.8,104.3 375.7,101.2 377.6,98.1 379.4,95.0 381.1,91.9 382.6,88.8 384.1,85.7 385.5,82.7 387.0,79.7 388.4,76.8 389.9,73.9 391.4,71.1 393.0,68.4 394.6,65.8 396.3,63.4 398.0,61.0 399.7,58.6 401.4,56.2 403.0,53.9 404.6,51.5 406.1,49.2 407.6,46.9 409.2,44.8 410.9,42.8 412.6,40.9 414.2,38.8 415.8,36.8 417.3,34.8 418.7,32.9 420.1,31.1 M339.0,49.9 342.0,50.0 345.2,50.2 348.3,50.4 351.5,50.7 354.6,51.0 357.9,51.3 361.1,51.8 364.4,52.2 367.6,52.8 370.9,53.3 374.3,54.0 377.6,54.7 381.0,55.5 384.4,56.4 387.8,57.4 391.2,58.5 394.6,59.6 398.0,61.0 401.4,62.4 404.8,63.8 408.2,65.4 411.6,67.1 414.9,68.9 418.3,70.7 421.7,72.6 425.2,74.5 428.7,76.4 432.3,78.4 435.9,80.4 439.7,82.3 443.6,84.0 447.6,85.7 M374.9,115.7 376.9,112.5 378.9,109.3 380.9,106.2 382.8,103.1 384.6,100.0 386.4,97.0 388.0,94.0 389.6,90.9 391.0,87.9 392.4,85.0 393.9,82.0 395.3,79.2 396.8,76.4 398.3,73.7 399.8,71.1 401.4,68.6 403.1,66.2 404.8,63.8 406.5,61.6 408.2,59.3 409.8,57.0 411.3,54.7 412.7,52.4 414.2,50.3 415.8,48.2 417.5,46.3 419.2,44.4 420.8,42.5 422.2,40.5 423.7,38.5 425.0,36.6 426.3,34.8 M342.6,44.3 345.7,44.5 348.8,44.7 351.9,44.9 355.1,45.2 358.2,45.6 361.4,46.0 364.6,46.4 367.9,47.0 371.1,47.6 374.4,48.2 377.7,48.9 381.1,49.7 384.4,50.5 387.8,51.5 391.2,52.5 394.6,53.6 398.0,54.9 401.4,56.2 404.8,57.7 408.2,59.3 411.5,60.9 414.9,62.7 418.2,64.6 421.6,66.5 425.0,68.5 428.4,70.5 431.9,72.6 435.5,74.6 439.1,76.7 442.9,78.6 446.8,80.4 450.8,82.2 M382.1,117.6 384.1,114.4 386.0,111.3 388.0,108.2 389.8,105.2 391.6,102.2 393.4,99.2 395.0,96.3 396.5,93.3 398.0,90.4 399.4,87.5 400.8,84.7 402.2,81.9 403.6,79.2 405.1,76.5 406.6,74.0 408.2,71.6 409.9,69.3 411.6,67.1 413.3,64.9 414.9,62.7 416.5,60.5 417.9,58.3 419.3,56.1 420.8,54.0 422.4,52.1 424.1,50.3 425.7,48.5 427.2,46.6 428.6,44.7 430.0,42.8 431.2,40.9 432.4,39.0 M346.3,38.7 349.3,39.0 352.4,39.2 355.5,39.5 358.6,39.8 361.7,40.2 364.9,40.7 368.1,41.2 371.3,41.8 374.5,42.4 377.8,43.1 381.1,43.9 384.4,44.7 387.7,45.6 391.1,46.6 394.4,47.7 397.8,48.8 401.2,50.1 404.6,51.5 407.9,53.1 411.3,54.7 414.6,56.5 417.9,58.3 421.2,60.3 424.5,62.3 427.9,64.4 431.3,66.5 434.8,68.6 438.3,70.7 441.9,72.8 445.7,74.8 449.6,76.7 453.6,78.5 M389.3,119.9 391.3,116.7 393.2,113.7 395.0,110.6 396.9,107.7 398.7,104.7 400.3,101.8 401.9,98.9 403.4,96.1 404.9,93.2 406.3,90.4 407.7,87.7 409.0,85.0 410.5,82.3 411.9,79.8 413.4,77.4 415.0,75.1 416.6,72.8 418.3,70.7 420.0,68.6 421.6,66.5 423.1,64.4 424.5,62.3 425.9,60.2 427.4,58.2 429.0,56.4 430.7,54.7 432.3,53.0 433.7,51.2 435.0,49.3 436.2,47.4 437.4,45.6 438.4,43.8 M349.8,33.3 352.8,33.6 355.8,33.9 358.9,34.2 362.0,34.5 365.1,35.0 368.2,35.5 371.4,36.0 374.5,36.7 377.7,37.3 381.0,38.1 384.2,38.9 387.5,39.8 390.8,40.8 394.1,41.8 397.5,42.9 400.9,44.1 404.2,45.5 407.6,46.9 410.9,48.5 414.2,50.3 417.5,52.1 420.8,54.0 424.1,56.1 427.4,58.2 430.7,60.4 434.1,62.6 437.6,64.8 441.1,67.0 444.7,69.2 448.5,71.3 452.4,73.2 456.4,75.1 M396.5,122.2 398.5,119.1 400.4,116.1 402.2,113.2 404.0,110.2 405.8,107.4 407.4,104.5 409.0,101.7 410.5,98.9 411.9,96.2 413.3,93.5 414.7,90.8 416.0,88.2 417.4,85.6 418.8,83.2 420.3,80.8 421.9,78.6 423.5,76.5 425.2,74.5 426.9,72.5 428.4,70.5 429.9,68.5 431.3,66.5 432.7,64.4 434.1,62.6 435.7,60.9 437.4,59.3 438.9,57.7 440.3,55.9 441.6,54.1 442.7,52.3 443.7,50.5 444.6,48.7 M353.4,28.0 356.3,28.3 359.3,28.7 362.4,29.0 365.4,29.5 368.5,30.0 371.6,30.5 374.8,31.1 377.9,31.8 381.1,32.6 384.4,33.4 387.6,34.3 390.9,35.3 394.2,36.3 397.5,37.4 400.8,38.6 404.2,39.9 407.6,41.3 410.9,42.8 414.2,44.5 417.5,46.3 420.8,48.3 424.1,50.3 427.4,52.5 430.7,54.7 434.0,57.0 437.4,59.3 440.8,61.6 444.3,64.0 448.0,66.3 451.8,68.4 455.7,70.5 459.8,72.4 M403.7,125.0 405.7,122.0 407.5,119.0 409.4,116.1 411.2,113.2 412.9,110.4 414.5,107.6 416.1,104.8 417.6,102.1 419.0,99.4 420.4,96.8 421.8,94.2 423.1,91.6 424.5,89.2 425.9,86.8 427.4,84.5 429.0,82.4 430.6,80.4 432.3,78.4 433.9,76.5 435.5,74.6 437.0,72.7 438.3,70.7 439.6,68.8 441.1,67.0 442.7,65.4 444.3,64.0 445.9,62.4 447.2,60.8 448.4,59.0 449.4,57.2 450.3,55.4 451.1,53.6 M357.2,23.1 360.2,23.5 363.2,23.8 366.2,24.2 369.2,24.7 372.2,25.3 375.3,25.9 378.4,26.5 381.6,27.3 384.7,28.1 387.9,29.0 391.1,30.0 394.4,31.0 397.6,32.1 400.9,33.2 404.2,34.5 407.6,35.8 410.9,37.2 414.2,38.8 417.5,40.6 420.8,42.5 424.0,44.5 427.2,46.6 430.5,48.9 433.7,51.2 437.0,53.6 440.3,55.9 443.7,58.3 447.2,60.8 450.8,63.1 454.6,65.3 458.5,67.4 462.6,69.4 M410.9,128.0 412.9,124.9 414.8,122.0 416.6,119.1 418.4,116.3 420.1,113.5 421.8,110.7 423.4,108.0 424.9,105.3 426.3,102.7 427.7,100.1 429.1,97.5 430.5,95.1 431.8,92.6 433.3,90.3 434.8,88.1 436.4,86.1 438.0,84.1 439.7,82.3 441.3,80.5 442.9,78.6 444.4,76.7 445.7,74.8 447.0,73.0 448.5,71.3 450.1,69.8 451.8,68.4 453.3,67.0 454.6,65.3 455.7,63.6 456.6,61.8 457.4,60.0 458.2,58.2 M361.6,18.8 364.5,19.2 367.4,19.6 370.3,20.0 373.3,20.5 376.3,21.0 379.3,21.7 382.3,22.4 385.4,23.1 388.4,24.0 391.6,24.9 394.7,25.9 397.8,26.9 401.0,28.0 404.3,29.2 407.5,30.4 410.8,31.8 414.0,33.2 417.3,34.8 420.5,36.6 423.7,38.5 426.8,40.6 430.0,42.8 433.1,45.1 436.2,47.4 439.4,49.8 442.7,52.3 446.0,54.7 449.4,57.2 452.9,59.5 456.6,61.8 460.5,63.9 464.5,65.9" stroke="#141a10" stroke-opacity="0.5" stroke-width="1.0" fill="none"/>
</g>
<path d="M306.0,107.4 307.8,107.4 309.6,107.5 311.4,107.5 313.2,107.6 315.0,107.6 316.8,107.7 318.6,107.8 320.4,107.8 322.3,107.9 324.1,107.9 325.9,108.0 327.8,108.1 329.6,108.2 331.5,108.3 333.3,108.4 335.2,108.5 337.1,108.6 339.0,108.7 340.9,108.9 342.7,109.1 344.6,109.3 346.5,109.5 348.4,109.7 350.3,110.1 352.2,110.4 354.1,110.8 356.0,111.2 357.9,111.6 359.8,112.1 361.7,112.5 363.6,113.0 365.5,113.5 367.4,114.0 369.3,114.4 371.3,114.9 373.2,115.3 375.2,115.8 377.1,116.3 379.1,116.8 381.0,117.3 383.0,117.9 384.9,118.5 386.9,119.1 388.8,119.7 390.8,120.3 392.7,121.0 394.7,121.6 396.7,122.3 398.6,123.0 400.6,123.7 402.5,124.5 404.5,125.3 406.4,126.1 408.4,126.9 410.3,127.7 412.3,128.5 414.3,129.2 416.4,129.9 418.4,130.6 419.5,129.0 420.5,127.3 421.6,125.7 422.6,124.2 423.6,122.6 424.6,121.1 425.6,119.5 426.5,118.0 427.5,116.5 428.4,115.0 429.3,113.6 430.2,112.1 431.0,110.7 431.9,109.2 432.7,107.8 433.5,106.4 434.3,105.0 435.0,103.6 435.8,102.3 436.6,100.9 437.3,99.6 438.1,98.2 438.8,97.0 439.6,95.7 440.4,94.4 441.2,93.2 442.0,92.1 442.8,91.0 443.7,89.9 444.6,88.8 445.5,87.8 446.5,86.8 447.4,85.9 448.3,84.9 449.2,84.0 450.1,83.0 450.9,82.0 451.7,81.0 452.5,80.0 453.2,79.0 453.9,78.0 454.7,77.0 455.4,76.1 456.2,75.3 457.1,74.5 458.0,73.8 458.9,73.1 459.8,72.3 460.7,71.6 461.5,70.8 462.2,69.9 462.8,69.0 463.4,68.1 463.9,67.1 464.4,66.2 464.8,65.2 465.2,64.2 465.5,63.3 465.9,62.3 463.8,61.2 461.7,60.1 459.6,59.0 457.6,57.9 455.6,56.6 453.7,55.4 451.8,54.1 450.0,52.8 448.2,51.4 446.5,50.1 444.7,48.7 443.0,47.4 441.3,46.1 439.7,44.7 438.0,43.4 436.4,42.1 434.7,40.8 433.1,39.6 431.5,38.4 429.8,37.2 428.2,36.0 426.5,34.9 424.9,33.8 423.2,32.8 421.5,31.8 419.8,30.9 418.1,30.0 416.4,29.2 414.7,28.4 413.0,27.6 411.3,26.9 409.6,26.2 407.9,25.6 406.2,24.9 404.5,24.3 402.8,23.7 401.2,23.1 399.5,22.5 397.8,22.0 396.2,21.5 394.6,20.9 393.0,20.5 391.3,20.0 389.7,19.5 388.1,19.1 386.5,18.7 384.9,18.3 383.4,17.9 381.8,17.6 380.2,17.3 378.7,17.0 377.1,16.7 375.6,16.4 374.0,16.2 372.5,16.0 371.0,15.8 369.5,15.6 368.0,15.4 366.5,15.2 365.2,16.1 363.8,17.1 362.5,18.1 361.3,19.1 360.0,20.2 358.8,21.4 357.7,22.6 356.6,23.9 355.5,25.2 354.4,26.6 353.4,27.9 352.5,29.4 351.5,30.8 350.5,32.2 349.6,33.7 348.6,35.1 347.7,36.6 346.7,38.1 345.7,39.6 344.8,41.1 343.8,42.6 342.8,44.1 341.8,45.6 340.8,47.1 339.8,48.6 338.8,50.2 337.8,51.7 336.8,53.3 335.8,54.9 334.8,56.5 333.9,58.1 332.9,59.7 332.0,61.3 331.0,63.0 330.1,64.7 329.2,66.4 328.4,68.2 327.5,69.9 326.7,71.7 325.9,73.5 325.1,75.3 324.3,77.1 323.4,78.9 322.6,80.7 321.6,82.5 320.7,84.3 319.7,86.1 318.6,87.8 317.6,89.6 316.4,91.3 315.3,93.1 314.2,94.8 313.0,96.6 311.8,98.4 310.7,100.2 309.5,101.9 308.3,103.8 307.2,105.6 306.0,107.4Z" stroke="#10140a" stroke-opacity="0.85" stroke-width="0.8" fill="none" stroke-linejoin="round"/>
<path d="M306.0,107.4 308.7,107.5 311.4,107.5 314.1,107.6 316.9,107.7 319.6,107.8 322.4,107.9 325.2,108.0 328.0,108.1 330.8,108.2 333.6,108.4 336.4,108.5 339.3,108.7 342.1,109.0 345.0,109.3 347.8,109.7 350.7,110.1 353.6,110.7 356.4,111.3 359.3,112.0 362.2,112.7 365.1,113.4 368.0,114.1 370.9,114.8 373.8,115.5 376.8,116.2 379.7,116.9 382.7,117.8 385.6,118.7 388.6,119.6 391.5,120.6 394.5,121.5 397.5,122.5 400.4,123.6 403.4,124.9 406.3,126.1 409.3,127.3 412.3,128.5 415.3,129.5 418.4,130.6" stroke="#14110a" stroke-opacity="0.9" stroke-width="0.9" fill="none" stroke-linejoin="round" stroke-linecap="round"/>
<g clip-path="url(#c16)">
<path d="M306.0,107.4 308.6,107.4 311.2,107.4 313.8,107.4 316.4,107.3 319.0,107.3 321.7,107.2 324.3,107.1 327.0,107.1 329.7,106.9 332.4,106.8 335.2,106.6 337.9,106.4 340.7,106.2 343.5,106.1 346.3,106.0 349.1,106.0 352.0,106.1 354.8,106.3 357.7,106.6 360.6,106.9 363.5,107.3 366.5,107.7 369.4,108.0 372.4,108.4 375.3,108.8 378.3,109.2 381.4,109.7 384.4,110.3 387.4,110.9 390.4,111.6 393.5,112.3 396.5,113.1 399.6,114.0 402.7,114.9 405.8,115.8 408.9,116.7 412.0,117.6 415.2,118.5 418.4,119.4 419.9,117.2 421.4,115.1 422.9,113.0 424.3,111.0 425.7,109.0 427.0,107.0 428.3,105.0 429.6,103.1 430.8,101.2 431.9,99.3 433.0,97.3 434.1,95.5 435.1,93.6 436.2,91.9 437.4,90.2 438.6,88.6 439.9,87.2 441.3,85.8 442.6,84.5 444.0,83.2 445.4,81.9 446.7,80.7 447.9,79.3 449.0,78.0 450.2,76.8 451.4,75.6 452.7,74.5 454.0,73.6 455.4,72.7 456.7,71.8 458.0,70.9 459.3,70.0 460.5,69.0 461.6,68.0 462.6,66.9 463.5,65.8 464.3,64.7 465.1,63.5 465.9,62.3 465.9,62.3 462.4,62.1 458.9,61.9 455.4,61.7 451.9,61.6 448.4,61.4 444.9,61.3 441.4,61.1 437.9,60.8 434.5,60.4 431.0,60.1 427.5,59.8 424.0,59.6 420.5,59.6 417.0,59.6 413.5,59.6 410.0,59.8 406.5,60.1 403.0,60.4 399.6,60.9 396.1,61.5 392.7,62.2 389.3,63.1 385.9,64.1 382.6,65.3 379.4,66.6 376.2,68.0 373.1,69.6 370.0,71.2 366.9,72.9 363.8,74.6 360.8,76.4 357.7,78.1 354.7,79.8 351.6,81.4 348.5,83.0 345.4,84.7 342.3,86.3 339.3,88.0 336.2,89.8 333.2,91.6 330.2,93.4 327.3,95.2 324.3,97.0 321.2,98.8 318.2,100.6 315.2,102.3 312.1,104.0 309.1,105.7 306.0,107.4Z" fill="url(#g12)"/>
<path d="M312.3,107.4 314.3,104.1 316.2,100.9 318.1,97.8 320.1,94.6 322.0,91.6 323.8,88.5 325.7,85.5 327.6,82.5 329.5,79.6 331.3,76.7 333.2,73.8 335.1,71.0 337.0,68.3 338.8,65.5 340.7,62.9 342.6,60.2 344.5,57.7 346.4,55.1 348.4,52.6 350.3,50.1 352.1,47.7 354.0,45.3 355.9,42.9 357.8,40.6 359.7,38.3 361.5,36.0 363.4,33.7 365.2,31.5 367.1,29.3 368.9,27.1 370.6,24.9 372.4,22.7 M309.9,101.0 313.0,101.0 316.2,100.9 319.4,100.9 322.6,100.9 325.9,100.8 329.1,100.7 332.4,100.6 335.7,100.5 339.1,100.3 342.4,100.1 345.8,99.9 349.2,99.8 352.6,99.9 356.1,100.0 359.6,100.3 363.1,100.8 366.6,101.3 370.1,101.8 373.7,102.3 377.3,102.8 380.9,103.4 384.6,104.1 388.3,104.8 391.9,105.6 395.6,106.5 399.3,107.5 403.0,108.6 406.8,109.7 410.6,110.8 414.4,111.9 418.2,113.1 422.1,114.2 M318.7,107.3 320.7,104.1 322.6,100.9 324.5,97.7 326.5,94.6 328.4,91.5 330.3,88.4 332.1,85.4 334.0,82.5 335.9,79.5 337.7,76.7 339.6,73.8 341.4,71.0 343.3,68.3 345.1,65.6 347.0,62.9 348.9,60.3 350.8,57.8 352.7,55.3 354.6,52.8 356.5,50.4 358.4,48.0 360.2,45.6 362.1,43.3 364.0,41.0 365.8,38.7 367.7,36.5 369.5,34.3 371.4,32.1 373.2,29.9 374.9,27.8 376.6,25.6 378.3,23.4 M313.7,94.7 316.9,94.7 320.1,94.6 323.2,94.6 326.5,94.6 329.7,94.5 333.0,94.4 336.3,94.4 339.6,94.3 342.9,94.1 346.3,94.0 349.6,93.9 353.0,93.9 356.5,93.9 359.9,94.1 363.4,94.5 366.9,95.0 370.4,95.5 373.9,96.1 377.4,96.7 381.0,97.3 384.6,98.0 388.2,98.7 391.9,99.5 395.5,100.3 399.2,101.3 402.9,102.3 406.6,103.4 410.3,104.6 414.1,105.7 417.8,106.9 421.7,108.1 425.5,109.2 M325.2,107.1 327.2,103.9 329.1,100.7 331.1,97.6 333.0,94.4 334.9,91.4 336.8,88.4 338.6,85.4 340.5,82.4 342.3,79.5 344.2,76.6 346.0,73.8 347.8,71.0 349.6,68.3 351.5,65.6 353.4,63.0 355.3,60.5 357.2,58.0 359.0,55.5 360.9,53.1 362.8,50.7 364.6,48.3 366.5,46.0 368.3,43.7 370.2,41.5 372.1,39.3 373.9,37.1 375.8,35.0 377.6,32.9 379.3,30.7 381.0,28.6 382.7,26.5 384.4,24.4 M317.5,88.5 320.7,88.5 323.8,88.5 327.0,88.5 330.3,88.4 333.5,88.4 336.8,88.4 340.0,88.3 343.4,88.2 346.7,88.1 350.0,88.1 353.4,88.0 356.8,88.0 360.2,88.2 363.6,88.4 367.0,88.9 370.5,89.4 374.0,90.0 377.5,90.6 381.0,91.3 384.6,92.0 388.1,92.7 391.7,93.5 395.3,94.3 398.9,95.2 402.6,96.3 406.2,97.3 409.9,98.5 413.6,99.6 417.3,100.8 421.1,102.0 424.9,103.2 428.7,104.4 M331.8,106.8 333.8,103.6 335.7,100.5 337.7,97.3 339.6,94.3 341.5,91.2 343.4,88.2 345.2,85.3 347.1,82.3 348.9,79.5 350.7,76.6 352.5,73.8 354.3,71.1 356.1,68.4 357.9,65.7 359.8,63.2 361.7,60.7 363.6,58.3 365.5,55.9 367.3,53.5 369.2,51.1 371.0,48.8 372.8,46.5 374.7,44.3 376.5,42.2 378.4,40.1 380.2,38.0 382.0,35.9 383.8,33.8 385.5,31.7 387.2,29.7 388.8,27.6 390.4,25.5 M321.3,82.5 324.4,82.5 327.6,82.5 330.8,82.5 334.0,82.5 337.2,82.4 340.5,82.4 343.8,82.4 347.1,82.3 350.4,82.3 353.7,82.3 357.0,82.3 360.4,82.4 363.8,82.5 367.2,82.9 370.6,83.4 374.0,83.9 377.5,84.6 380.9,85.3 384.4,86.0 387.9,86.8 391.5,87.5 395.0,88.4 398.6,89.3 402.2,90.3 405.8,91.3 409.4,92.4 413.0,93.6 416.7,94.8 420.4,96.0 424.1,97.3 427.8,98.5 431.6,99.7 M338.5,106.4 340.5,103.2 342.4,100.1 344.4,97.0 346.3,94.0 348.2,91.0 350.0,88.1 351.9,85.1 353.7,82.3 355.5,79.4 357.3,76.6 359.0,73.9 360.8,71.2 362.6,68.5 364.4,66.0 366.3,63.5 368.1,61.1 370.0,58.7 371.9,56.4 373.8,54.1 375.6,51.8 377.4,49.5 379.2,47.3 381.0,45.1 382.8,43.1 384.7,41.1 386.5,39.1 388.3,37.1 390.1,35.1 391.7,33.0 393.4,31.0 395.0,29.0 396.5,27.0 M325.1,76.7 328.2,76.7 331.3,76.7 334.5,76.7 337.7,76.7 340.9,76.6 344.2,76.6 347.4,76.6 350.7,76.6 354.0,76.6 357.3,76.6 360.6,76.7 363.9,76.8 367.3,77.1 370.6,77.5 374.0,78.0 377.4,78.6 380.8,79.3 384.2,80.1 387.7,80.9 391.1,81.7 394.6,82.5 398.1,83.4 401.6,84.4 405.2,85.4 408.7,86.5 412.3,87.7 415.9,88.9 419.5,90.1 423.1,91.3 426.8,92.6 430.5,93.8 434.3,95.1 M345.3,106.0 347.3,102.9 349.2,99.8 351.1,96.8 353.0,93.9 354.9,90.9 356.8,88.0 358.6,85.2 360.4,82.4 362.2,79.6 363.9,76.8 365.7,74.1 367.4,71.5 369.2,68.9 371.0,66.4 372.8,64.0 374.7,61.7 376.5,59.4 378.4,57.1 380.2,54.9 382.0,52.7 383.8,50.5 385.6,48.4 387.4,46.3 389.2,44.3 391.0,42.4 392.8,40.5 394.6,38.6 396.3,36.7 398.0,34.7 399.6,32.8 401.1,30.8 402.6,28.9 M328.8,71.0 332.0,71.0 335.1,71.0 338.2,71.0 341.4,71.0 344.6,71.0 347.8,71.0 351.0,71.0 354.3,71.1 357.5,71.1 360.8,71.2 364.1,71.3 367.4,71.5 370.7,71.8 374.0,72.2 377.4,72.8 380.7,73.5 384.1,74.3 387.4,75.1 390.8,75.9 394.3,76.8 397.7,77.7 401.1,78.7 404.6,79.7 408.1,80.8 411.6,81.9 415.2,83.1 418.7,84.4 422.3,85.6 425.9,86.9 429.6,88.2 433.2,89.5 436.9,90.8 M352.2,106.1 354.1,103.0 356.1,100.0 358.0,97.1 359.9,94.1 361.8,91.3 363.6,88.4 365.4,85.6 367.2,82.9 368.9,80.2 370.6,77.5 372.3,74.8 374.0,72.2 375.8,69.7 377.5,67.3 379.3,65.0 381.2,62.7 383.1,60.5 384.9,58.4 386.7,56.2 388.5,54.1 390.2,51.9 391.9,49.9 393.7,47.9 395.5,46.1 397.4,44.2 399.1,42.4 400.9,40.6 402.6,38.7 404.2,36.9 405.7,35.0 407.2,33.1 408.7,31.2 M332.6,65.5 335.7,65.5 338.8,65.5 342.0,65.5 345.1,65.6 348.3,65.6 351.5,65.6 354.7,65.7 357.9,65.7 361.2,65.8 364.4,66.0 367.7,66.1 371.0,66.4 374.2,66.8 377.5,67.3 380.8,68.0 384.1,68.7 387.5,69.5 390.8,70.4 394.2,71.3 397.6,72.3 401.0,73.3 404.4,74.3 407.8,75.4 411.3,76.6 414.8,77.8 418.3,79.1 421.8,80.3 425.4,81.7 429.0,83.0 432.6,84.4 436.3,85.7 440.0,87.1 M359.2,106.7 361.1,103.7 363.1,100.8 365.0,97.9 366.9,95.0 368.7,92.2 370.5,89.4 372.3,86.6 374.0,83.9 375.7,81.3 377.4,78.6 379.0,76.0 380.7,73.5 382.4,71.1 384.1,68.7 385.9,66.5 387.8,64.3 389.6,62.2 391.4,60.1 393.2,58.0 394.9,55.9 396.6,53.9 398.4,51.9 400.1,50.0 401.9,48.2 403.7,46.5 405.5,44.8 407.2,43.0 408.8,41.3 410.4,39.5 411.9,37.6 413.3,35.8 414.7,34.0 M336.5,60.2 339.5,60.2 342.6,60.2 345.8,60.3 348.9,60.3 352.1,60.4 355.3,60.5 358.5,60.6 361.7,60.7 364.9,60.9 368.1,61.1 371.4,61.3 374.7,61.7 377.9,62.1 381.2,62.7 384.5,63.4 387.8,64.3 391.1,65.2 394.4,66.2 397.8,67.2 401.1,68.2 404.5,69.3 407.9,70.4 411.3,71.6 414.8,72.9 418.2,74.1 421.7,75.5 425.3,76.8 428.8,78.2 432.4,79.6 436.0,81.0 439.6,82.4 443.3,83.8 M366.3,107.6 368.2,104.7 370.1,101.8 372.0,98.9 373.9,96.1 375.7,93.4 377.5,90.6 379.2,88.0 380.9,85.3 382.6,82.7 384.2,80.1 385.8,77.5 387.4,75.1 389.1,72.7 390.8,70.4 392.6,68.2 394.4,66.2 396.2,64.1 398.0,62.1 399.8,60.1 401.4,58.1 403.1,56.1 404.8,54.2 406.5,52.4 408.3,50.7 410.1,49.1 411.8,47.4 413.5,45.8 415.1,44.1 416.6,42.4 418.1,40.6 419.4,38.8 420.8,37.1 M340.3,55.0 343.4,55.0 346.4,55.1 349.6,55.2 352.7,55.3 355.9,55.4 359.0,55.5 362.2,55.7 365.5,55.9 368.7,56.1 371.9,56.4 375.1,56.7 378.4,57.1 381.6,57.7 384.9,58.4 388.2,59.2 391.4,60.1 394.7,61.1 398.0,62.1 401.3,63.2 404.7,64.3 408.0,65.5 411.4,66.7 414.8,68.0 418.2,69.3 421.7,70.7 425.1,72.0 428.6,73.4 432.2,74.9 435.7,76.3 439.3,77.8 442.9,79.3 446.6,80.7 M373.5,108.6 375.4,105.7 377.3,102.8 379.2,100.0 381.0,97.3 382.8,94.6 384.6,92.0 386.3,89.3 387.9,86.8 389.5,84.2 391.1,81.7 392.7,79.2 394.3,76.8 395.9,74.5 397.6,72.3 399.3,70.2 401.1,68.2 402.9,66.2 404.7,64.3 406.4,62.4 408.0,60.4 409.6,58.5 411.3,56.7 413.0,55.1 414.8,53.5 416.5,51.9 418.2,50.4 419.9,48.8 421.4,47.2 422.9,45.5 424.3,43.9 425.6,42.1 426.9,40.4 M344.1,49.9 347.2,50.0 350.3,50.1 353.4,50.3 356.5,50.4 359.6,50.5 362.8,50.7 366.0,50.9 369.2,51.1 372.4,51.4 375.6,51.8 378.8,52.2 382.0,52.7 385.2,53.3 388.5,54.1 391.7,54.9 394.9,55.9 398.2,57.0 401.4,58.1 404.7,59.2 408.0,60.4 411.3,61.7 414.7,63.0 418.0,64.3 421.4,65.7 424.8,67.1 428.2,68.6 431.7,70.0 435.2,71.5 438.7,73.0 442.3,74.5 445.8,76.0 449.5,77.5 M380.8,109.6 382.7,106.8 384.6,104.1 386.4,101.3 388.2,98.7 390.0,96.0 391.7,93.5 393.4,90.9 395.0,88.4 396.6,85.9 398.1,83.4 399.6,81.0 401.1,78.7 402.7,76.4 404.4,74.3 406.1,72.3 407.9,70.4 409.7,68.5 411.4,66.7 413.1,64.8 414.7,63.0 416.3,61.2 417.9,59.5 419.6,57.9 421.3,56.4 423.0,54.9 424.7,53.5 426.3,52.0 427.9,50.5 429.3,48.9 430.6,47.3 431.9,45.6 433.1,44.0 M347.9,45.0 351.0,45.1 354.0,45.3 357.1,45.4 360.2,45.6 363.4,45.8 366.5,46.0 369.6,46.2 372.8,46.5 376.0,46.9 379.2,47.3 382.4,47.8 385.6,48.4 388.7,49.1 391.9,49.9 395.1,50.8 398.4,51.9 401.6,53.0 404.8,54.2 408.0,55.5 411.3,56.7 414.6,58.1 417.9,59.5 421.2,60.9 424.6,62.3 427.9,63.8 431.3,65.3 434.8,66.9 438.2,68.4 441.7,70.0 445.3,71.5 448.8,73.1 452.4,74.7 M388.2,111.1 390.1,108.3 391.9,105.6 393.8,103.0 395.5,100.3 397.3,97.8 398.9,95.2 400.6,92.8 402.2,90.3 403.7,87.8 405.2,85.4 406.6,83.1 408.1,80.8 409.7,78.6 411.3,76.6 413.0,74.7 414.8,72.9 416.5,71.1 418.2,69.3 419.8,67.5 421.4,65.7 423.0,64.0 424.6,62.3 426.2,60.9 427.9,59.5 429.6,58.1 431.3,56.7 432.9,55.3 434.4,53.9 435.7,52.4 437.0,50.8 438.2,49.2 439.4,47.6 M351.7,40.2 354.7,40.4 357.8,40.6 360.9,40.8 364.0,41.0 367.1,41.2 370.2,41.5 373.4,41.8 376.5,42.2 379.7,42.6 382.8,43.1 386.0,43.7 389.2,44.3 392.4,45.1 395.5,46.1 398.7,47.1 401.9,48.2 405.1,49.5 408.3,50.7 411.5,52.1 414.8,53.5 418.0,54.9 421.3,56.4 424.6,57.9 427.9,59.5 431.3,61.0 434.7,62.6 438.1,64.2 441.6,65.9 445.0,67.5 448.6,69.1 452.1,70.8 455.7,72.5 M395.6,112.9 397.5,110.2 399.3,107.5 401.1,104.9 402.9,102.3 404.6,99.8 406.2,97.3 407.8,94.9 409.4,92.4 410.9,90.0 412.3,87.7 413.7,85.3 415.2,83.1 416.7,81.0 418.3,79.1 420.0,77.2 421.7,75.5 423.5,73.7 425.1,72.0 426.7,70.3 428.2,68.6 429.8,66.9 431.3,65.3 433.0,63.9 434.7,62.6 436.4,61.4 438.0,60.1 439.5,58.7 441.0,57.3 442.3,55.9 443.6,54.4 444.7,52.8 445.8,51.3 M355.5,35.5 358.5,35.7 361.5,36.0 364.6,36.2 367.7,36.5 370.8,36.8 373.9,37.1 377.1,37.5 380.2,38.0 383.4,38.5 386.5,39.1 389.7,39.7 392.8,40.5 396.0,41.4 399.1,42.4 402.3,43.5 405.5,44.8 408.6,46.1 411.8,47.4 415.0,48.9 418.2,50.4 421.5,51.9 424.7,53.5 428.0,55.1 431.3,56.7 434.6,58.4 438.0,60.1 441.4,61.7 444.8,63.4 448.3,65.1 451.8,66.8 455.3,68.5 458.9,70.3 M403.1,115.0 405.0,112.3 406.8,109.7 408.6,107.1 410.3,104.6 412.0,102.1 413.6,99.6 415.2,97.2 416.7,94.8 418.1,92.4 419.5,90.1 420.9,87.8 422.3,85.6 423.8,83.6 425.4,81.7 427.1,79.9 428.8,78.2 430.5,76.5 432.2,74.9 433.7,73.2 435.2,71.5 436.7,69.9 438.2,68.4 439.9,67.1 441.6,65.9 443.2,64.6 444.8,63.4 446.3,62.1 447.8,60.8 449.0,59.4 450.2,57.9 451.3,56.4 452.3,54.9 M359.2,30.9 362.2,31.2 365.2,31.5 368.3,31.8 371.4,32.1 374.5,32.5 377.6,32.9 380.7,33.3 383.8,33.8 386.9,34.4 390.1,35.1 393.2,35.8 396.3,36.7 399.4,37.7 402.6,38.7 405.7,40.0 408.8,41.3 412.0,42.6 415.1,44.1 418.3,45.6 421.4,47.2 424.6,48.8 427.9,50.5 431.1,52.2 434.4,53.9 437.7,55.6 441.0,57.3 444.4,59.1 447.8,60.8 451.2,62.6 454.7,64.3 458.2,66.1 461.7,67.9 M410.7,117.2 412.5,114.5 414.4,111.9 416.1,109.4 417.8,106.9 419.5,104.4 421.1,102.0 422.6,99.6 424.1,97.3 425.5,94.9 426.8,92.6 428.2,90.3 429.6,88.2 431.0,86.2 432.6,84.4 434.3,82.6 436.0,81.0 437.7,79.4 439.3,77.8 440.8,76.1 442.3,74.5 443.7,72.9 445.3,71.5 446.9,70.3 448.6,69.1 450.2,68.0 451.8,66.8 453.3,65.6 454.7,64.3 455.9,63.0 457.0,61.5 458.1,60.1 459.0,58.6 M362.9,26.4 365.9,26.7 368.9,27.1 371.9,27.4 374.9,27.8 378.0,28.2 381.0,28.6 384.1,29.1 387.2,29.7 390.3,30.3 393.4,31.0 396.5,31.8 399.6,32.8 402.6,33.8 405.7,35.0 408.8,36.3 411.9,37.6 415.0,39.1 418.1,40.6 421.2,42.2 424.3,43.9 427.5,45.6 430.6,47.3 433.8,49.0 437.0,50.8 440.3,52.6 443.6,54.4 446.9,56.1 450.2,57.9 453.6,59.7 457.0,61.5 460.5,63.3 464.0,65.2" stroke="#141a10" stroke-opacity="0.5" stroke-width="1.0" fill="none"/>
</g>
<path d="M306.0,107.4 308.6,107.4 311.2,107.4 313.8,107.4 316.4,107.3 319.0,107.3 321.7,107.2 324.3,107.1 327.0,107.1 329.7,106.9 332.4,106.8 335.2,106.6 337.9,106.4 340.7,106.2 343.5,106.1 346.3,106.0 349.1,106.0 352.0,106.1 354.8,106.3 357.7,106.6 360.6,106.9 363.5,107.3 366.5,107.7 369.4,108.0 372.4,108.4 375.3,108.8 378.3,109.2 381.4,109.7 384.4,110.3 387.4,110.9 390.4,111.6 393.5,112.3 396.5,113.1 399.6,114.0 402.7,114.9 405.8,115.8 408.9,116.7 412.0,117.6 415.2,118.5 418.4,119.4 419.9,117.2 421.4,115.1 422.9,113.0 424.3,111.0 425.7,109.0 427.0,107.0 428.3,105.0 429.6,103.1 430.8,101.2 431.9,99.3 433.0,97.3 434.1,95.5 435.1,93.6 436.2,91.9 437.4,90.2 438.6,88.6 439.9,87.2 441.3,85.8 442.6,84.5 444.0,83.2 445.4,81.9 446.7,80.7 447.9,79.3 449.0,78.0 450.2,76.8 451.4,75.6 452.7,74.5 454.0,73.6 455.4,72.7 456.7,71.8 458.0,70.9 459.3,70.0 460.5,69.0 461.6,68.0 462.6,66.9 463.5,65.8 464.3,64.7 465.1,63.5 465.9,62.3" stroke="#10140a" stroke-opacity="0.85" stroke-width="0.8" fill="none" stroke-linejoin="round"/>
<g clip-path="url(#c17)">
<path d="M306.0,107.4 308.6,107.3 311.2,107.1 313.8,106.9 316.4,106.8 319.0,106.6 321.7,106.5 324.4,106.3 327.1,106.1 329.8,105.9 332.5,105.7 335.2,105.4 338.0,105.0 340.7,104.7 343.5,104.4 346.3,104.0 349.1,103.8 352.0,103.6 354.9,103.4 357.8,103.3 360.7,103.3 363.6,103.3 366.6,103.3 369.6,103.4 372.6,103.5 375.6,103.6 378.6,103.8 381.7,104.1 384.7,104.4 387.8,104.8 390.9,105.4 394.0,105.9 397.1,106.6 400.2,107.2 403.4,107.8 406.5,108.4 409.7,109.0 412.9,109.7 416.2,110.5 419.4,111.2 420.7,109.1 421.9,107.1 423.1,105.1 424.2,103.1 425.4,101.2 426.5,99.2 427.5,97.3 428.5,95.5 429.6,93.6 430.6,91.9 431.7,90.2 432.8,88.6 434.0,87.1 435.3,85.6 436.5,84.3 437.8,82.9 439.1,81.7 440.4,80.4 441.6,79.2 442.9,78.0 444.1,76.8 445.3,75.6 446.5,74.5 447.7,73.5 449.0,72.5 450.2,71.6 451.5,70.7 452.8,69.9 454.1,69.2 455.5,68.6 456.8,68.0 458.1,67.4 459.3,66.8 460.5,66.1 461.7,65.4 462.8,64.6 463.8,63.9 464.9,63.1 465.9,62.3 465.9,62.3 462.4,62.1 458.9,61.9 455.4,61.7 451.9,61.6 448.4,61.4 444.9,61.3 441.4,61.1 437.9,60.8 434.5,60.4 431.0,60.1 427.5,59.8 424.0,59.6 420.5,59.6 417.0,59.6 413.5,59.6 410.0,59.8 406.5,60.1 403.0,60.4 399.6,60.9 396.1,61.5 392.7,62.2 389.3,63.1 385.9,64.1 382.6,65.3 379.4,66.6 376.2,68.0 373.1,69.6 370.0,71.2 366.9,72.9 363.8,74.6 360.8,76.4 357.7,78.1 354.7,79.8 351.6,81.4 348.5,83.0 345.4,84.7 342.3,86.3 339.3,88.0 336.2,89.8 333.2,91.6 330.2,93.4 327.3,95.2 324.3,97.0 321.2,98.8 318.2,100.6 315.2,102.3 312.1,104.0 309.1,105.7 306.0,107.4Z" fill="url(#g13)"/>
<path d="M312.3,107.0 314.3,103.9 316.2,100.7 318.1,97.6 320.0,94.6 321.9,91.6 323.8,88.6 325.7,85.6 327.5,82.7 329.4,79.9 331.3,77.1 333.1,74.3 335.0,71.6 336.9,68.9 338.8,66.2 340.7,63.6 342.6,61.1 344.5,58.6 346.4,56.1 348.3,53.6 350.2,51.2 352.0,48.9 353.9,46.5 355.8,44.2 357.7,42.0 359.6,39.7 361.4,37.5 363.3,35.3 365.1,33.2 367.0,31.0 368.8,28.9 370.5,26.8 372.3,24.7 M309.9,101.1 313.0,100.9 316.2,100.7 319.4,100.6 322.6,100.4 325.8,100.2 329.1,100.0 332.3,99.7 335.6,99.5 338.9,99.2 342.3,98.8 345.6,98.5 349.0,98.1 352.4,97.8 355.9,97.6 359.4,97.5 362.9,97.5 366.4,97.6 370.0,97.7 373.6,97.8 377.2,98.0 380.8,98.3 384.5,98.6 388.2,99.1 391.9,99.7 395.6,100.4 399.3,101.2 403.1,102.0 406.9,102.8 410.8,103.5 414.6,104.4 418.5,105.3 422.4,106.2 M318.7,106.7 320.6,103.5 322.6,100.4 324.5,97.3 326.4,94.2 328.2,91.2 330.1,88.2 332.0,85.3 333.8,82.4 335.6,79.6 337.5,76.7 339.3,74.0 341.2,71.3 343.1,68.6 345.0,66.0 346.8,63.5 348.7,61.0 350.6,58.5 352.5,56.0 354.4,53.6 356.3,51.3 358.1,49.0 360.0,46.7 361.9,44.4 363.7,42.2 365.6,40.0 367.5,37.9 369.3,35.8 371.1,33.7 372.9,31.6 374.7,29.6 376.5,27.5 378.2,25.5 M313.7,95.0 316.9,94.8 320.0,94.6 323.2,94.4 326.4,94.2 329.6,94.0 332.8,93.8 336.1,93.6 339.4,93.4 342.7,93.1 346.0,92.8 349.3,92.5 352.7,92.2 356.1,92.0 359.5,91.9 362.9,91.9 366.4,91.9 369.9,92.0 373.4,92.2 377.0,92.4 380.5,92.7 384.1,93.0 387.8,93.5 391.4,94.0 395.1,94.6 398.7,95.4 402.4,96.2 406.1,97.0 409.9,97.8 413.7,98.7 417.5,99.5 421.4,100.4 425.2,101.4 M325.2,106.2 327.1,103.1 329.1,100.0 330.9,96.9 332.8,93.8 334.7,90.8 336.5,87.9 338.3,85.0 340.2,82.1 342.0,79.2 343.8,76.5 345.6,73.7 347.5,71.1 349.4,68.5 351.2,65.9 353.1,63.4 355.0,60.9 356.9,58.5 358.7,56.1 360.6,53.7 362.4,51.4 364.3,49.1 366.2,46.9 368.0,44.7 369.9,42.6 371.7,40.5 373.6,38.4 375.4,36.4 377.2,34.4 379.0,32.4 380.8,30.4 382.5,28.4 384.2,26.4 M317.6,89.0 320.7,88.8 323.8,88.6 326.9,88.4 330.1,88.2 333.3,88.1 336.5,87.9 339.8,87.7 343.0,87.5 346.3,87.2 349.6,87.0 352.9,86.7 356.2,86.5 359.6,86.4 362.9,86.3 366.3,86.3 369.8,86.5 373.2,86.7 376.7,86.9 380.2,87.2 383.7,87.6 387.3,88.0 390.9,88.4 394.4,89.0 398.1,89.7 401.7,90.5 405.3,91.4 409.0,92.2 412.7,93.1 416.4,93.9 420.2,94.8 424.0,95.8 427.8,96.7 M331.8,105.7 333.7,102.6 335.6,99.5 337.5,96.4 339.4,93.4 341.2,90.4 343.0,87.5 344.8,84.6 346.6,81.7 348.4,78.9 350.2,76.2 352.0,73.5 353.9,70.9 355.7,68.3 357.6,65.8 359.4,63.3 361.3,60.9 363.2,58.5 365.0,56.2 366.8,53.9 368.7,51.6 370.5,49.4 372.4,47.3 374.2,45.1 376.0,43.1 377.9,41.1 379.7,39.1 381.5,37.2 383.3,35.2 385.1,33.3 386.8,31.3 388.5,29.4 390.2,27.5 M321.3,83.1 324.4,82.9 327.5,82.7 330.7,82.6 333.8,82.4 337.0,82.2 340.2,82.1 343.4,81.9 346.6,81.7 349.9,81.5 353.1,81.3 356.4,81.1 359.7,81.0 363.0,80.9 366.3,80.9 369.7,81.0 373.1,81.2 376.5,81.5 379.9,81.8 383.4,82.2 386.8,82.6 390.3,83.1 393.9,83.6 397.4,84.3 401.0,85.0 404.5,85.8 408.1,86.7 411.7,87.6 415.4,88.5 419.1,89.4 422.8,90.3 426.6,91.3 430.3,92.3 M338.5,105.0 340.4,101.9 342.3,98.8 344.1,95.8 346.0,92.8 347.8,89.9 349.6,87.0 351.3,84.1 353.1,81.3 354.9,78.6 356.7,75.9 358.5,73.3 360.3,70.7 362.1,68.2 364.0,65.8 365.8,63.4 367.7,61.0 369.5,58.7 371.3,56.4 373.1,54.2 375.0,52.0 376.8,49.9 378.6,47.8 380.4,45.8 382.3,43.8 384.1,41.9 385.9,40.0 387.7,38.2 389.5,36.3 391.2,34.5 392.9,32.6 394.6,30.8 396.3,28.9 M325.1,77.4 328.2,77.2 331.3,77.1 334.4,76.9 337.5,76.7 340.6,76.6 343.8,76.5 347.0,76.3 350.2,76.2 353.4,76.0 356.7,75.9 359.9,75.8 363.2,75.7 366.5,75.7 369.8,75.7 373.1,75.9 376.4,76.2 379.8,76.5 383.2,76.9 386.6,77.4 390.0,77.9 393.5,78.5 396.9,79.1 400.4,79.8 404.0,80.6 407.5,81.5 411.0,82.4 414.6,83.4 418.3,84.3 421.9,85.2 425.6,86.2 429.3,87.2 433.0,88.3 M345.3,104.2 347.2,101.1 349.0,98.1 350.9,95.2 352.7,92.2 354.5,89.4 356.2,86.5 358.0,83.7 359.7,81.0 361.4,78.3 363.2,75.7 364.9,73.1 366.8,70.6 368.6,68.2 370.4,65.9 372.2,63.6 374.1,61.3 375.9,59.1 377.7,56.9 379.5,54.7 381.3,52.6 383.1,50.6 384.9,48.6 386.7,46.7 388.5,44.8 390.3,43.0 392.1,41.2 393.9,39.5 395.7,37.8 397.4,36.0 399.1,34.3 400.7,32.5 402.3,30.8 M328.9,71.8 331.9,71.7 335.0,71.6 338.1,71.4 341.2,71.3 344.3,71.2 347.5,71.1 350.7,71.0 353.9,70.9 357.1,70.8 360.3,70.7 363.5,70.6 366.8,70.6 370.0,70.7 373.3,70.9 376.6,71.1 379.9,71.5 383.2,71.9 386.6,72.4 390.0,73.0 393.4,73.6 396.8,74.2 400.2,74.9 403.7,75.7 407.2,76.6 410.7,77.6 414.2,78.6 417.8,79.6 421.4,80.6 425.0,81.6 428.7,82.6 432.4,83.7 436.1,84.8 M352.2,103.5 354.0,100.6 355.9,97.6 357.7,94.7 359.5,91.9 361.2,89.1 362.9,86.3 364.6,83.6 366.3,80.9 368.0,78.3 369.8,75.7 371.5,73.3 373.3,70.9 375.1,68.6 376.9,66.3 378.7,64.1 380.5,61.9 382.3,59.8 384.1,57.7 385.8,55.6 387.6,53.6 389.4,51.7 391.2,49.8 393.0,48.0 394.7,46.2 396.5,44.5 398.3,42.9 400.1,41.3 401.8,39.6 403.5,38.0 405.2,36.3 406.8,34.6 408.4,33.0 M332.7,66.5 335.7,66.3 338.8,66.2 341.9,66.1 345.0,66.0 348.1,66.0 351.2,65.9 354.4,65.8 357.6,65.8 360.8,65.8 364.0,65.8 367.2,65.8 370.4,65.9 373.6,66.0 376.9,66.3 380.2,66.6 383.5,67.1 386.8,67.6 390.1,68.2 393.5,68.8 396.8,69.5 400.2,70.3 403.6,71.1 407.1,72.0 410.5,72.9 414.0,74.0 417.5,75.0 421.0,76.1 424.6,77.1 428.2,78.2 431.9,79.3 435.5,80.4 439.2,81.6 M359.2,103.3 361.1,100.4 362.9,97.5 364.6,94.7 366.4,91.9 368.1,89.2 369.8,86.5 371.4,83.8 373.1,81.2 374.7,78.7 376.4,76.2 378.1,73.8 379.9,71.5 381.7,69.3 383.5,67.1 385.2,65.0 387.0,62.9 388.8,60.8 390.5,58.8 392.3,56.9 394.0,55.0 395.7,53.1 397.5,51.3 399.3,49.6 401.0,48.0 402.8,46.4 404.6,44.9 406.3,43.4 408.0,41.9 409.7,40.3 411.3,38.7 412.9,37.2 414.4,35.6 M336.5,61.2 339.5,61.2 342.6,61.1 345.6,61.0 348.7,61.0 351.9,60.9 355.0,60.9 358.1,60.9 361.3,60.9 364.5,61.0 367.7,61.0 370.9,61.1 374.1,61.3 377.3,61.5 380.5,61.9 383.8,62.3 387.0,62.9 390.3,63.5 393.6,64.2 396.9,64.9 400.3,65.7 403.6,66.5 407.0,67.4 410.4,68.4 413.8,69.4 417.3,70.5 420.7,71.7 424.2,72.8 427.8,73.9 431.4,75.0 435.0,76.2 438.6,77.4 442.3,78.6 M366.4,103.3 368.2,100.5 370.0,97.7 371.7,94.9 373.4,92.2 375.1,89.5 376.7,86.9 378.3,84.3 379.9,81.8 381.5,79.3 383.2,76.9 384.9,74.6 386.6,72.4 388.3,70.3 390.1,68.2 391.9,66.2 393.6,64.2 395.3,62.2 397.0,60.3 398.7,58.5 400.4,56.6 402.2,54.9 403.9,53.2 405.6,51.6 407.4,50.1 409.1,48.6 410.9,47.2 412.6,45.8 414.2,44.4 415.9,43.0 417.4,41.5 419.0,40.0 420.5,38.6 M340.3,56.2 343.3,56.1 346.4,56.1 349.4,56.1 352.5,56.0 355.6,56.0 358.7,56.1 361.9,56.1 365.0,56.2 368.2,56.3 371.3,56.4 374.5,56.6 377.7,56.9 380.9,57.2 384.1,57.7 387.3,58.2 390.5,58.8 393.8,59.5 397.0,60.3 400.3,61.2 403.6,62.0 406.9,63.0 410.3,64.0 413.6,65.0 417.0,66.1 420.4,67.3 423.9,68.5 427.4,69.6 430.9,70.8 434.4,72.0 438.0,73.2 441.6,74.4 445.2,75.7 M373.7,103.5 375.5,100.8 377.2,98.0 378.9,95.4 380.5,92.7 382.1,90.1 383.7,87.6 385.3,85.0 386.8,82.6 388.4,80.2 390.0,77.9 391.7,75.7 393.4,73.6 395.1,71.5 396.8,69.5 398.5,67.6 400.3,65.7 401.9,63.8 403.6,62.0 405.3,60.3 407.0,58.6 408.6,56.9 410.3,55.3 412.0,53.8 413.8,52.4 415.5,51.1 417.2,49.8 418.9,48.5 420.5,47.2 422.1,45.9 423.7,44.5 425.2,43.1 426.6,41.7 M344.1,51.2 347.1,51.2 350.2,51.2 353.2,51.2 356.3,51.3 359.3,51.3 362.4,51.4 365.6,51.5 368.7,51.6 371.8,51.8 375.0,52.0 378.1,52.3 381.3,52.6 384.4,53.1 387.6,53.6 390.8,54.3 394.0,55.0 397.2,55.8 400.4,56.6 403.7,57.6 407.0,58.6 410.2,59.6 413.5,60.7 416.9,61.8 420.2,63.0 423.6,64.2 427.0,65.5 430.5,66.7 434.0,68.0 437.5,69.2 441.0,70.5 444.6,71.8 448.2,73.1 M381.1,104.0 382.8,101.3 384.5,98.6 386.1,96.0 387.8,93.5 389.3,90.9 390.9,88.4 392.4,86.0 393.9,83.6 395.4,81.3 396.9,79.1 398.6,77.0 400.2,74.9 401.9,73.0 403.6,71.1 405.3,69.3 407.0,67.4 408.6,65.7 410.3,64.0 411.9,62.3 413.5,60.7 415.2,59.1 416.9,57.6 418.5,56.3 420.2,55.0 421.9,53.7 423.6,52.6 425.3,51.4 426.9,50.2 428.4,48.9 429.9,47.7 431.4,46.4 432.8,45.1 M347.9,46.4 350.9,46.5 353.9,46.5 357.0,46.6 360.0,46.7 363.1,46.8 366.2,46.9 369.3,47.1 372.4,47.3 375.5,47.5 378.6,47.8 381.7,48.2 384.9,48.6 388.0,49.1 391.2,49.8 394.3,50.5 397.5,51.3 400.7,52.2 403.9,53.2 407.1,54.2 410.3,55.3 413.6,56.5 416.9,57.6 420.2,58.9 423.5,60.1 426.8,61.4 430.2,62.8 433.7,64.1 437.1,65.4 440.6,66.7 444.1,68.1 447.7,69.5 451.3,70.9 M388.6,105.0 390.2,102.3 391.9,99.7 393.5,97.2 395.1,94.6 396.6,92.2 398.1,89.7 399.5,87.3 401.0,85.0 402.4,82.8 404.0,80.6 405.5,78.6 407.2,76.6 408.8,74.7 410.5,72.9 412.2,71.2 413.8,69.4 415.4,67.8 417.0,66.1 418.6,64.5 420.2,63.0 421.9,61.5 423.5,60.1 425.1,58.9 426.8,57.7 428.5,56.6 430.2,55.5 431.8,54.4 433.4,53.3 434.9,52.1 436.3,51.0 437.8,49.7 439.2,48.5 M351.7,41.8 354.7,41.9 357.7,42.0 360.7,42.1 363.7,42.2 366.8,42.4 369.9,42.6 373.0,42.8 376.0,43.1 379.2,43.4 382.3,43.8 385.4,44.3 388.5,44.8 391.6,45.5 394.7,46.2 397.9,47.1 401.0,48.0 404.2,49.0 407.4,50.1 410.6,51.2 413.8,52.4 417.0,53.7 420.2,55.0 423.5,56.3 426.8,57.7 430.2,59.1 433.5,60.5 436.9,61.9 440.4,63.3 443.8,64.7 447.3,66.2 450.9,67.6 454.5,69.1 M396.1,106.4 397.7,103.8 399.3,101.2 400.9,98.7 402.4,96.2 403.9,93.8 405.3,91.4 406.7,89.0 408.1,86.7 409.6,84.5 411.0,82.4 412.6,80.5 414.2,78.6 415.9,76.8 417.5,75.0 419.1,73.3 420.7,71.7 422.3,70.0 423.9,68.5 425.4,66.9 427.0,65.5 428.6,64.1 430.2,62.8 431.9,61.6 433.5,60.5 435.2,59.5 436.8,58.5 438.4,57.5 440.0,56.5 441.5,55.4 442.9,54.2 444.3,53.1 445.6,52.0 M355.5,37.2 358.5,37.3 361.4,37.5 364.4,37.7 367.5,37.9 370.5,38.1 373.6,38.4 376.6,38.7 379.7,39.1 382.8,39.5 385.9,40.0 389.0,40.6 392.1,41.2 395.2,42.0 398.3,42.9 401.5,43.8 404.6,44.9 407.7,46.0 410.9,47.2 414.0,48.5 417.2,49.8 420.4,51.2 423.6,52.6 426.9,54.0 430.2,55.5 433.5,57.0 436.8,58.5 440.2,60.0 443.6,61.5 447.1,63.0 450.6,64.5 454.1,66.0 457.7,67.6 M403.7,107.9 405.4,105.3 406.9,102.8 408.4,100.3 409.9,97.8 411.3,95.4 412.7,93.1 414.1,90.8 415.4,88.5 416.8,86.4 418.3,84.3 419.8,82.4 421.4,80.6 423.0,78.8 424.6,77.1 426.2,75.5 427.8,73.9 429.3,72.3 430.9,70.8 432.4,69.4 434.0,68.0 435.5,66.6 437.1,65.4 438.7,64.3 440.4,63.3 442.0,62.4 443.6,61.5 445.2,60.6 446.7,59.6 448.2,58.6 449.6,57.5 450.9,56.5 452.2,55.4 M359.2,32.7 362.2,32.9 365.1,33.2 368.1,33.4 371.1,33.7 374.2,34.0 377.2,34.4 380.3,34.8 383.3,35.2 386.4,35.7 389.5,36.3 392.6,37.0 395.7,37.8 398.7,38.6 401.8,39.6 404.9,40.7 408.0,41.9 411.1,43.1 414.2,44.4 417.4,45.8 420.5,47.2 423.7,48.7 426.9,50.2 430.1,51.7 433.4,53.3 436.7,54.9 440.0,56.5 443.3,58.0 446.7,59.6 450.2,61.2 453.6,62.8 457.1,64.4 460.7,66.0 M411.5,109.4 413.1,106.9 414.6,104.4 416.1,101.9 417.5,99.5 418.9,97.2 420.2,94.8 421.5,92.5 422.8,90.3 424.2,88.2 425.6,86.2 427.1,84.3 428.7,82.6 430.3,80.9 431.9,79.3 433.4,77.7 435.0,76.2 436.5,74.7 438.0,73.2 439.5,71.8 441.0,70.5 442.6,69.2 444.1,68.1 445.7,67.1 447.3,66.2 449.0,65.3 450.6,64.5 452.1,63.7 453.6,62.8 455.0,61.8 456.4,60.8 457.7,59.8 459.0,58.8 M362.9,28.3 365.8,28.6 368.8,28.9 371.7,29.2 374.7,29.6 377.7,29.9 380.8,30.4 383.8,30.8 386.8,31.3 389.9,31.9 392.9,32.6 396.0,33.4 399.1,34.3 402.1,35.2 405.2,36.3 408.2,37.5 411.3,38.7 414.4,40.1 417.4,41.5 420.5,43.0 423.7,44.5 426.8,46.1 429.9,47.7 433.1,49.3 436.3,51.0 439.6,52.6 442.9,54.2 446.2,55.9 449.6,57.5 453.0,59.2 456.4,60.8 459.9,62.5 463.4,64.2" stroke="#141a10" stroke-opacity="0.5" stroke-width="1.0" fill="none"/>
</g>
<path d="M306.0,107.4 308.6,107.3 311.2,107.1 313.8,106.9 316.4,106.8 319.0,106.6 321.7,106.5 324.4,106.3 327.1,106.1 329.8,105.9 332.5,105.7 335.2,105.4 338.0,105.0 340.7,104.7 343.5,104.4 346.3,104.0 349.1,103.8 352.0,103.6 354.9,103.4 357.8,103.3 360.7,103.3 363.6,103.3 366.6,103.3 369.6,103.4 372.6,103.5 375.6,103.6 378.6,103.8 381.7,104.1 384.7,104.4 387.8,104.8 390.9,105.4 394.0,105.9 397.1,106.6 400.2,107.2 403.4,107.8 406.5,108.4 409.7,109.0 412.9,109.7 416.2,110.5 419.4,111.2 420.7,109.1 421.9,107.1 423.1,105.1 424.2,103.1 425.4,101.2 426.5,99.2 427.5,97.3 428.5,95.5 429.6,93.6 430.6,91.9 431.7,90.2 432.8,88.6 434.0,87.1 435.3,85.6 436.5,84.3 437.8,82.9 439.1,81.7 440.4,80.4 441.6,79.2 442.9,78.0 444.1,76.8 445.3,75.6 446.5,74.5 447.7,73.5 449.0,72.5 450.2,71.6 451.5,70.7 452.8,69.9 454.1,69.2 455.5,68.6 456.8,68.0 458.1,67.4 459.3,66.8 460.5,66.1 461.7,65.4 462.8,64.6 463.8,63.9 464.9,63.1 465.9,62.3" stroke="#10140a" stroke-opacity="0.85" stroke-width="0.8" fill="none" stroke-linejoin="round"/>
<path d="M306.0,107.4 309.1,105.7 312.1,104.0 315.2,102.3 318.2,100.6 321.2,98.8 324.3,97.0 327.3,95.2 330.2,93.4 333.2,91.6 336.2,89.8 339.3,88.0 342.3,86.3 345.4,84.7 348.5,83.0 351.6,81.4 354.7,79.8 357.7,78.1 360.8,76.4 363.8,74.6 366.9,72.9 370.0,71.2 373.1,69.6 376.2,68.0 379.4,66.6 382.6,65.3 385.9,64.1 389.3,63.1 392.7,62.2 396.1,61.5 399.6,60.9 403.0,60.4 406.5,60.1 410.0,59.8 413.5,59.6 417.0,59.6 420.5,59.6 424.0,59.6 427.5,59.8 431.0,60.1 434.5,60.4 437.9,60.8 441.4,61.1 444.9,61.3 448.4,61.4 451.9,61.6 455.4,61.7 458.9,61.9 462.4,62.1 465.9,62.3" stroke="#3a3010" stroke-width="0.5" fill="none" stroke-opacity="0.45"/>
<path d="M296.0,68.0 366.0,11.0" stroke="#444" stroke-width="0.8" fill="none"/>
<path d="M300.7,64.2 301.0,65.1 M306.4,59.5 306.7,60.5 M311.9,55.0 312.6,56.9 M317.2,50.7 317.6,51.7 M322.4,46.5 322.7,47.5 M327.4,42.5 327.7,43.4 M332.2,38.5 332.9,40.4 M336.9,34.7 337.2,35.7 M341.4,31.0 341.8,32.0 M345.8,27.4 346.2,28.4 M350.1,23.9 350.8,25.8 M354.2,20.6 354.6,21.5 M358.3,17.3 358.6,18.2 M362.2,14.1 362.5,15.0 M366.0,11.0 366.7,12.9" stroke="#444" stroke-width="0.6" fill="none"/>
<path d="M302.4,108.4 417.3,154.0" stroke="#444" stroke-width="0.8" fill="none"/>
<path d="M307.6,110.4 307.8,109.5 M314.2,113.1 314.4,112.1 M320.9,115.7 321.5,113.8 M327.8,118.5 328.1,117.5 M334.9,121.3 335.2,120.4 M342.2,124.2 342.5,123.2 M349.7,127.2 350.3,125.3 M357.4,130.2 357.7,129.3 M365.2,133.3 365.5,132.4 M373.3,136.5 373.6,135.6 M381.6,139.8 382.2,137.9 M390.2,143.2 390.5,142.3 M399.0,146.7 399.3,145.8 M408.0,150.3 408.3,149.4 M417.3,154.0 417.9,152.1" stroke="#444" stroke-width="0.6" fill="none"/>
<path d="M296.0,68.0 302.4,108.4" stroke="#777" stroke-width="0.8" fill="none"/>
<path d="M302.3,107.9 303.3,108.0 M301.9,105.2 302.9,105.3 M301.5,102.5 303.4,102.8 M301.1,99.9 302.0,100.1 M300.7,97.4 301.6,97.5 M300.3,94.9 301.3,95.1 M299.9,92.5 301.9,92.8 M299.5,90.1 300.5,90.2 M299.1,87.7 300.1,87.9 M298.8,85.4 299.7,85.6 M298.4,83.2 300.4,83.4 M298.0,80.9 299.0,81.1 M297.7,78.7 298.7,78.9 M297.4,76.6 298.4,76.7 M297.0,74.5 299.0,74.8 M296.7,72.4 297.7,72.6 M296.4,70.4 297.4,70.5 M296.1,68.4 297.1,68.5" stroke="#777" stroke-width="0.6" fill="none"/>
<rect x="489.5" y="53.65" width="6.7" height="6.7" fill="url(#g18)"/>
<rect x="489.5" y="69.00" width="6.7" height="6.7" fill="url(#g19)"/>
<rect x="489.5" y="84.35" width="6.7" height="6.7" fill="url(#g20)"/>
<path d="M158.6,282.0 228.4,226.2 M228.4,226.2 335.0,253.0 M158.6,282.0 165.0,322.0 M335.0,253.0 330.4,292.4 M165.0,322.0 280.6,368.8 M280.6,368.8 330.4,292.4 M280.6,368.8 281.6,344.4 M330.4,292.4 310.0,286.0 M158.6,282.0 190.0,294.6 M335.0,253.0 321.0,273.5 M228.4,226.2 229.0,227.6" stroke="#767676" stroke-width="0.7" fill="none"/>
<g clip-path="url(#c24)">
<path d="M169.0,321.6 170.7,322.0 172.5,322.3 174.2,322.7 176.0,323.1 177.7,323.5 179.5,323.8 181.3,324.2 183.0,324.6 184.8,325.0 186.6,325.3 188.4,325.7 190.2,326.1 192.0,326.5 193.8,326.8 195.6,327.2 197.5,327.5 199.3,327.9 201.1,328.2 203.0,328.5 204.8,328.8 206.7,329.1 208.6,329.4 210.4,329.7 212.3,330.0 214.2,330.3 216.1,330.5 218.0,330.8 220.0,331.1 221.9,331.3 223.8,331.6 225.7,331.8 227.7,332.1 229.6,332.4 231.6,332.7 233.5,333.0 235.5,333.3 237.4,333.6 239.4,334.0 241.4,334.4 243.3,334.8 245.3,335.2 247.3,335.7 249.3,336.1 251.2,336.6 253.2,337.1 255.2,337.6 257.2,338.1 259.2,338.7 261.2,339.2 263.2,339.7 265.2,340.3 267.2,340.8 269.3,341.3 271.3,341.8 273.3,342.3 275.4,342.9 277.5,343.4 279.5,343.9 281.6,344.4 282.7,342.7 283.7,341.0 284.7,339.4 285.8,337.8 286.8,336.2 287.9,334.7 288.9,333.2 290.0,331.7 291.1,330.3 292.1,328.9 293.2,327.5 294.3,326.1 295.4,324.8 296.4,323.5 297.4,322.2 298.4,320.8 299.3,319.5 300.2,318.1 301.0,316.8 301.8,315.4 302.6,314.1 303.4,312.7 304.1,311.4 304.9,310.1 305.7,308.9 306.5,307.6 307.3,306.4 308.1,305.2 308.9,304.1 309.8,303.0 310.6,301.9 311.5,300.9 312.4,299.8 313.3,298.8 314.1,297.8 315.0,296.8 315.8,295.8 316.6,294.8 317.4,293.7 318.1,292.7 318.8,291.7 319.5,290.7 320.2,289.7 320.9,288.7 321.5,287.7 322.2,286.7 322.8,285.7 323.5,284.7 324.1,283.7 324.7,282.8 325.3,281.8 325.9,280.9 326.4,279.9 326.9,278.9 327.4,278.0 327.8,277.0 328.3,276.0 328.7,275.1 329.1,274.1 326.8,273.6 324.5,273.0 322.2,272.5 320.0,271.9 317.8,271.2 315.6,270.5 313.5,269.7 311.4,268.9 309.4,268.0 307.4,267.1 305.4,266.1 303.5,265.2 301.5,264.3 299.6,263.4 297.7,262.5 295.8,261.7 293.9,260.8 292.0,260.0 290.2,259.1 288.4,258.2 286.6,257.4 284.8,256.5 283.1,255.6 281.3,254.6 279.7,253.7 278.0,252.7 276.4,251.7 274.8,250.7 273.2,249.7 271.7,248.7 270.2,247.7 268.6,246.6 267.1,245.6 265.7,244.6 264.2,243.5 262.7,242.5 261.3,241.5 259.8,240.5 258.4,239.5 257.0,238.6 255.5,237.6 254.1,236.7 252.6,235.9 251.2,235.0 249.7,234.2 248.3,233.5 246.8,232.8 245.4,232.2 243.9,231.6 242.4,231.0 240.9,230.5 239.4,230.1 237.9,229.7 236.4,229.3 234.9,228.9 233.4,228.6 231.9,228.2 230.5,227.9 229.0,227.6 227.7,228.6 226.4,229.6 225.1,230.7 223.8,231.8 222.6,232.9 221.4,234.1 220.3,235.4 219.2,236.7 218.2,238.1 217.2,239.5 216.3,240.9 215.3,242.4 214.4,243.9 213.4,245.3 212.5,246.8 211.5,248.3 210.5,249.7 209.5,251.2 208.5,252.7 207.5,254.2 206.5,255.7 205.5,257.2 204.4,258.7 203.4,260.2 202.4,261.8 201.5,263.4 200.5,265.0 199.5,266.6 198.6,268.2 197.7,269.9 196.8,271.5 195.9,273.2 195.0,275.0 194.2,276.7 193.3,278.4 192.5,280.2 191.7,282.0 190.9,283.8 190.1,285.6 189.2,287.4 188.4,289.2 187.5,291.0 186.6,292.8 185.7,294.6 184.7,296.4 183.7,298.2 182.7,300.0 181.6,301.8 180.6,303.5 179.5,305.3 178.4,307.1 177.2,308.9 176.1,310.7 174.9,312.5 173.8,314.3 172.6,316.1 171.4,317.9 170.2,319.8 169.0,321.6Z" fill="url(#g21)"/>
<path d="M169.0,321.6 172.0,320.0 175.1,318.4 178.1,316.8 181.2,315.2 184.2,313.6 187.3,312.0 190.3,310.4 193.4,308.8 196.4,307.2 199.5,305.7 202.6,304.1 205.6,302.5 208.7,301.0 211.8,299.5 214.9,298.0 218.1,296.6 221.3,295.3 224.5,294.0 227.7,292.8 231.0,291.7 234.2,290.7 237.6,289.8 240.9,289.0 244.3,288.2 247.6,287.5 251.0,286.8 254.4,286.1 257.7,285.4 261.1,284.7 264.5,284.1 267.9,283.5 271.3,282.8 274.6,282.2 278.0,281.7 281.4,281.1 284.8,280.5 288.2,280.0 291.6,279.4 295.0,278.9 298.4,278.4 301.8,277.9 305.3,277.5 308.7,277.0 312.1,276.6 315.5,276.2 318.9,275.8 322.3,275.2 325.7,274.7 329.1,274.1 328.5,275.6 327.8,277.0 327.1,278.5 326.4,280.0 325.6,281.4 324.7,282.9 323.7,284.3 322.7,285.8 321.8,287.3 320.8,288.8 319.8,290.3 318.7,291.9 317.6,293.4 316.5,294.9 315.2,296.5 314.0,298.0 312.6,299.5 311.3,301.1 310.0,302.7 308.7,304.4 307.5,306.1 306.2,308.0 305.0,309.9 303.9,311.8 302.7,313.8 301.6,315.9 300.3,317.9 299.0,320.0 297.6,322.0 296.0,324.0 294.4,326.0 292.8,328.1 291.1,330.2 289.5,332.4 287.9,334.6 286.3,337.0 284.8,339.4 283.2,341.9 281.6,344.4 278.5,343.6 275.3,342.8 272.2,342.1 269.1,341.3 266.1,340.5 263.0,339.7 260.0,338.9 257.0,338.1 254.0,337.3 251.0,336.5 248.0,335.8 245.0,335.1 242.0,334.5 239.0,333.9 236.1,333.4 233.1,332.9 230.2,332.4 227.2,332.0 224.3,331.6 221.4,331.3 218.5,330.9 215.6,330.5 212.7,330.1 209.9,329.6 207.0,329.2 204.2,328.7 201.4,328.3 198.6,327.7 195.9,327.2 193.1,326.7 190.4,326.1 187.7,325.6 185.0,325.0 182.3,324.4 179.6,323.9 176.9,323.3 174.3,322.7 171.6,322.2 169.0,321.6Z" fill="url(#g25)"/>
<path d="M175.4,323.0 177.6,319.6 179.8,316.2 181.9,312.8 184.0,309.5 186.0,306.1 188.0,302.8 189.9,299.5 191.7,296.2 193.4,292.9 195.0,289.5 196.6,286.2 198.1,282.9 199.6,279.6 201.1,276.4 202.7,273.3 204.3,270.2 206.1,267.2 207.8,264.2 209.6,261.4 211.5,258.6 213.3,255.8 215.2,253.1 216.9,250.4 218.7,247.6 220.4,244.9 222.1,242.2 223.9,239.6 225.7,237.1 227.7,234.8 229.9,232.7 232.1,230.7 234.5,228.8 M173.4,314.9 176.6,315.5 179.8,316.2 183.0,316.8 186.2,317.5 189.5,318.2 192.8,318.9 196.0,319.6 199.3,320.2 202.7,320.9 206.0,321.6 209.4,322.2 212.8,322.9 216.2,323.5 219.7,324.0 223.2,324.6 226.7,325.1 230.2,325.7 233.7,326.2 237.3,326.8 240.9,327.5 244.5,328.2 248.1,329.0 251.8,329.8 255.4,330.7 259.1,331.6 262.8,332.6 266.5,333.6 270.2,334.6 274.0,335.5 277.8,336.5 281.6,337.4 285.5,338.3 M181.9,324.4 184.1,320.9 186.2,317.5 188.3,314.1 190.4,310.7 192.4,307.4 194.4,304.1 196.3,300.8 198.1,297.4 199.8,294.1 201.4,290.8 202.9,287.5 204.4,284.2 205.9,280.9 207.4,277.7 209.0,274.5 210.6,271.5 212.3,268.5 214.1,265.6 215.8,262.7 217.7,259.9 219.5,257.2 221.3,254.5 223.0,251.8 224.7,249.1 226.4,246.4 228.1,243.7 229.8,241.1 231.6,238.6 233.5,236.3 235.6,234.2 237.8,232.2 240.0,230.2 M177.6,308.2 180.8,308.8 184.0,309.5 187.2,310.1 190.4,310.7 193.6,311.4 196.9,312.1 200.1,312.8 203.4,313.6 206.7,314.3 210.0,315.0 213.3,315.7 216.7,316.4 220.1,317.1 223.5,317.8 226.9,318.4 230.4,319.0 233.9,319.6 237.4,320.3 241.0,320.9 244.6,321.6 248.2,322.4 251.8,323.2 255.4,324.0 259.1,325.0 262.7,325.9 266.4,326.9 270.1,328.0 273.9,329.0 277.7,329.9 281.5,330.8 285.4,331.7 289.3,332.6 M188.5,325.7 190.6,322.3 192.8,318.9 194.8,315.5 196.9,312.1 198.9,308.8 200.8,305.5 202.7,302.2 204.5,298.9 206.2,295.6 207.8,292.3 209.3,289.0 210.8,285.7 212.2,282.4 213.7,279.3 215.3,276.1 216.9,273.1 218.6,270.1 220.3,267.3 222.1,264.4 223.9,261.7 225.6,259.0 227.4,256.3 229.1,253.6 230.8,250.9 232.4,248.3 234.0,245.6 235.7,243.0 237.4,240.6 239.3,238.3 241.3,236.1 243.4,234.1 245.5,232.2 M181.7,301.6 184.8,302.2 188.0,302.8 191.2,303.4 194.4,304.1 197.6,304.7 200.8,305.5 204.1,306.2 207.3,307.0 210.6,307.8 213.8,308.6 217.1,309.4 220.5,310.2 223.8,310.9 227.2,311.7 230.6,312.4 234.0,313.1 237.5,313.8 241.0,314.5 244.6,315.2 248.2,316.0 251.8,316.8 255.4,317.7 259.1,318.6 262.7,319.5 266.4,320.5 270.1,321.6 273.9,322.7 277.6,323.7 281.5,324.7 285.4,325.6 289.3,326.5 293.3,327.4 M195.2,327.1 197.3,323.6 199.3,320.2 201.4,316.9 203.4,313.6 205.4,310.3 207.3,307.0 209.2,303.7 210.9,300.5 212.6,297.3 214.2,294.0 215.7,290.7 217.1,287.5 218.6,284.3 220.0,281.2 221.6,278.1 223.2,275.1 224.8,272.2 226.5,269.4 228.2,266.6 230.0,263.9 231.8,261.3 233.5,258.6 235.1,256.0 236.8,253.4 238.3,250.7 239.9,248.1 241.5,245.6 243.2,243.2 245.0,240.9 246.9,238.8 248.8,236.8 250.8,234.8 M185.4,295.0 188.6,295.6 191.7,296.2 194.9,296.8 198.1,297.4 201.3,298.1 204.5,298.9 207.7,299.7 210.9,300.5 214.2,301.4 217.4,302.2 220.7,303.1 224.0,304.0 227.3,304.8 230.7,305.7 234.1,306.5 237.5,307.3 241.0,308.1 244.5,308.9 248.0,309.7 251.6,310.6 255.2,311.4 258.9,312.3 262.6,313.3 266.2,314.3 270.0,315.4 273.7,316.5 277.5,317.6 281.3,318.7 285.2,319.7 289.2,320.7 293.1,321.6 297.2,322.5 M201.9,328.3 204.0,325.0 206.0,321.6 208.0,318.3 210.0,315.0 211.9,311.8 213.8,308.6 215.7,305.4 217.4,302.2 219.1,299.1 220.6,295.9 222.1,292.7 223.5,289.5 224.9,286.4 226.4,283.3 227.9,280.3 229.4,277.4 231.0,274.6 232.7,271.8 234.4,269.2 236.1,266.5 237.8,263.9 239.5,261.4 241.1,258.8 242.7,256.2 244.2,253.7 245.7,251.1 247.3,248.6 248.9,246.3 250.6,244.1 252.4,242.0 254.3,240.0 256.1,238.0 M188.8,288.4 191.9,289.0 195.0,289.5 198.2,290.1 201.4,290.8 204.6,291.5 207.8,292.3 211.0,293.1 214.2,294.0 217.4,294.9 220.6,295.9 223.9,296.8 227.1,297.8 230.4,298.8 233.8,299.7 237.1,300.6 240.6,301.5 244.0,302.4 247.5,303.3 251.0,304.2 254.6,305.1 258.3,306.1 261.9,307.0 265.6,308.0 269.3,309.1 273.1,310.2 276.8,311.4 280.6,312.6 284.5,313.7 288.4,314.7 292.4,315.7 296.5,316.6 300.6,317.5 M208.8,329.5 210.8,326.1 212.8,322.9 214.8,319.6 216.7,316.4 218.6,313.3 220.5,310.2 222.3,307.1 224.0,304.0 225.6,300.9 227.1,297.8 228.6,294.7 230.0,291.6 231.3,288.6 232.8,285.6 234.2,282.7 235.8,279.9 237.3,277.1 239.0,274.5 240.6,271.9 242.3,269.3 244.0,266.8 245.6,264.3 247.2,261.8 248.7,259.3 250.1,256.9 251.6,254.4 253.1,252.0 254.6,249.7 256.3,247.6 258.0,245.5 259.7,243.5 261.5,241.6 M191.8,281.8 194.9,282.3 198.1,282.9 201.2,283.5 204.4,284.2 207.6,284.9 210.8,285.7 213.9,286.6 217.1,287.5 220.3,288.5 223.5,289.5 226.7,290.6 230.0,291.6 233.2,292.7 236.5,293.7 239.9,294.7 243.2,295.7 246.7,296.7 250.2,297.7 253.7,298.7 257.3,299.7 260.9,300.6 264.6,301.7 268.3,302.8 272.0,303.9 275.7,305.0 279.5,306.3 283.3,307.5 287.2,308.6 291.2,309.7 295.2,310.7 299.3,311.7 303.4,312.6 M215.8,330.5 217.7,327.2 219.7,324.0 221.6,320.9 223.5,317.8 225.4,314.7 227.2,311.7 229.0,308.7 230.7,305.7 232.3,302.7 233.8,299.7 235.2,296.7 236.5,293.7 237.9,290.8 239.3,287.9 240.7,285.1 242.2,282.4 243.7,279.7 245.3,277.2 247.0,274.7 248.6,272.2 250.2,269.8 251.8,267.4 253.3,265.0 254.7,262.6 256.2,260.2 257.6,257.8 259.0,255.5 260.5,253.3 262.0,251.2 263.6,249.2 265.2,247.3 266.9,245.4 M194.9,275.3 198.0,275.8 201.1,276.4 204.3,277.0 207.4,277.7 210.6,278.4 213.7,279.3 216.9,280.2 220.0,281.2 223.2,282.2 226.4,283.3 229.5,284.5 232.8,285.6 236.0,286.7 239.3,287.9 242.6,289.0 245.9,290.1 249.3,291.2 252.8,292.3 256.3,293.3 259.9,294.4 263.5,295.4 267.2,296.5 270.9,297.7 274.6,298.8 278.4,300.1 282.2,301.3 286.0,302.6 289.9,303.8 293.9,305.0 298.0,306.0 302.1,306.9 306.3,307.9 M222.8,331.4 224.8,328.3 226.7,325.1 228.5,322.0 230.4,319.0 232.2,316.0 234.0,313.1 235.8,310.2 237.5,307.3 239.1,304.4 240.6,301.5 241.9,298.6 243.2,295.7 244.6,292.9 245.9,290.1 247.3,287.4 248.8,284.8 250.3,282.3 251.9,279.8 253.5,277.4 255.1,275.1 256.6,272.8 258.2,270.4 259.6,268.1 261.0,265.8 262.4,263.5 263.7,261.2 265.1,259.0 266.5,256.9 268.0,254.9 269.5,252.9 271.0,251.0 272.5,249.2 M198.1,269.0 201.2,269.6 204.3,270.2 207.5,270.8 210.6,271.5 213.8,272.2 216.9,273.1 220.0,274.1 223.2,275.1 226.3,276.3 229.4,277.4 232.6,278.6 235.8,279.9 239.0,281.1 242.2,282.4 245.5,283.6 248.8,284.8 252.2,286.0 255.6,287.2 259.1,288.3 262.7,289.4 266.3,290.6 270.0,291.7 273.7,292.9 277.4,294.2 281.2,295.4 285.0,296.8 288.9,298.1 292.8,299.4 296.8,300.6 300.9,301.6 305.1,302.6 309.3,303.5 M230.0,332.4 231.9,329.3 233.7,326.2 235.6,323.2 237.4,320.3 239.2,317.4 241.0,314.5 242.8,311.7 244.5,308.9 246.0,306.1 247.5,303.3 248.9,300.5 250.2,297.7 251.5,295.0 252.8,292.3 254.2,289.7 255.6,287.2 257.1,284.7 258.7,282.4 260.2,280.1 261.8,277.8 263.3,275.6 264.8,273.4 266.2,271.2 267.5,268.9 268.8,266.7 270.1,264.5 271.4,262.4 272.8,260.4 274.2,258.4 275.6,256.5 276.9,254.7 278.3,252.9 M201.6,263.1 204.7,263.6 207.8,264.2 210.9,264.9 214.1,265.6 217.2,266.4 220.3,267.3 223.4,268.3 226.5,269.4 229.6,270.6 232.7,271.8 235.8,273.1 239.0,274.5 242.1,275.8 245.3,277.2 248.6,278.5 251.9,279.8 255.2,281.1 258.7,282.4 262.1,283.6 265.7,284.8 269.3,286.0 273.0,287.3 276.7,288.5 280.5,289.8 284.2,291.2 288.1,292.6 291.9,294.0 295.9,295.3 299.9,296.6 304.1,297.7 308.3,298.7 312.6,299.6 M237.2,333.6 239.1,330.5 240.9,327.5 242.7,324.5 244.6,321.6 246.4,318.8 248.2,316.0 249.9,313.3 251.6,310.6 253.2,307.8 254.6,305.1 256.0,302.4 257.3,299.7 258.6,297.0 259.9,294.4 261.3,291.9 262.7,289.4 264.2,287.1 265.7,284.8 267.2,282.6 268.8,280.5 270.3,278.3 271.7,276.2 273.0,274.0 274.4,271.9 275.6,269.8 276.9,267.7 278.1,265.6 279.4,263.7 280.7,261.8 282.0,259.9 283.3,258.1 284.6,256.4 M205.3,257.4 208.4,258.0 211.5,258.6 214.6,259.2 217.7,259.9 220.8,260.8 223.9,261.7 226.9,262.8 230.0,263.9 233.1,265.2 236.1,266.5 239.2,267.9 242.3,269.3 245.5,270.8 248.6,272.2 251.8,273.7 255.1,275.1 258.4,276.5 261.8,277.8 265.2,279.2 268.8,280.5 272.4,281.8 276.0,283.1 279.7,284.4 283.5,285.7 287.3,287.2 291.1,288.6 295.0,290.1 298.9,291.5 303.0,292.7 307.1,293.9 311.4,294.9 315.7,295.9 M244.4,335.0 246.3,332.0 248.1,329.0 250.0,326.0 251.8,323.2 253.6,320.4 255.4,317.7 257.2,315.0 258.9,312.3 260.5,309.7 261.9,307.0 263.3,304.3 264.6,301.7 265.9,299.1 267.2,296.5 268.6,294.1 270.0,291.7 271.5,289.5 273.0,287.3 274.5,285.2 276.0,283.1 277.5,281.0 278.9,278.9 280.2,276.8 281.5,274.8 282.7,272.7 284.0,270.7 285.2,268.7 286.4,266.8 287.7,264.9 288.9,263.1 290.1,261.3 291.2,259.6 M209.1,251.9 212.1,252.5 215.2,253.1 218.2,253.7 221.3,254.5 224.4,255.3 227.4,256.3 230.4,257.4 233.5,258.6 236.5,260.0 239.5,261.4 242.5,262.8 245.6,264.3 248.7,265.9 251.8,267.4 254.9,268.9 258.2,270.4 261.4,271.9 264.8,273.4 268.2,274.8 271.7,276.2 275.3,277.6 278.9,278.9 282.6,280.3 286.3,281.7 290.1,283.2 293.9,284.7 297.7,286.2 301.7,287.6 305.8,288.9 309.9,290.1 314.2,291.2 318.5,292.1 M251.7,336.7 253.6,333.7 255.4,330.7 257.2,327.8 259.1,325.0 260.9,322.2 262.7,319.5 264.5,316.9 266.2,314.3 267.9,311.7 269.3,309.1 270.7,306.5 272.0,303.9 273.3,301.3 274.6,298.8 276.0,296.4 277.4,294.2 278.9,292.0 280.5,289.8 282.0,287.8 283.5,285.7 284.9,283.7 286.3,281.7 287.6,279.7 288.9,277.7 290.1,275.6 291.3,273.7 292.5,271.8 293.7,269.9 294.9,268.1 296.0,266.3 297.1,264.5 298.2,262.8 M212.7,246.4 215.7,247.0 218.7,247.6 221.7,248.3 224.7,249.1 227.8,249.9 230.8,250.9 233.8,252.1 236.8,253.4 239.7,254.7 242.7,256.2 245.7,257.8 248.7,259.3 251.7,261.0 254.7,262.6 257.8,264.2 261.0,265.8 264.2,267.4 267.5,268.9 270.9,270.4 274.4,271.9 277.9,273.3 281.5,274.8 285.2,276.2 288.9,277.7 292.6,279.2 296.4,280.7 300.3,282.3 304.2,283.8 308.2,285.1 312.4,286.3 316.7,287.4 321.0,288.4 M259.1,338.6 260.9,335.6 262.8,332.6 264.6,329.7 266.4,326.9 268.3,324.2 270.1,321.6 271.9,319.0 273.7,316.5 275.3,314.0 276.8,311.4 278.2,308.8 279.5,306.3 280.8,303.8 282.2,301.3 283.6,299.0 285.0,296.8 286.5,294.6 288.1,292.6 289.6,290.6 291.1,288.6 292.5,286.6 293.9,284.7 295.2,282.7 296.4,280.7 297.6,278.8 298.8,276.8 300.0,275.0 301.1,273.1 302.2,271.3 303.3,269.6 304.3,267.8 305.3,266.1 M216.2,241.0 219.2,241.6 222.1,242.2 225.1,242.9 228.1,243.7 231.1,244.6 234.0,245.6 237.0,246.8 239.9,248.1 242.8,249.6 245.7,251.1 248.7,252.7 251.6,254.4 254.6,256.1 257.6,257.8 260.6,259.5 263.7,261.2 266.9,262.9 270.1,264.5 273.4,266.1 276.9,267.7 280.4,269.2 284.0,270.7 287.6,272.2 291.3,273.7 295.0,275.2 298.8,276.8 302.6,278.5 306.5,280.0 310.6,281.4 314.8,282.7 319.0,283.8 323.4,284.8 M266.5,340.6 268.3,337.5 270.2,334.6 272.0,331.7 273.9,329.0 275.8,326.3 277.6,323.7 279.5,321.2 281.3,318.7 283.0,316.2 284.5,313.7 285.9,311.2 287.2,308.6 288.5,306.2 289.9,303.8 291.3,301.6 292.8,299.4 294.3,297.3 295.9,295.3 297.4,293.4 298.9,291.5 300.3,289.6 301.7,287.6 303.0,285.7 304.2,283.8 305.4,281.9 306.5,280.0 307.7,278.2 308.8,276.4 309.9,274.7 310.9,272.9 311.8,271.1 312.7,269.4 M219.9,235.8 222.8,236.5 225.7,237.1 228.6,237.8 231.6,238.6 234.5,239.5 237.4,240.6 240.3,241.8 243.2,243.2 246.1,244.7 248.9,246.3 251.8,248.0 254.6,249.7 257.5,251.5 260.5,253.3 263.5,255.1 266.5,256.9 269.6,258.7 272.8,260.4 276.1,262.1 279.4,263.7 282.9,265.2 286.4,266.8 290.0,268.3 293.7,269.9 297.4,271.5 301.1,273.1 304.9,274.8 308.8,276.4 312.9,277.9 317.0,279.1 321.3,280.2 325.7,281.2 M274.0,342.5 275.9,339.4 277.8,336.5 279.6,333.6 281.5,330.8 283.5,328.2 285.4,325.6 287.3,323.1 289.2,320.7 290.9,318.2 292.4,315.7 293.8,313.2 295.2,310.7 296.6,308.3 298.0,306.0 299.4,303.8 300.9,301.6 302.5,299.6 304.1,297.7 305.6,295.8 307.1,293.9 308.6,292.0 309.9,290.1 311.2,288.2 312.4,286.3 313.6,284.5 314.8,282.7 315.9,280.9 317.0,279.1 318.0,277.3 319.0,275.6 319.8,273.8 320.7,272.1 M224.2,231.4 227.0,232.0 229.9,232.7 232.7,233.4 235.6,234.2 238.4,235.1 241.3,236.1 244.1,237.4 246.9,238.8 249.7,240.3 252.4,242.0 255.2,243.7 258.0,245.5 260.8,247.3 263.6,249.2 266.5,251.1 269.5,252.9 272.5,254.7 275.6,256.5 278.7,258.3 282.0,259.9 285.4,261.5 288.9,263.1 292.4,264.7 296.0,266.3 299.6,267.9 303.3,269.6 307.0,271.3 310.9,272.9 314.9,274.3 319.0,275.6 323.2,276.7 327.5,277.7" stroke="#141a10" stroke-opacity="0.5" stroke-width="1.0" fill="none"/>
</g>
<path d="M169.0,321.6 170.7,322.0 172.5,322.3 174.2,322.7 176.0,323.1 177.7,323.5 179.5,323.8 181.3,324.2 183.0,324.6 184.8,325.0 186.6,325.3 188.4,325.7 190.2,326.1 192.0,326.5 193.8,326.8 195.6,327.2 197.5,327.5 199.3,327.9 201.1,328.2 203.0,328.5 204.8,328.8 206.7,329.1 208.6,329.4 210.4,329.7 212.3,330.0 214.2,330.3 216.1,330.5 218.0,330.8 220.0,331.1 221.9,331.3 223.8,331.6 225.7,331.8 227.7,332.1 229.6,332.4 231.6,332.7 233.5,333.0 235.5,333.3 237.4,333.6 239.4,334.0 241.4,334.4 243.3,334.8 245.3,335.2 247.3,335.7 249.3,336.1 251.2,336.6 253.2,337.1 255.2,337.6 257.2,338.1 259.2,338.7 261.2,339.2 263.2,339.7 265.2,340.3 267.2,340.8 269.3,341.3 271.3,341.8 273.3,342.3 275.4,342.9 277.5,343.4 279.5,343.9 281.6,344.4 282.7,342.7 283.7,341.0 284.7,339.4 285.8,337.8 286.8,336.2 287.9,334.7 288.9,333.2 290.0,331.7 291.1,330.3 292.1,328.9 293.2,327.5 294.3,326.1 295.4,324.8 296.4,323.5 297.4,322.2 298.4,320.8 299.3,319.5 300.2,318.1 301.0,316.8 301.8,315.4 302.6,314.1 303.4,312.7 304.1,311.4 304.9,310.1 305.7,308.9 306.5,307.6 307.3,306.4 308.1,305.2 308.9,304.1 309.8,303.0 310.6,301.9 311.5,300.9 312.4,299.8 313.3,298.8 314.1,297.8 315.0,296.8 315.8,295.8 316.6,294.8 317.4,293.7 318.1,292.7 318.8,291.7 319.5,290.7 320.2,289.7 320.9,288.7 321.5,287.7 322.2,286.7 322.8,285.7 323.5,284.7 324.1,283.7 324.7,282.8 325.3,281.8 325.9,280.9 326.4,279.9 326.9,278.9 327.4,278.0 327.8,277.0 328.3,276.0 328.7,275.1 329.1,274.1 326.8,273.6 324.5,273.0 322.2,272.5 320.0,271.9 317.8,271.2 315.6,270.5 313.5,269.7 311.4,268.9 309.4,268.0 307.4,267.1 305.4,266.1 303.5,265.2 301.5,264.3 299.6,263.4 297.7,262.5 295.8,261.7 293.9,260.8 292.0,260.0 290.2,259.1 288.4,258.2 286.6,257.4 284.8,256.5 283.1,255.6 281.3,254.6 279.7,253.7 278.0,252.7 276.4,251.7 274.8,250.7 273.2,249.7 271.7,248.7 270.2,247.7 268.6,246.6 267.1,245.6 265.7,244.6 264.2,243.5 262.7,242.5 261.3,241.5 259.8,240.5 258.4,239.5 257.0,238.6 255.5,237.6 254.1,236.7 252.6,235.9 251.2,235.0 249.7,234.2 248.3,233.5 246.8,232.8 245.4,232.2 243.9,231.6 242.4,231.0 240.9,230.5 239.4,230.1 237.9,229.7 236.4,229.3 234.9,228.9 233.4,228.6 231.9,228.2 230.5,227.9 229.0,227.6 227.7,228.6 226.4,229.6 225.1,230.7 223.8,231.8 222.6,232.9 221.4,234.1 220.3,235.4 219.2,236.7 218.2,238.1 217.2,239.5 216.3,240.9 215.3,242.4 214.4,243.9 213.4,245.3 212.5,246.8 211.5,248.3 210.5,249.7 209.5,251.2 208.5,252.7 207.5,254.2 206.5,255.7 205.5,257.2 204.4,258.7 203.4,260.2 202.4,261.8 201.5,263.4 200.5,265.0 199.5,266.6 198.6,268.2 197.7,269.9 196.8,271.5 195.9,273.2 195.0,275.0 194.2,276.7 193.3,278.4 192.5,280.2 191.7,282.0 190.9,283.8 190.1,285.6 189.2,287.4 188.4,289.2 187.5,291.0 186.6,292.8 185.7,294.6 184.7,296.4 183.7,298.2 182.7,300.0 181.6,301.8 180.6,303.5 179.5,305.3 178.4,307.1 177.2,308.9 176.1,310.7 174.9,312.5 173.8,314.3 172.6,316.1 171.4,317.9 170.2,319.8 169.0,321.6Z" stroke="#10140a" stroke-opacity="0.85" stroke-width="0.8" fill="none" stroke-linejoin="round"/>
<path d="M169.0,321.6 171.6,322.2 174.3,322.7 176.9,323.3 179.6,323.9 182.3,324.4 185.0,325.0 187.7,325.6 190.4,326.1 193.1,326.7 195.9,327.2 198.6,327.7 201.4,328.3 204.2,328.7 207.0,329.2 209.9,329.6 212.7,330.1 215.6,330.5 218.5,330.9 221.4,331.3 224.3,331.6 227.2,332.0 230.2,332.4 233.1,332.9 236.1,333.4 239.0,333.9 242.0,334.5 245.0,335.1 248.0,335.8 251.0,336.5 254.0,337.3 257.0,338.1 260.0,338.9 263.0,339.7 266.1,340.5 269.1,341.3 272.2,342.1 275.3,342.8 278.5,343.6 281.6,344.4" stroke="#14110a" stroke-opacity="0.9" stroke-width="0.9" fill="none" stroke-linejoin="round" stroke-linecap="round"/>
<g clip-path="url(#c26)">
<path d="M169.0,321.6 171.6,321.9 174.1,322.1 176.7,322.4 179.3,322.6 182.0,322.8 184.6,323.0 187.3,323.1 190.0,323.2 192.7,323.2 195.4,323.2 198.2,323.2 200.9,323.2 203.7,323.1 206.5,323.1 209.3,323.1 212.2,323.0 215.0,323.0 217.9,323.0 220.8,323.0 223.7,323.1 226.6,323.2 229.6,323.3 232.5,323.5 235.5,323.6 238.5,323.8 241.6,324.1 244.6,324.3 247.7,324.7 250.7,325.1 253.8,325.6 256.9,326.2 260.0,326.8 263.1,327.5 266.2,328.3 269.3,329.1 272.5,329.9 275.6,330.8 278.8,331.7 282.0,332.6 283.6,330.4 285.1,328.3 286.6,326.3 288.2,324.4 289.8,322.5 291.3,320.6 292.8,318.8 294.2,317.0 295.7,315.2 297.1,313.5 298.5,311.8 299.9,310.2 301.3,308.6 302.7,307.0 304.1,305.5 305.5,304.0 306.8,302.6 308.1,301.1 309.3,299.7 310.6,298.3 311.8,296.9 313.1,295.6 314.3,294.3 315.5,293.0 316.7,291.7 317.8,290.5 318.9,289.2 319.9,287.9 320.9,286.6 321.9,285.3 322.9,284.1 323.8,282.8 324.7,281.6 325.6,280.4 326.3,279.1 327.1,277.9 327.8,276.6 328.4,275.3 329.1,274.1 329.1,274.1 325.7,274.7 322.3,275.2 318.9,275.8 315.5,276.2 312.1,276.6 308.7,277.0 305.3,277.5 301.8,277.9 298.4,278.4 295.0,278.9 291.6,279.4 288.2,280.0 284.8,280.5 281.4,281.1 278.0,281.7 274.6,282.2 271.3,282.8 267.9,283.5 264.5,284.1 261.1,284.7 257.7,285.4 254.4,286.1 251.0,286.8 247.6,287.5 244.3,288.2 240.9,289.0 237.6,289.8 234.2,290.7 231.0,291.7 227.7,292.8 224.5,294.0 221.3,295.3 218.1,296.6 214.9,298.0 211.8,299.5 208.7,301.0 205.6,302.5 202.6,304.1 199.5,305.7 196.4,307.2 193.4,308.8 190.3,310.4 187.3,312.0 184.2,313.6 181.2,315.2 178.1,316.8 175.1,318.4 172.0,320.0 169.0,321.6Z" fill="url(#g22)"/>
<path d="M175.3,322.2 177.3,320.0 179.4,317.8 181.4,315.6 183.4,313.5 185.4,311.3 187.3,309.2 189.3,307.1 191.2,305.1 193.2,303.1 195.1,301.1 197.0,299.1 198.9,297.2 200.8,295.3 202.7,293.4 204.5,291.5 206.4,289.7 208.2,287.9 210.1,286.1 211.9,284.4 213.7,282.7 215.5,281.0 217.3,279.3 219.1,277.6 220.9,276.0 222.6,274.4 224.4,272.8 226.1,271.2 227.8,269.6 229.5,268.1 231.2,266.5 232.8,265.0 234.5,263.5 M173.1,317.3 176.2,317.5 179.4,317.8 182.5,318.0 185.7,318.2 188.9,318.4 192.2,318.5 195.5,318.5 198.8,318.5 202.1,318.4 205.5,318.4 208.8,318.3 212.3,318.2 215.7,318.2 219.2,318.1 222.7,318.2 226.2,318.2 229.7,318.3 233.3,318.4 236.9,318.6 240.5,318.8 244.2,319.1 247.9,319.4 251.6,319.8 255.3,320.3 259.1,321.0 262.8,321.7 266.6,322.5 270.4,323.4 274.2,324.4 278.0,325.4 281.9,326.4 285.8,327.5 M181.6,322.8 183.7,320.5 185.7,318.2 187.7,316.0 189.7,313.8 191.7,311.6 193.7,309.4 195.6,307.3 197.5,305.2 199.5,303.2 201.4,301.1 203.2,299.1 205.1,297.2 207.0,295.2 208.9,293.3 210.7,291.4 212.6,289.6 214.4,287.8 216.2,286.0 218.0,284.2 219.8,282.4 221.6,280.7 223.4,279.0 225.1,277.4 226.8,275.7 228.6,274.0 230.3,272.4 231.9,270.8 233.6,269.2 235.2,267.6 236.9,266.0 238.5,264.5 240.0,262.9 M177.1,313.0 180.3,313.3 183.4,313.5 186.5,313.6 189.7,313.8 192.9,313.9 196.2,313.9 199.4,313.9 202.7,313.9 206.1,313.8 209.4,313.7 212.8,313.7 216.2,313.6 219.6,313.5 223.1,313.5 226.6,313.5 230.1,313.6 233.6,313.7 237.2,313.8 240.8,314.0 244.4,314.2 248.1,314.5 251.8,314.8 255.5,315.2 259.2,315.8 262.9,316.4 266.7,317.1 270.4,317.9 274.2,318.8 278.0,319.7 281.8,320.7 285.7,321.7 289.6,322.7 M188.1,323.1 190.2,320.8 192.2,318.5 194.2,316.2 196.2,313.9 198.1,311.7 200.1,309.5 202.0,307.4 203.9,305.2 205.8,303.1 207.7,301.1 209.6,299.1 211.5,297.1 213.3,295.1 215.2,293.2 217.0,291.3 218.8,289.4 220.6,287.6 222.4,285.7 224.2,284.0 226.0,282.2 227.7,280.5 229.5,278.8 231.2,277.1 232.9,275.4 234.6,273.7 236.2,272.1 237.9,270.4 239.5,268.8 241.1,267.2 242.6,265.6 244.2,264.1 245.7,262.5 M181.1,308.9 184.2,309.1 187.3,309.2 190.5,309.3 193.7,309.4 196.9,309.5 200.1,309.5 203.4,309.5 206.6,309.4 210.0,309.4 213.3,309.3 216.7,309.2 220.1,309.1 223.5,309.1 226.9,309.0 230.4,309.0 233.9,309.1 237.4,309.2 241.0,309.4 244.6,309.6 248.2,309.8 251.9,310.1 255.5,310.5 259.2,310.9 262.9,311.4 266.6,312.0 270.4,312.7 274.1,313.5 277.9,314.4 281.7,315.3 285.5,316.2 289.4,317.2 293.2,318.2 M194.7,323.2 196.8,320.8 198.8,318.5 200.8,316.2 202.7,313.9 204.7,311.6 206.6,309.4 208.6,307.3 210.5,305.1 212.3,303.0 214.2,300.9 216.1,298.9 217.9,296.9 219.8,294.9 221.6,293.0 223.4,291.1 225.2,289.2 227.0,287.3 228.8,285.5 230.5,283.7 232.3,282.0 234.0,280.2 235.7,278.5 237.4,276.8 239.1,275.1 240.7,273.5 242.3,271.8 243.9,270.2 245.5,268.5 247.0,266.9 248.5,265.3 250.0,263.7 251.5,262.2 M185.0,304.9 188.1,305.0 191.2,305.1 194.4,305.2 197.5,305.2 200.7,305.2 203.9,305.2 207.2,305.2 210.5,305.1 213.8,305.0 217.1,304.9 220.4,304.8 223.8,304.8 227.2,304.7 230.7,304.7 234.1,304.7 237.6,304.8 241.1,304.9 244.7,305.1 248.2,305.3 251.9,305.6 255.5,305.9 259.1,306.2 262.8,306.6 266.5,307.2 270.2,307.8 273.9,308.5 277.7,309.3 281.4,310.1 285.2,311.0 289.0,311.9 292.9,312.9 296.7,313.9 M201.4,323.2 203.5,320.8 205.5,318.4 207.4,316.0 209.4,313.7 211.4,311.5 213.3,309.3 215.2,307.1 217.1,304.9 219.0,302.8 220.8,300.7 222.7,298.7 224.5,296.7 226.3,294.7 228.1,292.8 229.9,290.9 231.7,289.0 233.5,287.1 235.2,285.3 237.0,283.5 238.7,281.8 240.4,280.1 242.1,278.4 243.7,276.7 245.3,275.0 246.9,273.3 248.5,271.7 250.1,270.0 251.6,268.4 253.1,266.8 254.5,265.2 256.0,263.6 257.4,262.0 M188.9,300.9 192.0,301.0 195.1,301.1 198.2,301.1 201.4,301.1 204.5,301.1 207.7,301.1 211.0,301.0 214.2,300.9 217.5,300.8 220.8,300.7 224.2,300.6 227.5,300.6 230.9,300.5 234.3,300.5 237.8,300.6 241.3,300.7 244.8,300.8 248.3,301.0 251.9,301.2 255.4,301.5 259.1,301.8 262.7,302.2 266.4,302.6 270.0,303.2 273.7,303.8 277.4,304.5 281.2,305.3 284.9,306.1 288.7,307.0 292.5,307.9 296.3,308.9 300.2,309.9 M208.3,323.1 210.3,320.6 212.3,318.2 214.2,315.9 216.2,313.6 218.1,311.3 220.1,309.1 222.0,306.9 223.8,304.8 225.7,302.6 227.5,300.6 229.4,298.5 231.2,296.5 233.0,294.6 234.8,292.7 236.6,290.8 238.3,288.9 240.1,287.1 241.8,285.3 243.5,283.5 245.2,281.8 246.9,280.0 248.5,278.3 250.1,276.7 251.7,275.0 253.3,273.3 254.8,271.7 256.3,270.1 257.8,268.5 259.3,266.8 260.6,265.2 262.0,263.7 263.4,262.1 M192.8,297.1 195.8,297.1 198.9,297.2 202.0,297.2 205.1,297.2 208.3,297.1 211.5,297.1 214.7,297.0 217.9,296.9 221.2,296.8 224.5,296.7 227.8,296.6 231.2,296.5 234.6,296.5 238.0,296.5 241.4,296.6 244.9,296.7 248.4,296.9 251.9,297.1 255.4,297.3 259.0,297.6 262.6,298.0 266.2,298.4 269.9,298.9 273.5,299.4 277.2,300.0 280.9,300.8 284.6,301.5 288.4,302.4 292.1,303.3 295.9,304.2 299.8,305.1 303.6,306.1 M215.2,323.0 217.2,320.5 219.2,318.1 221.1,315.8 223.1,313.5 225.0,311.2 226.9,309.0 228.8,306.8 230.7,304.7 232.5,302.6 234.3,300.5 236.2,298.5 238.0,296.5 239.8,294.6 241.5,292.7 243.3,290.8 245.0,289.0 246.7,287.1 248.4,285.4 250.1,283.6 251.8,281.9 253.5,280.2 255.1,278.5 256.7,276.9 258.2,275.2 259.7,273.6 261.2,271.9 262.7,270.3 264.1,268.7 265.5,267.1 266.9,265.5 268.2,264.0 269.5,262.4 M196.5,293.4 199.6,293.4 202.7,293.4 205.7,293.4 208.9,293.3 212.0,293.3 215.2,293.2 218.4,293.1 221.6,293.0 224.9,292.9 228.1,292.8 231.5,292.7 234.8,292.7 238.2,292.6 241.5,292.7 245.0,292.8 248.4,292.9 251.9,293.1 255.4,293.3 258.9,293.6 262.5,293.9 266.0,294.3 269.6,294.7 273.3,295.2 276.9,295.8 280.6,296.4 284.3,297.2 288.0,297.9 291.7,298.8 295.4,299.7 299.2,300.6 303.0,301.5 306.9,302.5 M222.2,323.1 224.2,320.6 226.2,318.2 228.1,315.9 230.1,313.6 232.0,311.3 233.9,309.1 235.8,306.9 237.6,304.8 239.4,302.7 241.3,300.7 243.1,298.7 244.9,296.7 246.7,294.8 248.4,292.9 250.1,291.0 251.8,289.2 253.5,287.4 255.2,285.7 256.9,283.9 258.5,282.2 260.2,280.6 261.7,278.9 263.3,277.3 264.8,275.6 266.3,274.0 267.7,272.4 269.2,270.8 270.6,269.2 271.9,267.7 273.2,266.1 274.4,264.5 275.7,263.0 M200.3,289.8 203.3,289.7 206.4,289.7 209.5,289.6 212.6,289.6 215.7,289.5 218.8,289.4 222.0,289.3 225.2,289.2 228.5,289.1 231.7,289.0 235.0,288.9 238.3,288.9 241.7,288.9 245.0,289.0 248.4,289.1 251.8,289.2 255.3,289.4 258.8,289.7 262.3,290.0 265.8,290.3 269.4,290.7 273.0,291.2 276.6,291.7 280.2,292.3 283.8,292.9 287.5,293.7 291.2,294.5 294.9,295.3 298.6,296.2 302.4,297.1 306.2,298.0 310.0,299.0 M229.4,323.3 231.4,320.8 233.3,318.4 235.3,316.1 237.2,313.8 239.1,311.6 241.0,309.4 242.9,307.2 244.7,305.1 246.5,303.0 248.3,301.0 250.1,299.0 251.9,297.1 253.6,295.2 255.4,293.3 257.1,291.5 258.8,289.7 260.4,287.9 262.1,286.2 263.7,284.5 265.4,282.8 267.0,281.2 268.5,279.5 270.0,277.9 271.5,276.3 272.9,274.7 274.4,273.1 275.8,271.5 277.1,270.0 278.4,268.4 279.6,266.9 280.8,265.3 282.0,263.8 M204.1,286.3 207.1,286.2 210.1,286.1 213.1,286.1 216.2,286.0 219.3,285.9 222.4,285.7 225.6,285.6 228.8,285.5 232.0,285.4 235.2,285.3 238.5,285.3 241.8,285.3 245.1,285.3 248.4,285.4 251.8,285.5 255.2,285.7 258.6,285.9 262.1,286.2 265.6,286.5 269.1,286.9 272.6,287.3 276.2,287.8 279.8,288.3 283.4,288.9 287.0,289.6 290.6,290.3 294.3,291.1 298.0,292.0 301.7,292.9 305.4,293.8 309.2,294.7 313.0,295.7 M236.6,323.7 238.6,321.2 240.5,318.8 242.5,316.5 244.4,314.2 246.3,312.0 248.2,309.8 250.0,307.7 251.9,305.6 253.6,303.5 255.4,301.5 257.2,299.5 259.0,297.6 260.7,295.8 262.5,293.9 264.2,292.1 265.8,290.3 267.5,288.6 269.1,286.9 270.7,285.2 272.3,283.6 273.9,282.0 275.4,280.4 276.9,278.8 278.3,277.2 279.7,275.6 281.1,274.0 282.4,272.5 283.7,270.9 285.0,269.4 286.2,267.8 287.3,266.3 288.4,264.8 M207.8,282.9 210.7,282.8 213.7,282.7 216.8,282.6 219.8,282.4 222.9,282.3 226.0,282.2 229.1,282.1 232.3,282.0 235.5,281.9 238.7,281.8 241.9,281.7 245.2,281.8 248.5,281.8 251.8,281.9 255.1,282.0 258.5,282.2 261.9,282.5 265.4,282.8 268.8,283.2 272.3,283.6 275.8,284.0 279.3,284.5 282.9,285.1 286.5,285.7 290.1,286.4 293.7,287.2 297.3,288.0 301.0,288.8 304.7,289.7 308.4,290.6 312.2,291.6 315.9,292.5 M244.0,324.3 246.0,321.8 247.9,319.4 249.8,317.1 251.8,314.8 253.7,312.6 255.5,310.5 257.3,308.3 259.1,306.2 260.9,304.2 262.7,302.2 264.5,300.3 266.2,298.4 267.9,296.5 269.6,294.7 271.3,292.9 273.0,291.2 274.6,289.5 276.2,287.8 277.8,286.1 279.3,284.5 280.9,283.0 282.4,281.4 283.8,279.8 285.2,278.2 286.6,276.7 287.9,275.1 289.2,273.6 290.5,272.1 291.7,270.5 292.8,269.0 293.9,267.5 294.9,266.0 M211.4,279.6 214.4,279.4 217.3,279.3 220.3,279.2 223.4,279.0 226.4,278.9 229.5,278.8 232.6,278.6 235.7,278.5 238.9,278.4 242.1,278.4 245.3,278.3 248.5,278.3 251.8,278.4 255.1,278.5 258.4,278.7 261.7,278.9 265.1,279.2 268.5,279.5 271.9,279.9 275.4,280.4 278.9,280.8 282.4,281.4 285.9,282.0 289.5,282.6 293.0,283.3 296.6,284.1 300.2,284.9 303.9,285.7 307.5,286.6 311.2,287.5 314.9,288.5 318.7,289.4 M251.5,325.2 253.4,322.7 255.3,320.3 257.3,318.0 259.2,315.8 261.1,313.6 262.9,311.4 264.7,309.3 266.5,307.2 268.3,305.1 270.0,303.2 271.8,301.3 273.5,299.4 275.2,297.6 276.9,295.8 278.6,294.0 280.2,292.3 281.8,290.6 283.4,288.9 284.9,287.3 286.5,285.7 288.0,284.2 289.5,282.6 290.9,281.0 292.2,279.5 293.5,277.9 294.8,276.4 296.1,274.9 297.3,273.4 298.5,271.9 299.5,270.4 300.6,268.8 301.6,267.3 M215.0,276.3 217.9,276.2 220.9,276.0 223.9,275.8 226.8,275.7 229.9,275.5 232.9,275.4 236.0,275.2 239.1,275.1 242.2,275.0 245.3,275.0 248.5,275.0 251.7,275.0 254.9,275.1 258.2,275.2 261.5,275.4 264.8,275.6 268.1,275.9 271.5,276.3 274.9,276.7 278.3,277.2 281.8,277.7 285.2,278.2 288.7,278.8 292.2,279.5 295.7,280.2 299.3,281.0 302.9,281.8 306.5,282.6 310.1,283.5 313.8,284.4 317.4,285.3 321.2,286.3 M259.0,326.6 260.9,324.1 262.8,321.7 264.7,319.4 266.7,317.1 268.5,314.9 270.4,312.7 272.2,310.6 273.9,308.5 275.7,306.5 277.4,304.5 279.2,302.6 280.9,300.8 282.6,298.9 284.3,297.2 285.9,295.4 287.5,293.7 289.1,292.0 290.6,290.3 292.2,288.7 293.7,287.2 295.2,285.6 296.6,284.1 298.0,282.5 299.3,281.0 300.6,279.4 301.8,277.9 303.1,276.4 304.2,274.9 305.3,273.4 306.4,271.9 307.3,270.4 308.3,268.9 M218.6,273.1 221.5,273.0 224.4,272.8 227.3,272.6 230.3,272.4 233.2,272.2 236.2,272.1 239.3,271.9 242.3,271.8 245.4,271.7 248.5,271.7 251.6,271.6 254.8,271.7 258.0,271.8 261.2,271.9 264.5,272.1 267.7,272.4 271.0,272.7 274.4,273.1 277.7,273.5 281.1,274.0 284.5,274.5 287.9,275.1 291.4,275.7 294.8,276.4 298.3,277.1 301.8,277.9 305.4,278.7 309.0,279.6 312.5,280.5 316.2,281.4 319.8,282.3 323.5,283.2 M266.6,328.4 268.5,325.9 270.4,323.4 272.3,321.0 274.2,318.8 276.1,316.5 277.9,314.4 279.7,312.2 281.4,310.1 283.2,308.1 284.9,306.1 286.7,304.2 288.4,302.4 290.1,300.6 291.7,298.8 293.3,297.0 294.9,295.3 296.4,293.6 298.0,292.0 299.5,290.4 301.0,288.8 302.5,287.3 303.9,285.7 305.2,284.2 306.5,282.6 307.7,281.1 309.0,279.6 310.1,278.1 311.3,276.6 312.3,275.1 313.3,273.5 314.2,272.0 315.1,270.5 M222.1,270.0 225.0,269.8 227.8,269.6 230.7,269.4 233.6,269.2 236.5,269.0 239.5,268.8 242.5,268.7 245.5,268.5 248.5,268.5 251.6,268.4 254.7,268.4 257.8,268.5 261.0,268.6 264.1,268.7 267.3,269.0 270.6,269.2 273.8,269.6 277.1,270.0 280.4,270.4 283.7,270.9 287.1,271.5 290.5,272.1 293.9,272.7 297.3,273.4 300.8,274.1 304.2,274.9 307.7,275.7 311.3,276.6 314.8,277.5 318.4,278.4 322.0,279.3 325.7,280.2 M274.2,330.4 276.1,327.8 278.0,325.4 279.9,323.0 281.8,320.7 283.7,318.4 285.5,316.2 287.3,314.1 289.0,311.9 290.8,309.9 292.5,307.9 294.2,306.0 295.9,304.2 297.6,302.4 299.2,300.6 300.8,298.8 302.4,297.1 303.9,295.4 305.4,293.8 306.9,292.2 308.4,290.6 309.8,289.1 311.2,287.5 312.5,286.0 313.8,284.4 315.0,282.9 316.2,281.4 317.3,279.9 318.4,278.4 319.4,276.8 320.3,275.3 321.2,273.8 322.0,272.3 M225.6,267.0 228.4,266.7 231.2,266.5 234.0,266.3 236.9,266.0 239.7,265.8 242.6,265.6 245.6,265.5 248.5,265.3 251.5,265.2 254.5,265.2 257.6,265.2 260.6,265.2 263.7,265.4 266.9,265.5 270.0,265.8 273.2,266.1 276.4,266.4 279.6,266.9 282.9,267.3 286.2,267.8 289.5,268.4 292.8,269.0 296.2,269.7 299.5,270.4 302.9,271.1 306.4,271.9 309.8,272.7 313.3,273.5 316.8,274.4 320.3,275.3 323.9,276.2 327.5,277.1" stroke="#141a10" stroke-opacity="0.5" stroke-width="1.0" fill="none"/>
</g>
<path d="M169.0,321.6 171.6,321.9 174.1,322.1 176.7,322.4 179.3,322.6 182.0,322.8 184.6,323.0 187.3,323.1 190.0,323.2 192.7,323.2 195.4,323.2 198.2,323.2 200.9,323.2 203.7,323.1 206.5,323.1 209.3,323.1 212.2,323.0 215.0,323.0 217.9,323.0 220.8,323.0 223.7,323.1 226.6,323.2 229.6,323.3 232.5,323.5 235.5,323.6 238.5,323.8 241.6,324.1 244.6,324.3 247.7,324.7 250.7,325.1 253.8,325.6 256.9,326.2 260.0,326.8 263.1,327.5 266.2,328.3 269.3,329.1 272.5,329.9 275.6,330.8 278.8,331.7 282.0,332.6 283.6,330.4 285.1,328.3 286.6,326.3 288.2,324.4 289.8,322.5 291.3,320.6 292.8,318.8 294.2,317.0 295.7,315.2 297.1,313.5 298.5,311.8 299.9,310.2 301.3,308.6 302.7,307.0 304.1,305.5 305.5,304.0 306.8,302.6 308.1,301.1 309.3,299.7 310.6,298.3 311.8,296.9 313.1,295.6 314.3,294.3 315.5,293.0 316.7,291.7 317.8,290.5 318.9,289.2 319.9,287.9 320.9,286.6 321.9,285.3 322.9,284.1 323.8,282.8 324.7,281.6 325.6,280.4 326.3,279.1 327.1,277.9 327.8,276.6 328.4,275.3 329.1,274.1" stroke="#10140a" stroke-opacity="0.85" stroke-width="0.8" fill="none" stroke-linejoin="round"/>
<g clip-path="url(#c27)">
<path d="M169.0,321.6 171.6,321.5 174.2,321.3 176.8,321.2 179.4,321.0 182.1,320.8 184.7,320.6 187.4,320.4 190.1,320.1 192.8,319.8 195.5,319.5 198.2,319.2 201.0,318.9 203.8,318.6 206.6,318.4 209.4,318.1 212.2,317.9 215.1,317.7 218.0,317.4 220.9,317.1 223.8,316.8 226.7,316.5 229.6,316.2 232.6,316.0 235.6,315.9 238.6,315.8 241.7,315.9 244.8,316.1 247.8,316.3 250.9,316.7 254.0,317.2 257.1,317.8 260.2,318.4 263.4,319.1 266.5,319.9 269.6,320.6 272.8,321.4 276.0,322.3 279.2,323.1 282.4,324.0 283.9,322.1 285.3,320.2 286.8,318.4 288.2,316.5 289.6,314.8 291.0,313.1 292.5,311.6 294.0,310.2 295.6,308.8 297.1,307.4 298.7,306.1 300.1,304.8 301.5,303.5 302.9,302.1 304.1,300.8 305.4,299.4 306.6,298.1 307.9,296.9 309.2,295.7 310.5,294.6 311.9,293.6 313.2,292.6 314.5,291.6 315.8,290.6 316.9,289.6 318.0,288.5 319.0,287.3 320.0,286.2 321.0,285.0 321.9,283.9 322.9,282.9 323.8,281.8 324.7,280.7 325.5,279.6 326.3,278.5 327.0,277.4 327.7,276.3 328.4,275.2 329.1,274.1 329.1,274.1 325.7,274.7 322.3,275.2 318.9,275.8 315.5,276.2 312.1,276.6 308.7,277.0 305.3,277.5 301.8,277.9 298.4,278.4 295.0,278.9 291.6,279.4 288.2,280.0 284.8,280.5 281.4,281.1 278.0,281.7 274.6,282.2 271.3,282.8 267.9,283.5 264.5,284.1 261.1,284.7 257.7,285.4 254.4,286.1 251.0,286.8 247.6,287.5 244.3,288.2 240.9,289.0 237.6,289.8 234.2,290.7 231.0,291.7 227.7,292.8 224.5,294.0 221.3,295.3 218.1,296.6 214.9,298.0 211.8,299.5 208.7,301.0 205.6,302.5 202.6,304.1 199.5,305.7 196.4,307.2 193.4,308.8 190.3,310.4 187.3,312.0 184.2,313.6 181.2,315.2 178.1,316.8 175.1,318.4 172.0,320.0 169.0,321.6Z" fill="url(#g23)"/>
<path d="M175.3,321.3 177.4,319.0 179.4,316.7 181.4,314.5 183.4,312.3 185.4,310.1 187.3,308.0 189.3,305.9 191.2,303.8 193.2,301.8 195.1,299.7 197.0,297.7 198.9,295.8 200.8,293.8 202.7,291.9 204.5,290.0 206.4,288.2 208.2,286.3 210.1,284.5 211.9,282.8 213.8,281.0 215.6,279.3 217.4,277.6 219.1,275.9 220.9,274.2 222.7,272.6 224.4,270.9 226.1,269.3 227.8,267.7 229.5,266.1 231.2,264.5 232.9,263.0 234.5,261.4 M173.1,317.1 176.2,316.9 179.4,316.7 182.6,316.5 185.8,316.3 189.0,316.0 192.3,315.7 195.5,315.3 198.8,314.9 202.1,314.5 205.5,314.2 208.9,313.9 212.3,313.6 215.7,313.3 219.2,313.0 222.7,312.7 226.2,312.4 229.7,312.0 233.3,311.7 236.9,311.5 240.6,311.4 244.2,311.4 247.9,311.6 251.7,312.0 255.4,312.4 259.2,313.0 262.9,313.8 266.7,314.6 270.5,315.5 274.3,316.4 278.2,317.4 282.1,318.4 286.0,319.4 M181.7,320.9 183.8,318.6 185.8,316.3 187.8,314.0 189.8,311.8 191.7,309.6 193.7,307.4 195.6,305.3 197.6,303.2 199.5,301.2 201.4,299.2 203.3,297.2 205.2,295.2 207.0,293.2 208.9,291.3 210.7,289.4 212.6,287.6 214.4,285.7 216.2,284.0 218.1,282.2 219.9,280.5 221.7,278.8 223.4,277.1 225.2,275.4 226.9,273.7 228.6,272.0 230.3,270.4 232.0,268.8 233.6,267.2 235.3,265.6 236.9,264.0 238.5,262.4 240.1,260.9 M177.1,312.8 180.3,312.5 183.4,312.3 186.6,312.1 189.8,311.8 193.0,311.5 196.2,311.1 199.4,310.8 202.7,310.4 206.0,310.0 209.4,309.6 212.7,309.3 216.1,309.0 219.5,308.8 223.0,308.5 226.5,308.2 229.9,307.9 233.5,307.6 237.0,307.4 240.6,307.2 244.2,307.1 247.9,307.2 251.6,307.4 255.3,307.7 259.0,308.2 262.7,308.8 266.5,309.5 270.2,310.3 274.0,311.2 277.8,312.1 281.6,313.0 285.5,314.0 289.4,315.0 M188.2,320.3 190.3,318.0 192.3,315.7 194.2,313.4 196.2,311.1 198.1,308.9 200.1,306.8 202.0,304.6 204.0,302.6 205.9,300.5 207.8,298.5 209.7,296.5 211.5,294.6 213.4,292.6 215.2,290.7 217.0,288.8 218.8,287.0 220.7,285.1 222.5,283.4 224.3,281.6 226.1,279.9 227.8,278.2 229.6,276.6 231.3,274.9 233.0,273.2 234.6,271.5 236.3,269.9 237.9,268.3 239.6,266.7 241.1,265.1 242.7,263.5 244.3,262.0 245.8,260.4 M181.1,308.5 184.2,308.3 187.3,308.0 190.5,307.7 193.7,307.4 196.9,307.1 200.1,306.8 203.3,306.4 206.6,306.0 209.9,305.6 213.2,305.3 216.6,305.0 219.9,304.7 223.3,304.5 226.8,304.2 230.2,304.0 233.7,303.7 237.2,303.5 240.8,303.3 244.3,303.2 248.0,303.1 251.6,303.2 255.3,303.5 259.0,303.8 262.7,304.3 266.4,305.0 270.1,305.7 273.9,306.5 277.6,307.3 281.4,308.2 285.3,309.2 289.1,310.2 293.0,311.1 M194.8,319.6 196.8,317.2 198.8,314.9 200.8,312.6 202.7,310.4 204.7,308.2 206.6,306.0 208.5,303.9 210.5,301.8 212.4,299.8 214.3,297.8 216.2,295.8 218.0,293.9 219.8,292.0 221.6,290.1 223.4,288.2 225.2,286.3 227.0,284.6 228.8,282.8 230.6,281.1 232.4,279.4 234.1,277.8 235.8,276.1 237.5,274.4 239.1,272.8 240.8,271.1 242.4,269.5 244.0,267.9 245.6,266.3 247.1,264.8 248.6,263.2 250.1,261.6 251.6,260.1 M185.0,304.3 188.1,304.1 191.2,303.8 194.4,303.5 197.6,303.2 200.7,302.9 204.0,302.6 207.2,302.2 210.5,301.8 213.7,301.5 217.1,301.2 220.4,300.9 223.8,300.7 227.2,300.4 230.6,300.2 234.1,300.1 237.5,299.9 241.1,299.7 244.6,299.5 248.2,299.5 251.8,299.5 255.4,299.7 259.1,299.9 262.8,300.3 266.5,300.9 270.2,301.5 273.9,302.2 277.7,303.1 281.4,303.9 285.2,304.9 289.0,305.8 292.9,306.8 296.8,307.8 M201.5,318.8 203.5,316.5 205.5,314.2 207.4,311.9 209.4,309.6 211.3,307.4 213.2,305.3 215.1,303.2 217.1,301.2 219.0,299.2 220.9,297.2 222.7,295.3 224.6,293.3 226.4,291.4 228.2,289.5 229.9,287.7 231.7,285.9 233.5,284.1 235.3,282.4 237.0,280.7 238.8,279.1 240.5,277.5 242.2,275.8 243.8,274.2 245.4,272.5 247.0,270.9 248.6,269.3 250.2,267.7 251.7,266.2 253.2,264.6 254.6,263.0 256.1,261.5 257.5,260.0 M188.9,300.3 192.0,300.0 195.1,299.7 198.2,299.5 201.4,299.2 204.6,298.9 207.8,298.5 211.0,298.2 214.3,297.8 217.6,297.5 220.9,297.2 224.2,297.0 227.6,296.8 231.0,296.6 234.4,296.4 237.8,296.3 241.3,296.2 244.8,296.0 248.4,296.0 251.9,296.0 255.5,296.0 259.1,296.3 262.8,296.6 266.5,297.0 270.2,297.6 273.9,298.2 277.6,299.0 281.3,299.8 285.1,300.7 288.9,301.6 292.7,302.6 296.5,303.6 300.4,304.6 M208.3,318.2 210.3,315.9 212.3,313.6 214.2,311.3 216.1,309.0 218.0,306.8 219.9,304.7 221.9,302.7 223.8,300.7 225.7,298.7 227.6,296.8 229.4,294.8 231.2,292.9 233.0,291.0 234.8,289.2 236.5,287.3 238.3,285.6 240.0,283.8 241.8,282.2 243.6,280.6 245.3,279.0 247.0,277.4 248.7,275.7 250.3,274.1 251.8,272.5 253.4,270.9 254.9,269.3 256.4,267.8 257.9,266.2 259.3,264.7 260.8,263.2 262.1,261.6 263.5,260.1 M192.7,296.3 195.8,296.0 198.9,295.8 202.0,295.5 205.2,295.2 208.4,294.9 211.5,294.6 214.8,294.2 218.0,293.9 221.3,293.6 224.6,293.3 227.9,293.1 231.2,292.9 234.6,292.8 238.0,292.7 241.5,292.6 244.9,292.5 248.4,292.4 251.9,292.4 255.5,292.5 259.1,292.6 262.7,292.9 266.3,293.2 269.9,293.7 273.6,294.3 277.3,294.9 281.0,295.7 284.7,296.5 288.5,297.4 292.2,298.3 296.0,299.3 299.8,300.3 303.7,301.3 M215.3,317.6 217.2,315.3 219.2,313.0 221.1,310.7 223.0,308.5 224.9,306.3 226.8,304.2 228.7,302.2 230.6,300.2 232.5,298.3 234.4,296.4 236.2,294.5 238.0,292.7 239.8,290.8 241.5,289.0 243.3,287.2 245.0,285.4 246.7,283.8 248.5,282.2 250.2,280.6 252.0,279.0 253.6,277.5 255.2,275.9 256.8,274.3 258.3,272.7 259.8,271.1 261.3,269.6 262.8,268.1 264.2,266.6 265.6,265.1 267.0,263.5 268.3,262.0 269.6,260.6 M196.5,292.5 199.6,292.2 202.7,291.9 205.8,291.6 208.9,291.3 212.0,291.0 215.2,290.7 218.4,290.4 221.6,290.1 224.9,289.8 228.2,289.5 231.5,289.3 234.8,289.2 238.1,289.1 241.5,289.0 244.9,288.9 248.4,288.9 251.8,288.9 255.3,288.9 258.9,289.0 262.4,289.2 266.0,289.5 269.6,289.9 273.2,290.4 276.9,291.0 280.5,291.7 284.2,292.5 287.9,293.3 291.6,294.2 295.3,295.1 299.1,296.1 302.9,297.0 306.7,298.0 M222.3,317.0 224.3,314.7 226.2,312.4 228.1,310.1 229.9,307.9 231.8,305.8 233.7,303.7 235.6,301.8 237.5,299.9 239.5,298.0 241.3,296.2 243.2,294.3 244.9,292.5 246.7,290.7 248.4,288.9 250.1,287.1 251.8,285.5 253.5,283.8 255.3,282.3 257.0,280.8 258.7,279.3 260.3,277.8 261.9,276.2 263.4,274.7 264.9,273.1 266.4,271.6 267.9,270.1 269.3,268.6 270.7,267.1 272.0,265.7 273.3,264.2 274.6,262.7 275.8,261.3 M200.3,288.7 203.3,288.4 206.4,288.2 209.5,287.9 212.6,287.6 215.7,287.3 218.8,287.0 222.0,286.6 225.2,286.3 228.4,286.1 231.7,285.9 235.0,285.7 238.3,285.6 241.6,285.5 245.0,285.4 248.4,285.4 251.8,285.5 255.2,285.5 258.7,285.6 262.2,285.8 265.7,286.0 269.3,286.3 272.9,286.8 276.5,287.3 280.1,288.0 283.7,288.7 287.4,289.5 291.1,290.3 294.8,291.2 298.5,292.2 302.2,293.1 306.0,294.1 309.8,295.1 M229.5,316.3 231.4,314.0 233.3,311.7 235.2,309.5 237.0,307.4 238.9,305.3 240.8,303.3 242.7,301.4 244.6,299.5 246.5,297.7 248.4,296.0 250.2,294.2 251.9,292.4 253.6,290.6 255.3,288.9 257.0,287.2 258.7,285.6 260.4,284.0 262.2,282.6 263.9,281.1 265.6,279.7 267.2,278.2 268.7,276.7 270.2,275.2 271.6,273.7 273.1,272.3 274.5,270.8 275.9,269.4 277.2,267.9 278.5,266.5 279.7,265.1 281.0,263.6 282.2,262.2 M204.0,285.1 207.0,284.8 210.1,284.5 213.1,284.3 216.2,284.0 219.3,283.7 222.5,283.4 225.6,283.1 228.8,282.8 232.0,282.6 235.3,282.4 238.5,282.3 241.8,282.2 245.1,282.2 248.5,282.2 251.9,282.2 255.3,282.3 258.7,282.4 262.2,282.6 265.6,282.8 269.2,283.1 272.7,283.5 276.3,284.0 279.9,284.6 283.5,285.3 287.1,286.0 290.7,286.8 294.4,287.7 298.1,288.7 301.8,289.6 305.5,290.6 309.3,291.6 313.1,292.7 M236.8,315.9 238.7,313.6 240.6,311.4 242.4,309.2 244.2,307.1 246.1,305.1 248.0,303.1 249.9,301.3 251.8,299.5 253.7,297.8 255.5,296.0 257.3,294.3 259.1,292.6 260.7,290.9 262.4,289.2 264.1,287.6 265.7,286.0 267.4,284.5 269.2,283.1 270.9,281.7 272.5,280.4 274.1,279.0 275.6,277.5 277.0,276.0 278.4,274.6 279.8,273.2 281.2,271.8 282.6,270.4 283.8,269.0 285.1,267.6 286.3,266.2 287.4,264.8 288.6,263.4 M207.7,281.6 210.7,281.3 213.8,281.0 216.8,280.8 219.9,280.5 223.0,280.2 226.1,279.9 229.2,279.7 232.4,279.4 235.6,279.2 238.8,279.1 242.0,279.0 245.3,279.0 248.6,279.0 252.0,279.0 255.3,279.1 258.7,279.3 262.1,279.5 265.6,279.7 269.0,280.0 272.5,280.4 276.0,280.8 279.6,281.4 283.1,282.0 286.7,282.7 290.3,283.5 294.0,284.3 297.6,285.2 301.3,286.2 305.0,287.2 308.7,288.2 312.4,289.2 316.2,290.3 M244.2,316.0 246.1,313.8 247.9,311.6 249.8,309.5 251.6,307.4 253.4,305.4 255.3,303.5 257.2,301.7 259.1,299.9 261.0,298.3 262.8,296.6 264.6,294.9 266.3,293.2 268.0,291.5 269.6,289.9 271.2,288.3 272.9,286.8 274.6,285.4 276.3,284.0 277.9,282.7 279.6,281.4 281.1,280.0 282.6,278.6 284.0,277.2 285.3,275.7 286.7,274.4 288.0,273.0 289.3,271.6 290.6,270.3 291.8,268.9 292.9,267.5 294.0,266.2 295.1,264.8 M211.4,278.1 214.4,277.9 217.4,277.6 220.4,277.3 223.4,277.1 226.5,276.8 229.6,276.6 232.7,276.3 235.8,276.1 239.0,275.9 242.2,275.8 245.4,275.7 248.7,275.7 251.9,275.8 255.2,275.9 258.6,276.0 261.9,276.2 265.3,276.5 268.7,276.7 272.1,277.1 275.6,277.5 279.1,278.0 282.6,278.6 286.1,279.3 289.7,280.0 293.2,280.8 296.8,281.6 300.4,282.5 304.0,283.5 307.7,284.5 311.4,285.5 315.1,286.5 318.8,287.5 M251.7,316.8 253.6,314.6 255.4,312.4 257.2,310.3 259.0,308.2 260.8,306.2 262.7,304.3 264.6,302.6 266.5,300.9 268.3,299.2 270.2,297.6 271.9,295.9 273.6,294.3 275.2,292.6 276.9,291.0 278.5,289.4 280.1,288.0 281.8,286.6 283.5,285.3 285.1,284.0 286.7,282.7 288.2,281.4 289.7,280.0 291.0,278.6 292.3,277.2 293.6,275.8 294.9,274.5 296.2,273.1 297.4,271.8 298.5,270.5 299.6,269.1 300.7,267.8 301.7,266.4 M215.0,274.8 218.0,274.5 220.9,274.2 223.9,274.0 226.9,273.7 229.9,273.4 233.0,273.2 236.0,273.0 239.1,272.8 242.3,272.6 245.4,272.5 248.6,272.5 251.8,272.5 255.1,272.6 258.3,272.7 261.6,272.9 264.9,273.1 268.3,273.4 271.6,273.7 275.0,274.1 278.4,274.6 281.9,275.1 285.3,275.7 288.8,276.4 292.3,277.2 295.9,278.0 299.4,278.8 303.0,279.8 306.6,280.7 310.2,281.7 313.8,282.7 317.5,283.7 321.2,284.8 M259.3,318.2 261.1,316.0 262.9,313.8 264.7,311.6 266.5,309.5 268.3,307.5 270.1,305.7 272.0,303.9 273.9,302.2 275.8,300.6 277.6,299.0 279.3,297.4 281.0,295.7 282.6,294.1 284.2,292.5 285.8,290.9 287.4,289.5 289.1,288.1 290.7,286.8 292.4,285.6 294.0,284.3 295.4,283.0 296.8,281.6 298.1,280.2 299.4,278.8 300.7,277.5 301.9,276.2 303.1,274.9 304.3,273.5 305.4,272.2 306.4,270.8 307.4,269.5 308.4,268.2 M218.6,271.5 221.5,271.2 224.4,270.9 227.3,270.7 230.3,270.4 233.3,270.1 236.3,269.9 239.3,269.7 242.4,269.5 245.5,269.4 248.6,269.3 251.7,269.3 254.9,269.3 258.1,269.4 261.3,269.6 264.6,269.8 267.9,270.1 271.2,270.4 274.5,270.8 277.8,271.3 281.2,271.8 284.6,272.3 288.0,273.0 291.5,273.7 294.9,274.5 298.4,275.3 301.9,276.2 305.5,277.1 309.0,278.0 312.6,279.0 316.2,280.0 319.8,281.1 323.5,282.1 M266.9,320.0 268.7,317.7 270.5,315.5 272.3,313.3 274.0,311.2 275.8,309.2 277.6,307.3 279.5,305.6 281.4,303.9 283.3,302.3 285.1,300.7 286.8,299.1 288.5,297.4 290.0,295.8 291.6,294.2 293.2,292.6 294.8,291.2 296.4,289.9 298.1,288.7 299.7,287.4 301.3,286.2 302.7,284.9 304.0,283.5 305.3,282.1 306.6,280.7 307.8,279.4 309.0,278.0 310.2,276.7 311.3,275.4 312.3,274.1 313.3,272.7 314.3,271.4 315.2,270.1 M222.1,268.3 225.0,268.0 227.8,267.7 230.7,267.4 233.6,267.2 236.6,266.9 239.6,266.7 242.5,266.5 245.6,266.3 248.6,266.2 251.7,266.2 254.8,266.2 257.9,266.2 261.1,266.4 264.2,266.6 267.4,266.8 270.7,267.1 273.9,267.5 277.2,267.9 280.5,268.4 283.8,269.0 287.2,269.6 290.6,270.3 294.0,271.0 297.4,271.8 300.8,272.6 304.3,273.5 307.8,274.5 311.3,275.4 314.8,276.4 318.4,277.4 322.0,278.4 325.6,279.5 M274.6,321.9 276.4,319.6 278.2,317.4 279.9,315.2 281.6,313.0 283.4,311.0 285.3,309.2 287.1,307.4 289.0,305.8 290.9,304.2 292.7,302.6 294.4,300.9 296.0,299.3 297.6,297.6 299.1,296.1 300.7,294.5 302.2,293.1 303.9,291.8 305.5,290.6 307.2,289.4 308.7,288.2 310.1,286.9 311.4,285.5 312.6,284.1 313.8,282.7 315.0,281.3 316.2,280.0 317.3,278.7 318.4,277.4 319.4,276.1 320.3,274.7 321.2,273.4 322.1,272.0 M225.6,265.1 228.4,264.8 231.2,264.5 234.0,264.3 236.9,264.0 239.8,263.8 242.7,263.5 245.6,263.3 248.6,263.2 251.6,263.1 254.6,263.0 257.7,263.1 260.8,263.2 263.9,263.3 267.0,263.5 270.1,263.8 273.3,264.2 276.5,264.6 279.7,265.1 283.0,265.6 286.3,266.2 289.6,266.8 292.9,267.5 296.3,268.3 299.6,269.1 303.0,270.0 306.4,270.8 309.8,271.8 313.3,272.7 316.8,273.7 320.3,274.7 323.9,275.7 327.4,276.8" stroke="#141a10" stroke-opacity="0.5" stroke-width="1.0" fill="none"/>
</g>
<path d="M169.0,321.6 171.6,321.5 174.2,321.3 176.8,321.2 179.4,321.0 182.1,320.8 184.7,320.6 187.4,320.4 190.1,320.1 192.8,319.8 195.5,319.5 198.2,319.2 201.0,318.9 203.8,318.6 206.6,318.4 209.4,318.1 212.2,317.9 215.1,317.7 218.0,317.4 220.9,317.1 223.8,316.8 226.7,316.5 229.6,316.2 232.6,316.0 235.6,315.9 238.6,315.8 241.7,315.9 244.8,316.1 247.8,316.3 250.9,316.7 254.0,317.2 257.1,317.8 260.2,318.4 263.4,319.1 266.5,319.9 269.6,320.6 272.8,321.4 276.0,322.3 279.2,323.1 282.4,324.0 283.9,322.1 285.3,320.2 286.8,318.4 288.2,316.5 289.6,314.8 291.0,313.1 292.5,311.6 294.0,310.2 295.6,308.8 297.1,307.4 298.7,306.1 300.1,304.8 301.5,303.5 302.9,302.1 304.1,300.8 305.4,299.4 306.6,298.1 307.9,296.9 309.2,295.7 310.5,294.6 311.9,293.6 313.2,292.6 314.5,291.6 315.8,290.6 316.9,289.6 318.0,288.5 319.0,287.3 320.0,286.2 321.0,285.0 321.9,283.9 322.9,282.9 323.8,281.8 324.7,280.7 325.5,279.6 326.3,278.5 327.0,277.4 327.7,276.3 328.4,275.2 329.1,274.1" stroke="#10140a" stroke-opacity="0.85" stroke-width="0.8" fill="none" stroke-linejoin="round"/>
<path d="M169.0,321.6 172.0,320.0 175.1,318.4 178.1,316.8 181.2,315.2 184.2,313.6 187.3,312.0 190.3,310.4 193.4,308.8 196.4,307.2 199.5,305.7 202.6,304.1 205.6,302.5 208.7,301.0 211.8,299.5 214.9,298.0 218.1,296.6 221.3,295.3 224.5,294.0 227.7,292.8 231.0,291.7 234.2,290.7 237.6,289.8 240.9,289.0 244.3,288.2 247.6,287.5 251.0,286.8 254.4,286.1 257.7,285.4 261.1,284.7 264.5,284.1 267.9,283.5 271.3,282.8 274.6,282.2 278.0,281.7 281.4,281.1 284.8,280.5 288.2,280.0 291.6,279.4 295.0,278.9 298.4,278.4 301.8,277.9 305.3,277.5 308.7,277.0 312.1,276.6 315.5,276.2 318.9,275.8 322.3,275.2 325.7,274.7 329.1,274.1" stroke="#3a3010" stroke-width="0.5" fill="none" stroke-opacity="0.45"/>
<path d="M158.6,282.0 228.4,226.2" stroke="#444" stroke-width="0.8" fill="none"/>
<path d="M163.3,278.3 163.6,279.2 M169.0,273.7 169.3,274.7 M174.5,269.3 175.1,271.2 M179.8,265.1 180.1,266.0 M184.9,261.0 185.2,261.9 M189.9,257.0 190.2,257.9 M194.7,253.1 195.4,255.0 M199.4,249.4 199.7,250.4 M203.9,245.8 204.2,246.7 M208.3,242.3 208.6,243.2 M212.5,238.9 213.2,240.8 M216.7,235.6 217.0,236.5 M220.7,232.4 221.0,233.3 M224.6,229.2 224.9,230.2 M228.4,226.2 229.1,228.1" stroke="#444" stroke-width="0.6" fill="none"/>
<path d="M165.0,322.0 280.6,368.8" stroke="#444" stroke-width="0.8" fill="none"/>
<path d="M170.2,324.1 170.5,323.1 M176.8,326.8 177.1,325.8 M183.6,329.5 184.2,327.6 M190.6,332.4 190.9,331.4 M197.7,335.3 198.0,334.3 M205.1,338.2 205.4,337.3 M212.6,341.3 213.2,339.3 M220.3,344.4 220.6,343.4 M228.2,347.6 228.5,346.6 M236.4,350.9 236.6,349.9 M244.7,354.3 245.3,352.4 M253.3,357.8 253.6,356.8 M262.2,361.3 262.4,360.4 M271.2,365.0 271.5,364.1 M280.6,368.8 281.2,366.9" stroke="#444" stroke-width="0.6" fill="none"/>
<path d="M158.6,282.0 165.0,322.0" stroke="#777" stroke-width="0.8" fill="none"/>
<path d="M164.9,321.5 165.9,321.6 M164.5,318.8 165.5,318.9 M164.1,316.2 166.0,316.5 M163.7,313.6 164.6,313.8 M163.3,311.1 164.2,311.3 M162.9,308.6 163.9,308.8 M162.5,306.2 164.5,306.5 M162.1,303.9 163.1,304.0 M161.7,301.5 162.7,301.7 M161.4,299.2 162.3,299.4 M161.0,297.0 163.0,297.3 M160.6,294.8 161.6,294.9 M160.3,292.6 161.3,292.8 M160.0,290.5 161.0,290.7 M159.6,288.4 161.6,288.7 M159.3,286.4 160.3,286.5 M159.0,284.4 160.0,284.5 M158.7,282.4 159.7,282.5" stroke="#777" stroke-width="0.6" fill="none"/>
<rect x="352.5" y="268.15" width="6.7" height="6.7" fill="url(#g28)"/>
<rect x="352.5" y="283.50" width="6.7" height="6.7" fill="url(#g29)"/>
<rect x="352.5" y="298.85" width="6.7" height="6.7" fill="url(#g30)"/></g><text x="92.4" y="9" font-size="6.2" text-anchor="middle" font-weight="bold" fill="#000" stroke="#000" stroke-width="0.3" >0.8</text>
<text x="75.6" y="22" font-size="6.2" text-anchor="middle" font-weight="bold" fill="#000" stroke="#000" stroke-width="0.3" >0.6</text>
<text x="56" y="37.6" font-size="6.2" text-anchor="middle" font-weight="bold" fill="#000" stroke="#000" stroke-width="0.3" >0.4</text>
<text x="34.4" y="54.4" font-size="6.2" text-anchor="middle" font-weight="bold" fill="#000" stroke="#000" stroke-width="0.3" >0.2</text>
<text x="59" y="24" font-size="7" text-anchor="middle" font-weight="bold" fill="#000" stroke="#000" stroke-width="0.3" >r<tspan font-size="5.2" dy="1.2">k</tspan></text>
<text x="16.8" y="70.2" font-size="6.2" text-anchor="middle" font-weight="bold" fill="#000" stroke="#000" stroke-width="0.3" >1.5</text>
<text x="19.2" y="85.2" font-size="6.2" text-anchor="middle" font-weight="bold" fill="#000" stroke="#000" stroke-width="0.3" >1.0</text>
<text x="21.6" y="99.6" font-size="6.2" text-anchor="middle" font-weight="bold" fill="#000" stroke="#000" stroke-width="0.3" >0.5</text>
<text x="39" y="123.2" font-size="6.2" text-anchor="middle" font-weight="bold" fill="#000" stroke="#000" stroke-width="0.3" >0.2</text>
<text x="70.6" y="135.2" font-size="6.2" text-anchor="middle" font-weight="bold" fill="#000" stroke="#000" stroke-width="0.3" >0.4</text>
<text x="104.4" y="148.2" font-size="6.2" text-anchor="middle" font-weight="bold" fill="#000" stroke="#000" stroke-width="0.3" >0.6</text>
<text x="139.6" y="161.6" font-size="6.2" text-anchor="middle" font-weight="bold" fill="#000" stroke="#000" stroke-width="0.3" >0.8</text>
<text x="72.5" y="148" font-size="7" text-anchor="middle" font-weight="bold" fill="#000" stroke="#000" stroke-width="0.3" >r<tspan font-size="5.2" dy="1.2">j</tspan></text>
<text transform="translate(9.2,92.4) rotate(-90)" font-size="7" font-weight="bold" fill="#000" stroke="#000" stroke-width="0.25">S<tspan font-size="5" dy="0.2">AB|CjCkI</tspan></text>
<text x="135" y="180.5" font-size="9" text-anchor="middle" font-weight="bold" font-family="Liberation Serif, serif">(a)</text>
<text x="224.90" y="59.85" font-size="6.4" font-weight="bold" fill="#000" stroke="#000" stroke-width="0.3">ω</text>
<text x="230.20" y="61.15" font-size="4.8" font-style="italic" font-weight="bold" fill="#000" stroke="#000" stroke-width="0.3">j</text>
<text x="232.30" y="59.85" font-size="6.4" font-weight="bold" fill="#000" stroke="#000" stroke-width="0.3">=</text>
<text x="238.50" y="56.75" font-size="5.5" text-anchor="middle" font-weight="bold" fill="#000" stroke="#000" stroke-width="0.3">1</text>
<line x1="236.80" y1="57.75" x2="240.20" y2="57.75" stroke="#000" stroke-width="0.85"/>
<text x="238.50" y="64.10" font-size="5.5" text-anchor="middle" font-weight="bold" fill="#000" stroke="#000" stroke-width="0.3">2</text>
<text x="240.50" y="59.85" font-size="6.4" font-weight="bold" fill="#000" stroke="#000" stroke-width="0.3">,</text>
<text x="242.20" y="59.85" font-size="6.4" font-weight="bold" fill="#000" stroke="#000" stroke-width="0.3">ω</text>
<text x="247.50" y="61.15" font-size="4.8" font-style="italic" font-weight="bold" fill="#000" stroke="#000" stroke-width="0.3">k</text>
<text x="250.80" y="59.85" font-size="6.4" font-weight="bold" fill="#000" stroke="#000" stroke-width="0.3">=</text>
<text x="256.80" y="56.75" font-size="6.2" font-weight="bold" fill="#000" stroke="#000" stroke-width="0.3">√</text>
<text x="260.90" y="56.75" font-size="5.5" font-weight="bold" fill="#000" stroke="#000" stroke-width="0.3">2</text>
<line x1="259.80" y1="52.30" x2="265.40" y2="52.30" stroke="#000" stroke-width="0.75"/>
<line x1="256.90" y1="57.75" x2="266.10" y2="57.75" stroke="#000" stroke-width="0.85"/>
<text x="261.50" y="64.10" font-size="5.5" text-anchor="middle" font-weight="bold" fill="#000" stroke="#000" stroke-width="0.3">2</text>
<text x="224.90" y="75.20" font-size="6.4" font-weight="bold" fill="#000" stroke="#000" stroke-width="0.3">ω</text>
<text x="230.20" y="76.50" font-size="4.8" font-style="italic" font-weight="bold" fill="#000" stroke="#000" stroke-width="0.3">j</text>
<text x="232.30" y="75.20" font-size="6.4" font-weight="bold" fill="#000" stroke="#000" stroke-width="0.3">=</text>
<text x="237.80" y="72.10" font-size="6.2" font-weight="bold" fill="#000" stroke="#000" stroke-width="0.3">√</text>
<text x="241.90" y="72.10" font-size="5.5" font-weight="bold" fill="#000" stroke="#000" stroke-width="0.3">2</text>
<line x1="240.80" y1="67.65" x2="246.40" y2="67.65" stroke="#000" stroke-width="0.75"/>
<line x1="237.90" y1="73.10" x2="247.10" y2="73.10" stroke="#000" stroke-width="0.85"/>
<text x="242.50" y="79.45" font-size="5.5" text-anchor="middle" font-weight="bold" fill="#000" stroke="#000" stroke-width="0.3">2</text>
<text x="247.80" y="75.20" font-size="6.4" font-weight="bold" fill="#000" stroke="#000" stroke-width="0.3">,</text>
<text x="249.50" y="75.20" font-size="6.4" font-weight="bold" fill="#000" stroke="#000" stroke-width="0.3">ω</text>
<text x="254.80" y="76.50" font-size="4.8" font-style="italic" font-weight="bold" fill="#000" stroke="#000" stroke-width="0.3">k</text>
<text x="258.10" y="75.20" font-size="6.4" font-weight="bold" fill="#000" stroke="#000" stroke-width="0.3">=</text>
<text x="264.10" y="72.10" font-size="6.2" font-weight="bold" fill="#000" stroke="#000" stroke-width="0.3">√</text>
<text x="268.20" y="72.10" font-size="5.5" font-weight="bold" fill="#000" stroke="#000" stroke-width="0.3">2</text>
<line x1="267.10" y1="67.65" x2="272.70" y2="67.65" stroke="#000" stroke-width="0.75"/>
<line x1="264.20" y1="73.10" x2="273.40" y2="73.10" stroke="#000" stroke-width="0.85"/>
<text x="268.80" y="79.45" font-size="5.5" text-anchor="middle" font-weight="bold" fill="#000" stroke="#000" stroke-width="0.3">2</text>
<text x="224.90" y="90.55" font-size="6.4" font-weight="bold" fill="#000" stroke="#000" stroke-width="0.3">ω</text>
<text x="230.20" y="91.85" font-size="4.8" font-style="italic" font-weight="bold" fill="#000" stroke="#000" stroke-width="0.3">j</text>
<text x="232.30" y="90.55" font-size="6.4" font-weight="bold" fill="#000" stroke="#000" stroke-width="0.3">=</text>
<text x="237.80" y="87.45" font-size="6.2" font-weight="bold" fill="#000" stroke="#000" stroke-width="0.3">√</text>
<text x="241.90" y="87.45" font-size="5.5" font-weight="bold" fill="#000" stroke="#000" stroke-width="0.3">2</text>
<line x1="240.80" y1="83.00" x2="246.40" y2="83.00" stroke="#000" stroke-width="0.75"/>
<line x1="237.90" y1="88.45" x2="247.10" y2="88.45" stroke="#000" stroke-width="0.85"/>
<text x="242.50" y="94.80" font-size="5.5" text-anchor="middle" font-weight="bold" fill="#000" stroke="#000" stroke-width="0.3">2</text>
<text x="247.80" y="90.55" font-size="6.4" font-weight="bold" fill="#000" stroke="#000" stroke-width="0.3">,</text>
<text x="249.50" y="90.55" font-size="6.4" font-weight="bold" fill="#000" stroke="#000" stroke-width="0.3">ω</text>
<text x="254.80" y="91.85" font-size="4.8" font-style="italic" font-weight="bold" fill="#000" stroke="#000" stroke-width="0.3">k</text>
<text x="258.10" y="90.55" font-size="6.4" font-weight="bold" fill="#000" stroke="#000" stroke-width="0.3">=</text>
<text x="264.10" y="87.45" font-size="5.5" text-anchor="middle" font-weight="bold" fill="#000" stroke="#000" stroke-width="0.3">1</text>
<line x1="262.40" y1="88.45" x2="265.80" y2="88.45" stroke="#000" stroke-width="0.85"/>
<text x="264.10" y="94.80" font-size="5.5" text-anchor="middle" font-weight="bold" fill="#000" stroke="#000" stroke-width="0.3">2</text>
<text x="366" y="7.8" font-size="6.2" text-anchor="middle" font-weight="bold" fill="#000" stroke="#000" stroke-width="0.3" >0.8</text>
<text x="349.4" y="21.2" font-size="6.2" text-anchor="middle" font-weight="bold" fill="#000" stroke="#000" stroke-width="0.3" >0.6</text>
<text x="330" y="36.6" font-size="6.2" text-anchor="middle" font-weight="bold" fill="#000" stroke="#000" stroke-width="0.3" >0.4</text>
<text x="308" y="53.8" font-size="6.2" text-anchor="middle" font-weight="bold" fill="#000" stroke="#000" stroke-width="0.3" >0.2</text>
<text x="333" y="23" font-size="7" text-anchor="middle" font-weight="bold" fill="#000" stroke="#000" stroke-width="0.3" >r<tspan font-size="5.2" dy="1.2">k</tspan></text>
<text x="291.4" y="77.6" font-size="6.2" text-anchor="middle" font-weight="bold" fill="#000" stroke="#000" stroke-width="0.3" >1.8</text>
<text x="292.6" y="87.8" font-size="6.2" text-anchor="middle" font-weight="bold" fill="#000" stroke="#000" stroke-width="0.3" >1.6</text>
<text x="294" y="96.6" font-size="6.2" text-anchor="middle" font-weight="bold" fill="#000" stroke="#000" stroke-width="0.3" >1.4</text>
<text x="295" y="105.2" font-size="6.2" text-anchor="middle" font-weight="bold" fill="#000" stroke="#000" stroke-width="0.3" >1.2</text>
<text x="313" y="122.2" font-size="6.2" text-anchor="middle" font-weight="bold" fill="#000" stroke="#000" stroke-width="0.3" >0.2</text>
<text x="345" y="134.4" font-size="6.2" text-anchor="middle" font-weight="bold" fill="#000" stroke="#000" stroke-width="0.3" >0.4</text>
<text x="378" y="147.8" font-size="6.2" text-anchor="middle" font-weight="bold" fill="#000" stroke="#000" stroke-width="0.3" >0.6</text>
<text x="413.6" y="161.2" font-size="6.2" text-anchor="middle" font-weight="bold" fill="#000" stroke="#000" stroke-width="0.3" >0.8</text>
<text x="346.5" y="147.5" font-size="7" text-anchor="middle" font-weight="bold" fill="#000" stroke="#000" stroke-width="0.3" >r<tspan font-size="5.2" dy="1.2">j</tspan></text>
<text transform="translate(283.3,90.2) rotate(-90)" font-size="6.6" font-weight="bold" fill="#000" stroke="#000" stroke-width="0.25">S<tspan font-size="4" dy="0.5">AC|CjCkI</tspan></text>
<text x="409.5" y="180.5" font-size="9" text-anchor="middle" font-weight="bold" font-family="Liberation Serif, serif">(b)</text>
<text x="499.20" y="59.25" font-size="6.4" font-weight="bold" fill="#000" stroke="#000" stroke-width="0.3">ω</text>
<text x="504.50" y="60.55" font-size="4.8" font-style="italic" font-weight="bold" fill="#000" stroke="#000" stroke-width="0.3">j</text>
<text x="506.60" y="59.25" font-size="6.4" font-weight="bold" fill="#000" stroke="#000" stroke-width="0.3">=</text>
<text x="512.80" y="56.15" font-size="5.5" text-anchor="middle" font-weight="bold" fill="#000" stroke="#000" stroke-width="0.3">1</text>
<line x1="511.10" y1="57.15" x2="514.50" y2="57.15" stroke="#000" stroke-width="0.85"/>
<text x="512.80" y="63.50" font-size="5.5" text-anchor="middle" font-weight="bold" fill="#000" stroke="#000" stroke-width="0.3">2</text>
<text x="514.80" y="59.25" font-size="6.4" font-weight="bold" fill="#000" stroke="#000" stroke-width="0.3">,</text>
<text x="516.50" y="59.25" font-size="6.4" font-weight="bold" fill="#000" stroke="#000" stroke-width="0.3">ω</text>
<text x="521.80" y="60.55" font-size="4.8" font-style="italic" font-weight="bold" fill="#000" stroke="#000" stroke-width="0.3">k</text>
<text x="525.10" y="59.25" font-size="6.4" font-weight="bold" fill="#000" stroke="#000" stroke-width="0.3">=</text>
<text x="531.10" y="56.15" font-size="6.2" font-weight="bold" fill="#000" stroke="#000" stroke-width="0.3">√</text>
<text x="535.20" y="56.15" font-size="5.5" font-weight="bold" fill="#000" stroke="#000" stroke-width="0.3">2</text>
<line x1="534.10" y1="51.70" x2="539.70" y2="51.70" stroke="#000" stroke-width="0.75"/>
<line x1="531.20" y1="57.15" x2="540.40" y2="57.15" stroke="#000" stroke-width="0.85"/>
<text x="535.80" y="63.50" font-size="5.5" text-anchor="middle" font-weight="bold" fill="#000" stroke="#000" stroke-width="0.3">2</text>
<text x="499.20" y="74.60" font-size="6.4" font-weight="bold" fill="#000" stroke="#000" stroke-width="0.3">ω</text>
<text x="504.50" y="75.90" font-size="4.8" font-style="italic" font-weight="bold" fill="#000" stroke="#000" stroke-width="0.3">j</text>
<text x="506.60" y="74.60" font-size="6.4" font-weight="bold" fill="#000" stroke="#000" stroke-width="0.3">=</text>
<text x="512.10" y="71.50" font-size="6.2" font-weight="bold" fill="#000" stroke="#000" stroke-width="0.3">√</text>
<text x="516.20" y="71.50" font-size="5.5" font-weight="bold" fill="#000" stroke="#000" stroke-width="0.3">2</text>
<line x1="515.10" y1="67.05" x2="520.70" y2="67.05" stroke="#000" stroke-width="0.75"/>
<line x1="512.20" y1="72.50" x2="521.40" y2="72.50" stroke="#000" stroke-width="0.85"/>
<text x="516.80" y="78.85" font-size="5.5" text-anchor="middle" font-weight="bold" fill="#000" stroke="#000" stroke-width="0.3">2</text>
<text x="522.10" y="74.60" font-size="6.4" font-weight="bold" fill="#000" stroke="#000" stroke-width="0.3">,</text>
<text x="523.80" y="74.60" font-size="6.4" font-weight="bold" fill="#000" stroke="#000" stroke-width="0.3">ω</text>
<text x="529.10" y="75.90" font-size="4.8" font-style="italic" font-weight="bold" fill="#000" stroke="#000" stroke-width="0.3">k</text>
<text x="532.40" y="74.60" font-size="6.4" font-weight="bold" fill="#000" stroke="#000" stroke-width="0.3">=</text>
<text x="538.40" y="71.50" font-size="6.2" font-weight="bold" fill="#000" stroke="#000" stroke-width="0.3">√</text>
<text x="542.50" y="71.50" font-size="5.5" font-weight="bold" fill="#000" stroke="#000" stroke-width="0.3">2</text>
<line x1="541.40" y1="67.05" x2="547.00" y2="67.05" stroke="#000" stroke-width="0.75"/>
<line x1="538.50" y1="72.50" x2="547.70" y2="72.50" stroke="#000" stroke-width="0.85"/>
<text x="543.10" y="78.85" font-size="5.5" text-anchor="middle" font-weight="bold" fill="#000" stroke="#000" stroke-width="0.3">2</text>
<text x="499.20" y="89.95" font-size="6.4" font-weight="bold" fill="#000" stroke="#000" stroke-width="0.3">ω</text>
<text x="504.50" y="91.25" font-size="4.8" font-style="italic" font-weight="bold" fill="#000" stroke="#000" stroke-width="0.3">j</text>
<text x="506.60" y="89.95" font-size="6.4" font-weight="bold" fill="#000" stroke="#000" stroke-width="0.3">=</text>
<text x="512.10" y="86.85" font-size="6.2" font-weight="bold" fill="#000" stroke="#000" stroke-width="0.3">√</text>
<text x="516.20" y="86.85" font-size="5.5" font-weight="bold" fill="#000" stroke="#000" stroke-width="0.3">2</text>
<line x1="515.10" y1="82.40" x2="520.70" y2="82.40" stroke="#000" stroke-width="0.75"/>
<line x1="512.20" y1="87.85" x2="521.40" y2="87.85" stroke="#000" stroke-width="0.85"/>
<text x="516.80" y="94.20" font-size="5.5" text-anchor="middle" font-weight="bold" fill="#000" stroke="#000" stroke-width="0.3">2</text>
<text x="522.10" y="89.95" font-size="6.4" font-weight="bold" fill="#000" stroke="#000" stroke-width="0.3">,</text>
<text x="523.80" y="89.95" font-size="6.4" font-weight="bold" fill="#000" stroke="#000" stroke-width="0.3">ω</text>
<text x="529.10" y="91.25" font-size="4.8" font-style="italic" font-weight="bold" fill="#000" stroke="#000" stroke-width="0.3">k</text>
<text x="532.40" y="89.95" font-size="6.4" font-weight="bold" fill="#000" stroke="#000" stroke-width="0.3">=</text>
<text x="538.40" y="86.85" font-size="5.5" text-anchor="middle" font-weight="bold" fill="#000" stroke="#000" stroke-width="0.3">1</text>
<line x1="536.70" y1="87.85" x2="540.10" y2="87.85" stroke="#000" stroke-width="0.85"/>
<text x="538.40" y="94.20" font-size="5.5" text-anchor="middle" font-weight="bold" fill="#000" stroke="#000" stroke-width="0.3">2</text>
<text x="228" y="222.8" font-size="6.2" text-anchor="middle" font-weight="bold" fill="#000" stroke="#000" stroke-width="0.3" >0.8</text>
<text x="211" y="236.2" font-size="6.2" text-anchor="middle" font-weight="bold" fill="#000" stroke="#000" stroke-width="0.3" >0.6</text>
<text x="192" y="251.6" font-size="6.2" text-anchor="middle" font-weight="bold" fill="#000" stroke="#000" stroke-width="0.3" >0.4</text>
<text x="171" y="268.6" font-size="6.2" text-anchor="middle" font-weight="bold" fill="#000" stroke="#000" stroke-width="0.3" >0.2</text>
<text x="196" y="238.5" font-size="7" text-anchor="middle" font-weight="bold" fill="#000" stroke="#000" stroke-width="0.3" >r<tspan font-size="5.2" dy="1.2">k</tspan></text>
<text x="154.4" y="288.8" font-size="6.2" text-anchor="middle" font-weight="bold" fill="#000" stroke="#000" stroke-width="0.3" >1.8</text>
<text x="155.6" y="298.8" font-size="6.2" text-anchor="middle" font-weight="bold" fill="#000" stroke="#000" stroke-width="0.3" >1.6</text>
<text x="156.6" y="308.6" font-size="6.2" text-anchor="middle" font-weight="bold" fill="#000" stroke="#000" stroke-width="0.3" >1.4</text>
<text x="157.6" y="317.8" font-size="6.2" text-anchor="middle" font-weight="bold" fill="#000" stroke="#000" stroke-width="0.3" >1.2</text>
<text x="176" y="337.5" font-size="6.2" text-anchor="middle" font-weight="bold" fill="#000" stroke="#000" stroke-width="0.3" >0.2</text>
<text x="207" y="349.8" font-size="6.2" text-anchor="middle" font-weight="bold" fill="#000" stroke="#000" stroke-width="0.3" >0.4</text>
<text x="240" y="362.2" font-size="6.2" text-anchor="middle" font-weight="bold" fill="#000" stroke="#000" stroke-width="0.3" >0.6</text>
<text x="276.6" y="375.6" font-size="6.2" text-anchor="middle" font-weight="bold" fill="#000" stroke="#000" stroke-width="0.3" >0.8</text>
<text x="209" y="361.5" font-size="7" text-anchor="middle" font-weight="bold" fill="#000" stroke="#000" stroke-width="0.3" >r<tspan font-size="5.2" dy="1.2">j</tspan></text>
<text transform="translate(144.8,303.9) rotate(-90)" font-size="6.4" font-weight="bold" fill="#000" stroke="#000" stroke-width="0.25">S<tspan font-size="5.2" dy="0.8">Cj|CkI</tspan></text>
<text x="272.2" y="395.4" font-size="9" text-anchor="middle" font-weight="bold" font-family="Liberation Serif, serif">(c)</text>
<text x="362.20" y="273.75" font-size="6.4" font-weight="bold" fill="#000" stroke="#000" stroke-width="0.3">ω</text>
<text x="367.50" y="275.05" font-size="4.8" font-style="italic" font-weight="bold" fill="#000" stroke="#000" stroke-width="0.3">j</text>
<text x="369.60" y="273.75" font-size="6.4" font-weight="bold" fill="#000" stroke="#000" stroke-width="0.3">=</text>
<text x="375.80" y="270.65" font-size="5.5" text-anchor="middle" font-weight="bold" fill="#000" stroke="#000" stroke-width="0.3">1</text>
<line x1="374.10" y1="271.65" x2="377.50" y2="271.65" stroke="#000" stroke-width="0.85"/>
<text x="375.80" y="278.00" font-size="5.5" text-anchor="middle" font-weight="bold" fill="#000" stroke="#000" stroke-width="0.3">2</text>
<text x="377.80" y="273.75" font-size="6.4" font-weight="bold" fill="#000" stroke="#000" stroke-width="0.3">,</text>
<text x="379.50" y="273.75" font-size="6.4" font-weight="bold" fill="#000" stroke="#000" stroke-width="0.3">ω</text>
<text x="384.80" y="275.05" font-size="4.8" font-style="italic" font-weight="bold" fill="#000" stroke="#000" stroke-width="0.3">k</text>
<text x="388.10" y="273.75" font-size="6.4" font-weight="bold" fill="#000" stroke="#000" stroke-width="0.3">=</text>
<text x="394.10" y="270.65" font-size="6.2" font-weight="bold" fill="#000" stroke="#000" stroke-width="0.3">√</text>
<text x="398.20" y="270.65" font-size="5.5" font-weight="bold" fill="#000" stroke="#000" stroke-width="0.3">2</text>
<line x1="397.10" y1="266.20" x2="402.70" y2="266.20" stroke="#000" stroke-width="0.75"/>
<line x1="394.20" y1="271.65" x2="403.40" y2="271.65" stroke="#000" stroke-width="0.85"/>
<text x="398.80" y="278.00" font-size="5.5" text-anchor="middle" font-weight="bold" fill="#000" stroke="#000" stroke-width="0.3">2</text>
<text x="362.20" y="289.10" font-size="6.4" font-weight="bold" fill="#000" stroke="#000" stroke-width="0.3">ω</text>
<text x="367.50" y="290.40" font-size="4.8" font-style="italic" font-weight="bold" fill="#000" stroke="#000" stroke-width="0.3">j</text>
<text x="369.60" y="289.10" font-size="6.4" font-weight="bold" fill="#000" stroke="#000" stroke-width="0.3">=</text>
<text x="375.10" y="286.00" font-size="6.2" font-weight="bold" fill="#000" stroke="#000" stroke-width="0.3">√</text>
<text x="379.20" y="286.00" font-size="5.5" font-weight="bold" fill="#000" stroke="#000" stroke-width="0.3">2</text>
<line x1="378.10" y1="281.55" x2="383.70" y2="281.55" stroke="#000" stroke-width="0.75"/>
<line x1="375.20" y1="287.00" x2="384.40" y2="287.00" stroke="#000" stroke-width="0.85"/>
<text x="379.80" y="293.35" font-size="5.5" text-anchor="middle" font-weight="bold" fill="#000" stroke="#000" stroke-width="0.3">2</text>
<text x="385.10" y="289.10" font-size="6.4" font-weight="bold" fill="#000" stroke="#000" stroke-width="0.3">,</text>
<text x="386.80" y="289.10" font-size="6.4" font-weight="bold" fill="#000" stroke="#000" stroke-width="0.3">ω</text>
<text x="392.10" y="290.40" font-size="4.8" font-style="italic" font-weight="bold" fill="#000" stroke="#000" stroke-width="0.3">k</text>
<text x="395.40" y="289.10" font-size="6.4" font-weight="bold" fill="#000" stroke="#000" stroke-width="0.3">=</text>
<text x="401.40" y="286.00" font-size="6.2" font-weight="bold" fill="#000" stroke="#000" stroke-width="0.3">√</text>
<text x="405.50" y="286.00" font-size="5.5" font-weight="bold" fill="#000" stroke="#000" stroke-width="0.3">2</text>
<line x1="404.40" y1="281.55" x2="410.00" y2="281.55" stroke="#000" stroke-width="0.75"/>
<line x1="401.50" y1="287.00" x2="410.70" y2="287.00" stroke="#000" stroke-width="0.85"/>
<text x="406.10" y="293.35" font-size="5.5" text-anchor="middle" font-weight="bold" fill="#000" stroke="#000" stroke-width="0.3">2</text>
<text x="362.20" y="304.45" font-size="6.4" font-weight="bold" fill="#000" stroke="#000" stroke-width="0.3">ω</text>
<text x="367.50" y="305.75" font-size="4.8" font-style="italic" font-weight="bold" fill="#000" stroke="#000" stroke-width="0.3">j</text>
<text x="369.60" y="304.45" font-size="6.4" font-weight="bold" fill="#000" stroke="#000" stroke-width="0.3">=</text>
<text x="375.10" y="301.35" font-size="6.2" font-weight="bold" fill="#000" stroke="#000" stroke-width="0.3">√</text>
<text x="379.20" y="301.35" font-size="5.5" font-weight="bold" fill="#000" stroke="#000" stroke-width="0.3">2</text>
<line x1="378.10" y1="296.90" x2="383.70" y2="296.90" stroke="#000" stroke-width="0.75"/>
<line x1="375.20" y1="302.35" x2="384.40" y2="302.35" stroke="#000" stroke-width="0.85"/>
<text x="379.80" y="308.70" font-size="5.5" text-anchor="middle" font-weight="bold" fill="#000" stroke="#000" stroke-width="0.3">2</text>
<text x="385.10" y="304.45" font-size="6.4" font-weight="bold" fill="#000" stroke="#000" stroke-width="0.3">,</text>
<text x="386.80" y="304.45" font-size="6.4" font-weight="bold" fill="#000" stroke="#000" stroke-width="0.3">ω</text>
<text x="392.10" y="305.75" font-size="4.8" font-style="italic" font-weight="bold" fill="#000" stroke="#000" stroke-width="0.3">k</text>
<text x="395.40" y="304.45" font-size="6.4" font-weight="bold" fill="#000" stroke="#000" stroke-width="0.3">=</text>
<text x="401.40" y="301.35" font-size="5.5" text-anchor="middle" font-weight="bold" fill="#000" stroke="#000" stroke-width="0.3">1</text>
<line x1="399.70" y1="302.35" x2="403.10" y2="302.35" stroke="#000" stroke-width="0.85"/>
<text x="401.40" y="308.70" font-size="5.5" text-anchor="middle" font-weight="bold" fill="#000" stroke="#000" stroke-width="0.3">2</text></svg></body></html>
